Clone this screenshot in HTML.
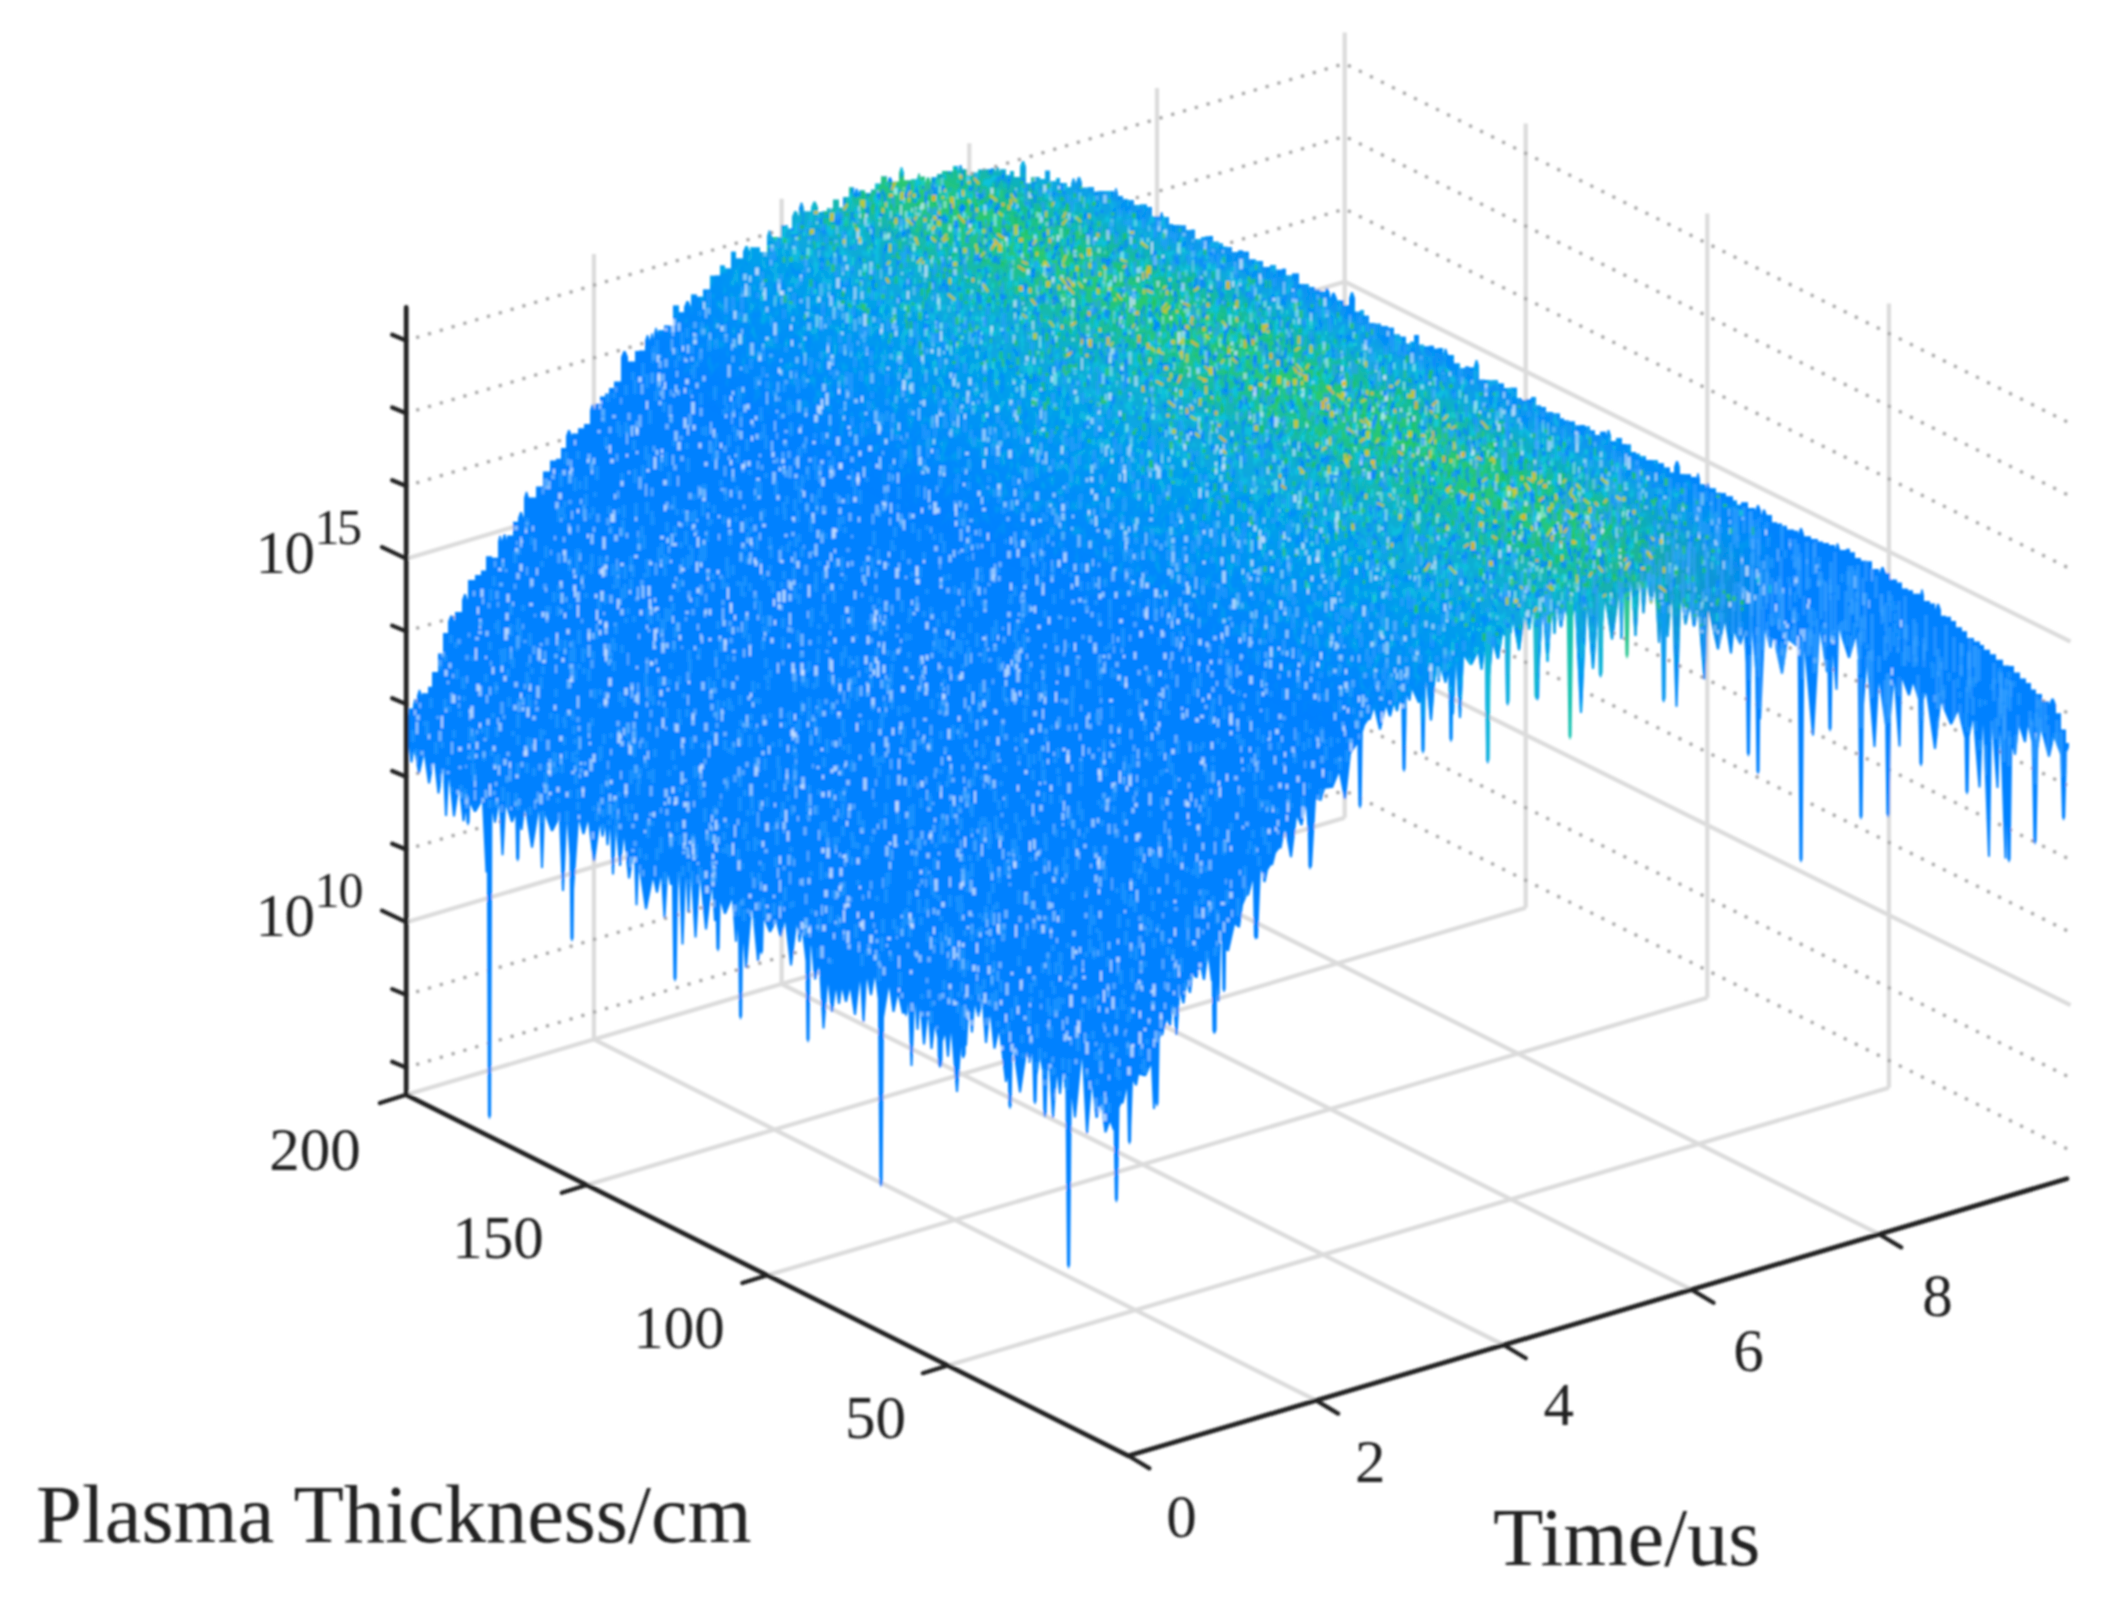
<!DOCTYPE html><html><head><meta charset="utf-8"><title>Plot</title><style>html,body{margin:0;padding:0;background:#fff}svg{display:block}</style></head><body><svg width="2110" height="1598" viewBox="0 0 2110 1598">
<rect width="100%" height="100%" fill="#fff"/>
<filter id="bl" filterUnits="userSpaceOnUse" x="0" y="0" width="2110" height="1598"><feGaussianBlur stdDeviation="1.0"/></filter>
<g filter="url(#bl)">
<path d="M593.9 1039.4L1316.1 1400.4M781.6 984.0L1503.8 1345.0M969.3 928.6L1691.5 1289.6M1157.0 873.2L1879.2 1234.2M406.2 1094.8L1344.7 817.8M586.8 1185.0L1525.7 907.8M767.3 1275.3L1707.3 997.7M947.8 1365.5L1888.9 1087.7M593.9 1039.4L593.9 254.1M781.6 984.0L781.6 198.7M969.3 928.6L969.3 143.3M1157.0 873.2L1157.0 87.9M1344.7 817.8L1344.7 32.5M1525.7 907.8L1525.7 123.5M1707.3 997.7L1707.3 213.4M1888.9 1087.7L1888.9 303.4M406.2 922.2L1344.7 645.2M1344.7 645.2L2070.5 1005.1M406.2 558.7L1344.7 281.7M1344.7 281.7L2070.5 641.6" fill="none" stroke="#dbdbdb" stroke-width="4.2"/>
<path d="M416.2 1064.6L1344.7 790.6L2068.5 1149.5M416.2 991.9L1344.7 717.9L2068.5 1076.8M416.2 846.5L1344.7 572.5L2068.5 931.4M416.2 773.8L1344.7 499.8L2068.5 858.7M416.2 701.1L1344.7 427.1L2068.5 786.0M416.2 628.4L1344.7 354.4L2068.5 713.3M416.2 483.0L1344.7 209.0L2068.5 567.9M416.2 410.3L1344.7 136.3L2068.5 495.2M416.2 337.6L1344.7 63.6L2068.5 422.5" fill="none" stroke="#a4a4a4" stroke-width="3.2" stroke-dasharray="3.2 9.1"/>
<defs>
<linearGradient id="bandg" gradientUnits="userSpaceOnUse" x1="1130.7" y1="167.4" x2="941.6" y2="531.2"><stop offset="0.000" stop-color="#0a86ff" stop-opacity="0"/><stop offset="0.054" stop-color="#0a98f2" stop-opacity="0.55"/><stop offset="0.127" stop-color="#0cb0d8" stop-opacity="0.85"/><stop offset="0.200" stop-color="#18c090" stop-opacity="0.95"/><stop offset="0.280" stop-color="#2ccc68" stop-opacity="0.97"/><stop offset="0.366" stop-color="#1ec48c" stop-opacity="0.93"/><stop offset="0.463" stop-color="#10b6c8" stop-opacity="0.86"/><stop offset="0.573" stop-color="#08aee0" stop-opacity="0.78"/><stop offset="0.707" stop-color="#08a4ec" stop-opacity="0.6"/><stop offset="0.854" stop-color="#0a98f6" stop-opacity="0.32"/><stop offset="1.000" stop-color="#0a86ff" stop-opacity="0"/></linearGradient>
<linearGradient id="alongg" gradientUnits="userSpaceOnUse" x1="698.5" y1="66.6" x2="1763.2" y2="620.2"><stop offset="0" stop-color="#000"/><stop offset="0.117" stop-color="#fff"/><stop offset="0.833" stop-color="#fff"/><stop offset="1" stop-color="#000"/></linearGradient>
<filter id="mot" filterUnits="userSpaceOnUse" x="500" y="100" width="1500" height="900" color-interpolation-filters="sRGB"><feTurbulence type="fractalNoise" baseFrequency="0.17 0.075" numOctaves="2" seed="5" result="n"/><feColorMatrix in="n" type="matrix" values="0 0 0 0 0.02  0 0 0 0 0.53  0 0 0 0 1  5 0 0 0 -2.75" result="b"/><feComposite in="b" in2="SourceGraphic" operator="in" result="bb"/><feTurbulence type="fractalNoise" baseFrequency="0.15 0.08" numOctaves="2" seed="11" result="n2"/><feColorMatrix in="n2" type="matrix" values="0 0 0 0 0.04  0 0 0 0 0.76  0 0 0 0 0.88  5 0 0 0 -2.55" result="c"/><feComposite in="c" in2="SourceGraphic" operator="in" result="cc"/><feMerge><feMergeNode in="SourceGraphic"/><feMergeNode in="cc"/><feMergeNode in="bb"/></feMerge></filter>
<mask id="bm" maskUnits="userSpaceOnUse" x="0" y="0" width="2110" height="1598"><rect width="2110" height="1598" fill="url(#alongg)"/></mask>
<clipPath id="sc"><path d="M404.0 716.3 405.8 710.3 407.2 710.3 409.0 716.3 409.0 708.5 413.0 708.5 413.0 705.1 414.4 699.1 415.6 699.1 417.0 705.1 417.0 695.8 418.8 689.8 420.2 689.8 422.0 695.8 422.0 693.3 428.0 693.3 428.0 686.8 432.0 686.8 432.0 672.1 438.0 672.1 438.0 653.6 443.0 653.6 443.0 633.0 448.0 633.0 448.0 621.5 450.4 615.5 452.6 615.5 455.0 621.5 455.0 612.1 462.0 612.1 462.0 600.0 464.1 594.0 465.9 594.0 468.0 600.0 468.0 579.9 475.0 579.9 475.0 575.1 481.0 575.1 481.0 570.5 486.0 570.5 486.0 556.3 492.0 556.3 492.0 557.8 498.0 557.8 498.0 541.4 499.4 535.4 500.6 535.4 502.0 541.4 502.0 540.0 503.8 534.0 505.2 534.0 507.0 540.0 507.0 535.4 513.0 535.4 513.0 521.7 518.0 521.7 518.0 518.1 520.1 512.1 521.9 512.1 524.0 518.1 524.0 497.8 525.8 491.8 527.2 491.8 529.0 497.8 529.0 497.4 536.0 497.4 536.0 486.6 543.0 486.6 543.0 471.4 550.0 471.4 550.0 460.6 556.0 460.6 556.0 458.7 561.0 458.7 561.0 448.1 566.0 448.1 566.0 436.1 568.1 430.1 569.9 430.1 572.0 436.1 572.0 433.5 578.0 433.5 578.0 428.2 584.0 428.2 584.0 424.0 590.0 424.0 590.0 410.4 591.8 404.4 593.2 404.4 595.0 410.4 595.0 403.7 600.0 403.7 600.0 396.5 605.0 396.5 605.0 393.4 609.0 393.4 609.0 388.0 614.0 388.0 614.0 381.6 621.0 381.6 621.0 356.9 623.5 350.9 625.5 350.9 628.0 356.9 628.0 361.5 635.0 361.5 635.0 351.1 639.0 351.1 639.0 350.4 645.0 350.4 645.0 341.1 646.8 335.1 648.2 335.1 650.0 341.1 650.0 339.2 651.4 333.2 652.6 333.2 654.0 339.2 654.0 333.7 655.4 327.7 656.6 327.7 658.0 333.7 658.0 330.2 664.0 330.2 664.0 325.6 669.0 325.6 669.0 325.8 673.0 325.8 673.0 305.5 679.0 305.5 679.0 312.2 684.0 312.2 684.0 306.9 686.5 300.9 688.5 300.9 691.0 306.9 691.0 294.6 697.0 294.6 697.0 296.7 703.0 296.7 703.0 289.6 710.0 289.6 710.0 275.8 715.0 275.8 715.0 275.6 720.0 275.6 720.0 265.6 725.0 265.6 725.0 268.4 731.0 268.4 731.0 251.7 736.0 251.7 736.0 258.5 743.0 258.5 743.0 252.1 745.5 246.1 747.5 246.1 750.0 252.1 750.0 247.6 755.0 247.6 755.0 247.4 760.0 247.4 760.0 252.1 767.0 252.1 767.0 236.5 768.8 230.5 770.2 230.5 772.0 236.5 772.0 236.9 777.0 236.9 777.0 237.1 781.0 237.1 781.0 225.5 788.0 225.5 788.0 228.8 792.0 228.8 792.0 217.0 794.5 211.0 796.5 211.0 799.0 217.0 799.0 208.7 800.8 202.7 802.2 202.7 804.0 208.7 804.0 211.4 811.0 211.4 811.0 207.7 813.5 201.7 815.5 201.7 818.0 207.7 818.0 212.0 822.0 212.0 822.0 211.4 827.0 211.4 827.0 208.0 833.0 208.0 833.0 199.7 839.0 199.7 839.0 207.8 843.0 207.8 843.0 197.2 849.0 197.2 849.0 187.5 854.0 187.5 854.0 194.8 855.8 188.8 857.2 188.8 859.0 194.8 859.0 190.6 865.0 190.6 865.0 193.2 871.0 193.2 871.0 189.8 875.0 189.8 875.0 183.7 881.0 183.7 881.0 176.6 887.0 176.6 887.0 183.6 889.1 177.6 890.9 177.6 893.0 183.6 893.0 181.7 899.0 181.7 899.0 173.5 900.8 167.5 902.2 167.5 904.0 173.5 904.0 180.4 911.0 180.4 911.0 179.6 917.0 179.6 917.0 179.7 918.4 173.7 919.6 173.7 921.0 179.7 921.0 176.8 925.0 176.8 925.0 183.5 927.1 177.5 928.9 177.5 931.0 183.5 931.0 177.5 937.0 177.5 937.0 174.2 942.0 174.2 942.0 171.1 948.0 171.1 948.0 171.5 953.0 171.5 953.0 165.9 958.0 165.9 958.0 171.3 959.8 165.3 961.2 165.3 963.0 171.3 963.0 169.4 967.0 169.4 967.0 174.9 973.0 174.9 973.0 172.7 978.0 172.7 978.0 169.8 985.0 169.8 985.0 169.6 991.0 169.6 991.0 168.4 995.0 168.4 995.0 172.9 996.8 166.9 998.2 166.9 1000.0 172.9 1000.0 169.4 1006.0 169.4 1006.0 175.0 1010.0 175.0 1010.0 171.1 1014.0 171.1 1014.0 177.0 1020.0 177.0 1020.0 167.1 1022.1 161.1 1023.9 161.1 1026.0 167.1 1026.0 183.4 1031.0 183.4 1031.0 177.5 1035.0 177.5 1035.0 176.9 1040.0 176.9 1040.0 178.9 1045.0 178.9 1045.0 170.8 1050.0 170.8 1050.0 181.3 1056.0 181.3 1056.0 178.0 1060.0 178.0 1060.0 183.1 1067.0 183.1 1067.0 187.1 1071.0 187.1 1071.0 184.4 1072.8 178.4 1074.2 178.4 1076.0 184.4 1076.0 183.1 1078.1 177.1 1079.9 177.1 1082.0 183.1 1082.0 187.8 1088.0 187.8 1088.0 187.2 1094.0 187.2 1094.0 191.7 1098.0 191.7 1098.0 190.9 1103.0 190.9 1103.0 191.3 1109.0 191.3 1109.0 191.0 1114.0 191.0 1114.0 194.3 1115.4 188.3 1116.6 188.3 1118.0 194.3 1118.0 196.1 1123.0 196.1 1123.0 199.3 1128.0 199.3 1128.0 200.3 1134.0 200.3 1134.0 204.9 1140.0 204.9 1140.0 204.5 1147.0 204.5 1147.0 206.9 1152.0 206.9 1152.0 216.4 1159.0 216.4 1159.0 218.3 1160.8 212.3 1162.2 212.3 1164.0 218.3 1164.0 217.0 1169.0 217.0 1169.0 224.0 1173.0 224.0 1173.0 224.9 1180.0 224.9 1180.0 225.6 1186.0 225.6 1186.0 230.3 1191.0 230.3 1191.0 229.8 1195.0 229.8 1195.0 239.2 1201.0 239.2 1201.0 237.2 1205.0 237.2 1205.0 236.5 1209.0 236.5 1209.0 236.0 1213.0 236.0 1213.0 241.8 1219.0 241.8 1219.0 243.6 1223.0 243.6 1223.0 246.7 1227.0 246.7 1227.0 247.2 1232.0 247.2 1232.0 252.1 1238.0 252.1 1238.0 250.5 1243.0 250.5 1243.0 251.8 1249.0 251.8 1249.0 259.5 1256.0 259.5 1256.0 261.0 1263.0 261.0 1263.0 267.0 1270.0 267.0 1270.0 264.9 1276.0 264.9 1276.0 269.8 1282.0 269.8 1282.0 268.7 1286.0 268.7 1286.0 275.4 1292.0 275.4 1292.0 273.6 1299.0 273.6 1299.0 284.0 1303.0 284.0 1303.0 284.2 1309.0 284.2 1309.0 287.1 1315.0 287.1 1315.0 289.8 1320.0 289.8 1320.0 291.3 1324.0 291.3 1324.0 294.1 1326.1 288.1 1327.9 288.1 1330.0 294.1 1330.0 298.8 1332.5 292.8 1334.5 292.8 1337.0 298.8 1337.0 300.6 1344.0 300.6 1344.0 305.3 1349.0 305.3 1349.0 298.2 1351.1 292.2 1352.9 292.2 1355.0 298.2 1355.0 311.7 1360.0 311.7 1360.0 310.1 1364.0 310.1 1364.0 315.8 1369.0 315.8 1369.0 323.0 1375.0 323.0 1375.0 323.7 1381.0 323.7 1381.0 325.9 1388.0 325.9 1388.0 327.7 1394.0 327.7 1394.0 334.5 1400.0 334.5 1400.0 336.7 1406.0 336.7 1406.0 343.7 1410.0 343.7 1410.0 341.8 1414.0 341.8 1414.0 335.1 1419.0 335.1 1419.0 344.7 1424.0 344.7 1424.0 346.6 1429.0 346.6 1429.0 345.8 1434.0 345.8 1434.0 348.7 1438.0 348.7 1438.0 347.9 1443.0 347.9 1443.0 354.7 1444.8 348.7 1446.2 348.7 1448.0 354.7 1448.0 354.9 1454.0 354.9 1454.0 363.6 1460.0 363.6 1460.0 368.3 1465.0 368.3 1465.0 366.4 1469.0 366.4 1469.0 367.6 1474.0 367.6 1474.0 365.9 1475.8 359.9 1477.2 359.9 1479.0 365.9 1479.0 379.8 1485.0 379.8 1485.0 380.1 1489.0 380.1 1489.0 380.6 1493.0 380.6 1493.0 380.3 1498.0 380.3 1498.0 383.4 1504.0 383.4 1504.0 388.3 1510.0 388.3 1510.0 387.8 1517.0 387.8 1517.0 398.3 1522.0 398.3 1522.0 400.1 1526.0 400.1 1526.0 399.2 1531.0 399.2 1531.0 397.1 1536.0 397.1 1536.0 405.5 1541.0 405.5 1541.0 406.9 1546.0 406.9 1546.0 411.9 1553.0 411.9 1553.0 413.4 1560.0 413.4 1560.0 418.6 1564.0 418.6 1564.0 420.4 1569.0 420.4 1569.0 421.5 1575.0 421.5 1575.0 425.5 1580.0 425.5 1580.0 424.9 1585.0 424.9 1585.0 426.6 1590.0 426.6 1590.0 430.4 1595.0 430.4 1595.0 435.0 1600.0 435.0 1600.0 431.7 1606.0 431.7 1606.0 435.9 1607.8 429.9 1609.2 429.9 1611.0 435.9 1611.0 441.3 1616.0 441.3 1616.0 438.0 1622.0 438.0 1622.0 444.1 1626.0 444.1 1626.0 444.4 1631.0 444.4 1631.0 452.1 1636.0 452.1 1636.0 453.7 1640.0 453.7 1640.0 456.3 1646.0 456.3 1646.0 459.9 1652.0 459.9 1652.0 460.3 1658.0 460.3 1658.0 463.3 1664.0 463.3 1664.0 467.5 1670.0 467.5 1670.0 472.5 1674.0 472.5 1674.0 467.0 1676.1 461.0 1677.9 461.0 1680.0 467.0 1680.0 473.9 1684.0 473.9 1684.0 474.3 1691.0 474.3 1691.0 476.9 1696.0 476.9 1696.0 479.2 1697.4 473.2 1698.6 473.2 1700.0 479.2 1700.0 484.2 1706.0 484.2 1706.0 488.9 1707.4 482.9 1708.6 482.9 1710.0 488.9 1710.0 488.2 1716.0 488.2 1716.0 492.7 1721.0 492.7 1721.0 493.1 1726.0 493.1 1726.0 496.3 1733.0 496.3 1733.0 500.5 1737.0 500.5 1737.0 504.7 1741.0 504.7 1741.0 502.2 1748.0 502.2 1748.0 508.1 1755.0 508.1 1755.0 510.9 1757.1 504.9 1758.9 504.9 1761.0 510.9 1761.0 515.6 1763.1 509.6 1764.9 509.6 1767.0 515.6 1767.0 515.1 1772.0 515.1 1772.0 522.2 1777.0 522.2 1777.0 523.6 1782.0 523.6 1782.0 525.7 1787.0 525.7 1787.0 529.5 1794.0 529.5 1794.0 530.8 1798.0 530.8 1798.0 533.9 1800.1 527.9 1801.9 527.9 1804.0 533.9 1804.0 536.2 1811.0 536.2 1811.0 539.1 1818.0 539.1 1818.0 541.4 1823.0 541.4 1823.0 543.0 1829.0 543.0 1829.0 544.9 1835.0 544.9 1835.0 549.3 1836.8 543.3 1838.2 543.3 1840.0 549.3 1840.0 550.0 1846.0 550.0 1846.0 548.8 1850.0 548.8 1850.0 552.3 1855.0 552.3 1855.0 558.1 1861.0 558.1 1861.0 560.7 1867.0 560.7 1867.0 561.2 1872.0 561.2 1872.0 568.9 1879.0 568.9 1879.0 573.1 1881.5 567.1 1883.5 567.1 1886.0 573.1 1886.0 573.2 1890.0 573.2 1890.0 579.6 1897.0 579.6 1897.0 582.5 1902.0 582.5 1902.0 588.5 1908.0 588.5 1908.0 590.2 1913.0 590.2 1913.0 593.8 1920.0 593.8 1920.0 595.2 1921.4 589.2 1922.6 589.2 1924.0 595.2 1924.0 600.9 1930.0 600.9 1930.0 603.6 1935.0 603.6 1935.0 609.7 1937.1 603.7 1938.9 603.7 1941.0 609.7 1941.0 615.8 1946.0 615.8 1946.0 616.7 1951.0 616.7 1951.0 620.9 1956.0 620.9 1956.0 627.3 1962.0 627.3 1962.0 631.3 1967.0 631.3 1967.0 637.9 1974.0 637.9 1974.0 641.4 1980.0 641.4 1980.0 644.9 1984.0 644.9 1984.0 649.8 1990.0 649.8 1990.0 654.3 1996.0 654.3 1996.0 659.8 2003.0 659.8 2003.0 665.6 2009.0 665.6 2009.0 666.0 2014.0 666.0 2014.0 672.4 2020.0 672.4 2020.0 678.6 2026.0 678.6 2026.0 682.9 2031.0 682.9 2031.0 689.6 2036.0 689.6 2036.0 693.9 2042.0 693.9 2042.0 701.5 2049.0 701.5 2049.0 704.6 2051.4 698.6 2053.6 698.6 2056.0 704.6 2056.0 713.2 2061.0 713.2 2061.0 729.4 2066.0 729.4 2066.0 743.1 2069.0 743.1 2069.0 747.3 2064.0 759.3 2062.0 759.3 2054.0 737.9 2050.0 756.7 2048.0 756.7 2041.0 729.8 2037.0 757.2 2035.0 757.2 2028.0 726.3 2026.0 742.2 2024.0 742.2 2019.0 726.3 2016.0 755.0 2014.0 755.0 2008.0 728.8 2006.5 858.4 2004.5 858.4 2000.0 729.3 1998.5 788.0 1996.5 788.0 1992.0 727.1 1990.0 856.7 1988.0 856.7 1983.0 724.4 1980.5 787.6 1978.5 787.6 1973.0 719.6 1968.0 744.4 1966.0 744.4 1958.0 711.5 1952.0 724.6 1950.0 724.6 1941.0 703.1 1936.0 748.9 1934.0 748.9 1926.0 693.1 1922.0 705.2 1920.0 705.2 1913.0 683.4 1910.0 695.5 1908.0 695.5 1902.0 679.2 1900.5 746.5 1898.5 746.5 1894.0 681.7 1889.0 739.3 1887.0 739.3 1879.0 682.7 1875.5 747.1 1873.5 747.1 1867.0 665.5 1864.0 704.3 1862.0 704.3 1856.0 637.1 1850.0 658.0 1848.0 658.0 1839.0 629.5 1837.5 689.7 1835.5 689.7 1831.0 631.4 1828.0 672.2 1826.0 672.2 1820.0 631.5 1814.0 735.6 1812.0 735.6 1803.0 634.5 1798.0 646.3 1796.0 646.3 1788.0 640.0 1783.0 673.7 1781.0 673.7 1773.0 637.4 1771.5 648.1 1769.5 648.1 1765.0 631.2 1761.0 719.3 1759.0 719.3 1752.0 629.9 1750.5 712.4 1748.5 712.4 1744.0 634.0 1741.5 644.4 1739.5 644.4 1734.0 632.4 1732.0 653.6 1730.0 653.6 1725.0 621.9 1719.0 649.6 1717.0 649.6 1708.0 609.3 1705.5 679.5 1703.5 679.5 1698.0 613.7 1695.0 626.6 1693.0 626.6 1690.0 607.3 1686.5 624.6 1684.5 624.6 1681.0 600.1 1677.5 706.7 1675.5 706.7 1672.0 597.4 1668.5 636.7 1666.5 636.7 1663.0 595.1 1660.0 642.7 1658.0 642.7 1655.0 588.6 1652.0 603.5 1650.0 603.5 1647.0 581.6 1644.5 613.3 1642.5 613.3 1640.0 578.2 1636.5 636.0 1634.5 636.0 1631.0 581.1 1628.5 610.9 1626.5 610.9 1624.0 586.4 1622.5 638.9 1620.5 638.9 1619.0 595.5 1613.0 639.6 1611.0 639.6 1605.0 600.5 1603.0 622.7 1601.0 622.7 1599.0 602.9 1594.0 669.1 1592.0 669.1 1587.0 606.4 1582.0 713.0 1580.0 713.0 1575.0 608.6 1571.0 623.7 1569.0 623.7 1565.0 609.0 1562.0 627.2 1560.0 627.2 1557.0 608.9 1555.5 633.7 1553.5 633.7 1552.0 609.0 1548.5 661.8 1546.5 661.8 1543.0 610.5 1539.0 676.0 1537.0 676.0 1533.0 613.0 1530.0 629.8 1528.0 629.8 1525.0 617.6 1520.0 650.3 1518.0 650.3 1513.0 621.5 1511.5 633.3 1509.5 633.3 1508.0 625.7 1506.5 636.0 1504.5 636.0 1503.0 633.7 1499.0 658.9 1497.0 658.9 1493.0 644.5 1490.0 676.9 1488.0 676.9 1485.0 649.9 1482.5 669.5 1480.5 669.5 1478.0 652.8 1472.0 665.0 1470.0 665.0 1464.0 656.3 1461.0 717.9 1459.0 717.9 1456.0 661.6 1454.0 714.3 1452.0 714.3 1450.0 666.3 1446.5 682.8 1444.5 682.8 1441.0 669.3 1439.5 681.7 1437.5 681.7 1436.0 672.7 1432.0 720.6 1430.0 720.6 1426.0 680.9 1420.0 702.9 1418.0 702.9 1412.0 689.6 1410.5 700.4 1408.5 700.4 1407.0 695.2 1404.5 708.6 1402.5 708.6 1400.0 700.7 1398.0 711.3 1396.0 711.3 1394.0 704.6 1391.0 716.5 1389.0 716.5 1386.0 706.6 1381.0 729.7 1379.0 729.7 1374.0 708.4 1370.5 720.1 1368.5 720.1 1365.0 724.9 1359.0 744.7 1357.0 744.7 1351.0 753.4 1346.0 799.0 1344.0 799.0 1339.0 772.9 1333.0 788.0 1331.0 788.0 1325.0 788.7 1321.5 800.8 1319.5 800.8 1316.0 799.3 1312.0 867.0 1310.0 867.0 1306.0 805.9 1302.5 825.6 1300.5 825.6 1297.0 817.1 1292.0 857.2 1290.0 857.2 1285.0 829.4 1281.5 848.5 1279.5 848.5 1276.0 853.0 1273.0 865.3 1271.0 865.3 1268.0 869.9 1265.5 882.3 1263.5 882.3 1261.0 868.8 1258.0 938.6 1256.0 938.6 1253.0 879.8 1249.0 895.4 1247.0 895.4 1243.0 905.2 1240.0 927.6 1238.0 927.6 1235.0 924.5 1229.0 951.2 1227.0 951.2 1221.0 940.9 1219.5 1001.6 1217.5 1001.6 1216.0 949.2 1213.0 981.1 1211.0 981.1 1208.0 957.1 1205.0 980.0 1203.0 980.0 1200.0 966.7 1197.5 977.9 1195.5 977.9 1193.0 975.4 1191.0 993.0 1189.0 993.0 1187.0 984.0 1184.5 1003.4 1182.5 1003.4 1180.0 994.4 1177.5 1035.0 1175.5 1035.0 1173.0 1005.7 1171.0 1026.1 1169.0 1026.1 1167.0 1019.8 1163.0 1035.6 1161.0 1035.6 1157.0 1044.1 1155.0 1109.1 1153.0 1109.1 1151.0 1065.3 1146.0 1076.2 1144.0 1076.2 1139.0 1074.7 1137.0 1085.6 1135.0 1085.6 1133.0 1080.9 1131.0 1136.2 1129.0 1136.2 1127.0 1088.6 1123.5 1103.6 1121.5 1103.6 1118.0 1111.3 1115.0 1130.3 1113.0 1130.3 1110.0 1122.3 1106.5 1132.5 1104.5 1132.5 1101.0 1106.8 1097.5 1118.1 1095.5 1118.1 1092.0 1085.4 1088.0 1133.5 1086.0 1133.5 1082.0 1057.9 1076.0 1117.5 1074.0 1117.5 1068.0 1065.6 1066.5 1087.7 1064.5 1087.7 1063.0 1072.9 1061.0 1094.0 1059.0 1094.0 1057.0 1075.4 1054.0 1118.0 1052.0 1118.0 1049.0 1067.0 1045.5 1078.5 1043.5 1078.5 1040.0 1058.6 1037.0 1077.5 1035.0 1077.5 1032.0 1053.0 1030.5 1063.1 1028.5 1063.1 1027.0 1051.5 1021.0 1092.4 1019.0 1092.4 1013.0 1048.7 1007.0 1082.1 1005.0 1082.1 999.0 1032.1 995.5 1048.8 993.5 1048.8 990.0 1015.2 987.0 1043.1 985.0 1043.1 982.0 1003.6 979.5 1016.7 977.5 1016.7 975.0 1004.9 973.0 1032.4 971.0 1032.4 969.0 1010.1 967.0 1045.8 965.0 1045.8 963.0 1022.1 958.0 1091.9 956.0 1091.9 951.0 1032.4 949.0 1056.7 947.0 1056.7 945.0 1035.1 941.0 1046.9 939.0 1046.9 935.0 1026.7 932.5 1049.1 930.5 1049.1 928.0 1016.4 925.0 1044.4 923.0 1044.4 920.0 1008.6 918.5 1029.7 916.5 1029.7 915.0 1003.3 912.5 1066.0 910.5 1066.0 908.0 999.0 904.0 1013.8 902.0 1013.8 898.0 995.3 894.5 1012.0 892.5 1012.0 889.0 987.3 883.0 1024.0 881.0 1024.0 875.0 977.1 872.0 995.2 870.0 995.2 867.0 978.6 864.5 1022.0 862.5 1022.0 860.0 981.0 856.0 1015.0 854.0 1015.0 850.0 989.0 847.0 1002.1 845.0 1002.1 842.0 989.3 840.0 1004.0 838.0 1004.0 836.0 989.5 833.0 1012.1 831.0 1012.1 828.0 984.0 824.5 1028.4 822.5 1028.4 819.0 966.5 816.0 979.5 814.0 979.5 811.0 945.3 807.5 961.3 805.5 961.3 802.0 931.8 800.5 942.1 798.5 942.1 797.0 924.6 792.0 965.4 790.0 965.4 785.0 921.8 781.5 936.6 779.5 936.6 776.0 922.2 771.0 932.3 769.0 932.3 764.0 919.5 759.0 960.9 757.0 960.9 752.0 909.1 747.0 967.7 745.0 967.7 740.0 902.2 737.0 941.8 735.0 941.8 732.0 899.5 726.0 913.9 724.0 913.9 718.0 893.5 716.0 921.0 714.0 921.0 712.0 887.2 707.0 929.6 705.0 929.6 700.0 878.4 696.5 937.6 694.5 937.6 691.0 877.0 689.5 912.3 687.5 912.3 686.0 876.1 683.5 944.6 681.5 944.6 679.0 875.0 677.5 897.8 675.5 897.8 674.0 873.9 672.0 884.9 670.0 884.9 668.0 874.7 665.5 917.4 663.5 917.4 661.0 877.1 658.0 892.8 656.0 892.8 653.0 878.9 647.0 909.2 645.0 909.2 639.0 868.8 637.5 905.3 635.5 905.3 634.0 854.7 630.0 878.4 628.0 878.4 624.0 838.1 621.0 866.1 619.0 866.1 616.0 830.6 614.0 874.6 612.0 874.6 610.0 827.7 608.5 845.3 606.5 845.3 605.0 826.4 603.5 836.8 601.5 836.8 600.0 825.2 595.0 861.0 593.0 861.0 588.0 821.2 584.5 834.3 582.5 834.3 579.0 820.4 574.0 890.2 572.0 890.2 567.0 821.3 564.0 891.1 562.0 891.1 559.0 819.4 553.0 831.3 551.0 831.3 545.0 815.0 543.0 868.1 541.0 868.1 539.0 811.0 533.0 847.8 531.0 847.8 525.0 808.7 522.5 830.0 520.5 830.0 518.0 807.3 513.0 822.2 511.0 822.2 506.0 805.8 503.5 855.2 501.5 855.2 499.0 804.6 496.0 822.7 494.0 822.7 491.0 802.8 487.5 872.6 485.5 872.6 482.0 801.8 476.0 811.9 474.0 811.9 468.0 799.8 464.5 821.3 462.5 821.3 459.0 789.5 455.0 816.5 453.0 816.5 449.0 778.2 447.0 816.1 445.0 816.1 443.0 768.6 439.5 793.6 437.5 793.6 434.0 761.4 430.0 783.4 428.0 783.4 424.0 755.2 420.0 773.0 418.0 773.0 414.0 750.7 412.5 762.6 410.5 762.6 409.0 747.0 407.5 759.3 405.5 759.3 404.0 758.0ZM486.5 784.0L492.5 784.0L491.1 1115.5L489.5 1119.5L487.9 1115.5ZM569.0 801.3L575.0 801.3L573.6 938.0L572.0 942.0L570.4 938.0ZM671.5 860.1L678.5 860.1L676.6 978.0L675.0 982.0L673.4 978.0ZM737.6 896.8L743.6 896.8L742.2 1016.0L740.6 1020.0L739.0 1016.0ZM805.0 917.1L811.0 917.1L809.6 1039.0L808.0 1043.0L806.4 1039.0ZM877.5 958.2L884.5 958.2L882.6 1183.5L881.0 1187.5L879.4 1183.5ZM937.7 1007.3L943.7 1007.3L942.3 1064.0L940.7 1068.0L939.1 1064.0ZM1007.0 1033.7L1013.0 1033.7L1011.6 1105.5L1010.0 1109.5L1008.4 1105.5ZM1065.1 1055.9L1072.1 1055.9L1070.2 1265.0L1068.6 1269.0L1067.0 1265.0ZM1112.9 1087.3L1119.9 1087.3L1118.0 1199.0L1116.4 1203.0L1114.8 1199.0ZM1126.5 1065.5L1132.5 1065.5L1131.1 1141.0L1129.5 1145.0L1127.9 1141.0ZM1154.0 1020.0L1160.0 1020.0L1158.6 1103.0L1157.0 1107.0L1155.4 1103.0ZM1211.0 932.7L1217.0 932.7L1215.6 1030.6L1214.0 1034.6L1212.4 1030.6ZM1252.5 860.7L1258.5 860.7L1257.1 936.0L1255.5 940.0L1253.9 936.0ZM1307.0 788.9L1313.0 788.9L1311.6 866.0L1310.0 870.0L1308.4 866.0ZM1357.0 718.9L1363.0 718.9L1361.6 805.0L1360.0 809.0L1358.4 805.0ZM1401.0 684.3L1407.0 684.3L1405.6 768.5L1404.0 772.5L1402.4 768.5ZM1420.0 669.3L1426.0 669.3L1424.6 750.0L1423.0 754.0L1421.4 750.0ZM1448.0 645.1L1454.0 645.1L1452.6 738.6L1451.0 742.6L1449.4 738.6ZM1484.7 619.0L1490.7 619.0L1489.3 760.0L1487.7 764.0L1486.1 760.0ZM1504.6 609.1L1510.6 609.1L1509.2 702.0L1507.6 706.0L1506.0 702.0ZM1534.5 599.0L1540.5 599.0L1539.1 697.0L1537.5 701.0L1535.9 697.0ZM1597.5 587.3L1603.5 587.3L1602.1 674.0L1600.5 678.0L1598.9 674.0ZM1660.6 584.4L1666.6 584.4L1665.2 699.0L1663.6 703.0L1662.0 699.0ZM1745.4 642.8L1751.4 642.8L1750.0 753.0L1748.4 757.0L1746.8 753.0ZM1755.0 643.9L1761.0 643.9L1759.6 771.0L1758.0 775.0L1756.4 771.0ZM1797.5 637.3L1804.5 637.3L1802.6 859.0L1801.0 863.0L1799.4 859.0ZM1827.0 641.7L1833.0 641.7L1831.6 728.0L1830.0 732.0L1828.4 728.0ZM1857.5 659.1L1864.5 659.1L1862.6 816.0L1861.0 820.0L1859.4 816.0ZM1884.5 675.3L1891.5 675.3L1889.6 814.0L1888.0 818.0L1886.4 814.0ZM1918.0 691.8L1924.0 691.8L1922.6 763.0L1921.0 767.0L1919.4 763.0ZM1964.0 714.6L1970.0 714.6L1968.6 791.0L1967.0 795.0L1965.4 791.0ZM2005.5 728.4L2012.5 728.4L2010.6 859.0L2009.0 863.0L2007.4 859.0ZM2031.5 733.9L2038.5 733.9L2036.6 841.0L2035.0 845.0L2033.4 841.0ZM2060.1 748.6L2067.1 748.6L2065.2 817.0L2063.6 821.0L2062.0 817.0ZM514.7 788.8L520.7 788.8L519.3 858.0L517.7 862.0L516.1 858.0ZM465.0 777.5L471.0 777.5L469.6 822.0L468.0 826.0L466.4 822.0ZM715.0 886.1L721.0 886.1L719.6 948.0L718.0 952.0L716.4 948.0ZM758.5 899.7L764.5 899.7L763.1 951.0L761.5 955.0L759.9 951.0ZM843.0 960.0L849.0 960.0L847.6 998.0L846.0 1002.0L844.4 998.0ZM903.0 981.0L909.0 981.0L907.6 1013.0L906.0 1017.0L904.4 1013.0ZM961.0 1001.2L967.0 1001.2L965.6 1054.0L964.0 1058.0L962.4 1054.0ZM1042.0 1062.0L1048.0 1062.0L1046.6 1114.0L1045.0 1118.0L1043.4 1114.0ZM1032.0 1052.0L1038.0 1052.0L1036.6 1101.0L1035.0 1105.0L1033.4 1101.0ZM960.5 1001.5L965.5 1001.5L964.6 1055.0L963.0 1059.0L961.4 1055.0ZM936.5 1007.6L942.5 1007.6L941.1 1064.0L939.5 1068.0L937.9 1064.0ZM1221.5 921.1L1226.5 921.1L1225.6 989.0L1224.0 993.0L1222.4 989.0ZM1212.5 931.5L1217.5 931.5L1216.6 1030.0L1215.0 1034.0L1213.4 1030.0ZM1253.5 860.2L1258.5 860.2L1257.6 935.0L1256.0 939.0L1254.4 935.0Z"/></clipPath>
</defs>
<path d="M404.0 716.3 405.8 710.3 407.2 710.3 409.0 716.3 409.0 708.5 413.0 708.5 413.0 705.1 414.4 699.1 415.6 699.1 417.0 705.1 417.0 695.8 418.8 689.8 420.2 689.8 422.0 695.8 422.0 693.3 428.0 693.3 428.0 686.8 432.0 686.8 432.0 672.1 438.0 672.1 438.0 653.6 443.0 653.6 443.0 633.0 448.0 633.0 448.0 621.5 450.4 615.5 452.6 615.5 455.0 621.5 455.0 612.1 462.0 612.1 462.0 600.0 464.1 594.0 465.9 594.0 468.0 600.0 468.0 579.9 475.0 579.9 475.0 575.1 481.0 575.1 481.0 570.5 486.0 570.5 486.0 556.3 492.0 556.3 492.0 557.8 498.0 557.8 498.0 541.4 499.4 535.4 500.6 535.4 502.0 541.4 502.0 540.0 503.8 534.0 505.2 534.0 507.0 540.0 507.0 535.4 513.0 535.4 513.0 521.7 518.0 521.7 518.0 518.1 520.1 512.1 521.9 512.1 524.0 518.1 524.0 497.8 525.8 491.8 527.2 491.8 529.0 497.8 529.0 497.4 536.0 497.4 536.0 486.6 543.0 486.6 543.0 471.4 550.0 471.4 550.0 460.6 556.0 460.6 556.0 458.7 561.0 458.7 561.0 448.1 566.0 448.1 566.0 436.1 568.1 430.1 569.9 430.1 572.0 436.1 572.0 433.5 578.0 433.5 578.0 428.2 584.0 428.2 584.0 424.0 590.0 424.0 590.0 410.4 591.8 404.4 593.2 404.4 595.0 410.4 595.0 403.7 600.0 403.7 600.0 396.5 605.0 396.5 605.0 393.4 609.0 393.4 609.0 388.0 614.0 388.0 614.0 381.6 621.0 381.6 621.0 356.9 623.5 350.9 625.5 350.9 628.0 356.9 628.0 361.5 635.0 361.5 635.0 351.1 639.0 351.1 639.0 350.4 645.0 350.4 645.0 341.1 646.8 335.1 648.2 335.1 650.0 341.1 650.0 339.2 651.4 333.2 652.6 333.2 654.0 339.2 654.0 333.7 655.4 327.7 656.6 327.7 658.0 333.7 658.0 330.2 664.0 330.2 664.0 325.6 669.0 325.6 669.0 325.8 673.0 325.8 673.0 305.5 679.0 305.5 679.0 312.2 684.0 312.2 684.0 306.9 686.5 300.9 688.5 300.9 691.0 306.9 691.0 294.6 697.0 294.6 697.0 296.7 703.0 296.7 703.0 289.6 710.0 289.6 710.0 275.8 715.0 275.8 715.0 275.6 720.0 275.6 720.0 265.6 725.0 265.6 725.0 268.4 731.0 268.4 731.0 251.7 736.0 251.7 736.0 258.5 743.0 258.5 743.0 252.1 745.5 246.1 747.5 246.1 750.0 252.1 750.0 247.6 755.0 247.6 755.0 247.4 760.0 247.4 760.0 252.1 767.0 252.1 767.0 236.5 768.8 230.5 770.2 230.5 772.0 236.5 772.0 236.9 777.0 236.9 777.0 237.1 781.0 237.1 781.0 225.5 788.0 225.5 788.0 228.8 792.0 228.8 792.0 217.0 794.5 211.0 796.5 211.0 799.0 217.0 799.0 208.7 800.8 202.7 802.2 202.7 804.0 208.7 804.0 211.4 811.0 211.4 811.0 207.7 813.5 201.7 815.5 201.7 818.0 207.7 818.0 212.0 822.0 212.0 822.0 211.4 827.0 211.4 827.0 208.0 833.0 208.0 833.0 199.7 839.0 199.7 839.0 207.8 843.0 207.8 843.0 197.2 849.0 197.2 849.0 187.5 854.0 187.5 854.0 194.8 855.8 188.8 857.2 188.8 859.0 194.8 859.0 190.6 865.0 190.6 865.0 193.2 871.0 193.2 871.0 189.8 875.0 189.8 875.0 183.7 881.0 183.7 881.0 176.6 887.0 176.6 887.0 183.6 889.1 177.6 890.9 177.6 893.0 183.6 893.0 181.7 899.0 181.7 899.0 173.5 900.8 167.5 902.2 167.5 904.0 173.5 904.0 180.4 911.0 180.4 911.0 179.6 917.0 179.6 917.0 179.7 918.4 173.7 919.6 173.7 921.0 179.7 921.0 176.8 925.0 176.8 925.0 183.5 927.1 177.5 928.9 177.5 931.0 183.5 931.0 177.5 937.0 177.5 937.0 174.2 942.0 174.2 942.0 171.1 948.0 171.1 948.0 171.5 953.0 171.5 953.0 165.9 958.0 165.9 958.0 171.3 959.8 165.3 961.2 165.3 963.0 171.3 963.0 169.4 967.0 169.4 967.0 174.9 973.0 174.9 973.0 172.7 978.0 172.7 978.0 169.8 985.0 169.8 985.0 169.6 991.0 169.6 991.0 168.4 995.0 168.4 995.0 172.9 996.8 166.9 998.2 166.9 1000.0 172.9 1000.0 169.4 1006.0 169.4 1006.0 175.0 1010.0 175.0 1010.0 171.1 1014.0 171.1 1014.0 177.0 1020.0 177.0 1020.0 167.1 1022.1 161.1 1023.9 161.1 1026.0 167.1 1026.0 183.4 1031.0 183.4 1031.0 177.5 1035.0 177.5 1035.0 176.9 1040.0 176.9 1040.0 178.9 1045.0 178.9 1045.0 170.8 1050.0 170.8 1050.0 181.3 1056.0 181.3 1056.0 178.0 1060.0 178.0 1060.0 183.1 1067.0 183.1 1067.0 187.1 1071.0 187.1 1071.0 184.4 1072.8 178.4 1074.2 178.4 1076.0 184.4 1076.0 183.1 1078.1 177.1 1079.9 177.1 1082.0 183.1 1082.0 187.8 1088.0 187.8 1088.0 187.2 1094.0 187.2 1094.0 191.7 1098.0 191.7 1098.0 190.9 1103.0 190.9 1103.0 191.3 1109.0 191.3 1109.0 191.0 1114.0 191.0 1114.0 194.3 1115.4 188.3 1116.6 188.3 1118.0 194.3 1118.0 196.1 1123.0 196.1 1123.0 199.3 1128.0 199.3 1128.0 200.3 1134.0 200.3 1134.0 204.9 1140.0 204.9 1140.0 204.5 1147.0 204.5 1147.0 206.9 1152.0 206.9 1152.0 216.4 1159.0 216.4 1159.0 218.3 1160.8 212.3 1162.2 212.3 1164.0 218.3 1164.0 217.0 1169.0 217.0 1169.0 224.0 1173.0 224.0 1173.0 224.9 1180.0 224.9 1180.0 225.6 1186.0 225.6 1186.0 230.3 1191.0 230.3 1191.0 229.8 1195.0 229.8 1195.0 239.2 1201.0 239.2 1201.0 237.2 1205.0 237.2 1205.0 236.5 1209.0 236.5 1209.0 236.0 1213.0 236.0 1213.0 241.8 1219.0 241.8 1219.0 243.6 1223.0 243.6 1223.0 246.7 1227.0 246.7 1227.0 247.2 1232.0 247.2 1232.0 252.1 1238.0 252.1 1238.0 250.5 1243.0 250.5 1243.0 251.8 1249.0 251.8 1249.0 259.5 1256.0 259.5 1256.0 261.0 1263.0 261.0 1263.0 267.0 1270.0 267.0 1270.0 264.9 1276.0 264.9 1276.0 269.8 1282.0 269.8 1282.0 268.7 1286.0 268.7 1286.0 275.4 1292.0 275.4 1292.0 273.6 1299.0 273.6 1299.0 284.0 1303.0 284.0 1303.0 284.2 1309.0 284.2 1309.0 287.1 1315.0 287.1 1315.0 289.8 1320.0 289.8 1320.0 291.3 1324.0 291.3 1324.0 294.1 1326.1 288.1 1327.9 288.1 1330.0 294.1 1330.0 298.8 1332.5 292.8 1334.5 292.8 1337.0 298.8 1337.0 300.6 1344.0 300.6 1344.0 305.3 1349.0 305.3 1349.0 298.2 1351.1 292.2 1352.9 292.2 1355.0 298.2 1355.0 311.7 1360.0 311.7 1360.0 310.1 1364.0 310.1 1364.0 315.8 1369.0 315.8 1369.0 323.0 1375.0 323.0 1375.0 323.7 1381.0 323.7 1381.0 325.9 1388.0 325.9 1388.0 327.7 1394.0 327.7 1394.0 334.5 1400.0 334.5 1400.0 336.7 1406.0 336.7 1406.0 343.7 1410.0 343.7 1410.0 341.8 1414.0 341.8 1414.0 335.1 1419.0 335.1 1419.0 344.7 1424.0 344.7 1424.0 346.6 1429.0 346.6 1429.0 345.8 1434.0 345.8 1434.0 348.7 1438.0 348.7 1438.0 347.9 1443.0 347.9 1443.0 354.7 1444.8 348.7 1446.2 348.7 1448.0 354.7 1448.0 354.9 1454.0 354.9 1454.0 363.6 1460.0 363.6 1460.0 368.3 1465.0 368.3 1465.0 366.4 1469.0 366.4 1469.0 367.6 1474.0 367.6 1474.0 365.9 1475.8 359.9 1477.2 359.9 1479.0 365.9 1479.0 379.8 1485.0 379.8 1485.0 380.1 1489.0 380.1 1489.0 380.6 1493.0 380.6 1493.0 380.3 1498.0 380.3 1498.0 383.4 1504.0 383.4 1504.0 388.3 1510.0 388.3 1510.0 387.8 1517.0 387.8 1517.0 398.3 1522.0 398.3 1522.0 400.1 1526.0 400.1 1526.0 399.2 1531.0 399.2 1531.0 397.1 1536.0 397.1 1536.0 405.5 1541.0 405.5 1541.0 406.9 1546.0 406.9 1546.0 411.9 1553.0 411.9 1553.0 413.4 1560.0 413.4 1560.0 418.6 1564.0 418.6 1564.0 420.4 1569.0 420.4 1569.0 421.5 1575.0 421.5 1575.0 425.5 1580.0 425.5 1580.0 424.9 1585.0 424.9 1585.0 426.6 1590.0 426.6 1590.0 430.4 1595.0 430.4 1595.0 435.0 1600.0 435.0 1600.0 431.7 1606.0 431.7 1606.0 435.9 1607.8 429.9 1609.2 429.9 1611.0 435.9 1611.0 441.3 1616.0 441.3 1616.0 438.0 1622.0 438.0 1622.0 444.1 1626.0 444.1 1626.0 444.4 1631.0 444.4 1631.0 452.1 1636.0 452.1 1636.0 453.7 1640.0 453.7 1640.0 456.3 1646.0 456.3 1646.0 459.9 1652.0 459.9 1652.0 460.3 1658.0 460.3 1658.0 463.3 1664.0 463.3 1664.0 467.5 1670.0 467.5 1670.0 472.5 1674.0 472.5 1674.0 467.0 1676.1 461.0 1677.9 461.0 1680.0 467.0 1680.0 473.9 1684.0 473.9 1684.0 474.3 1691.0 474.3 1691.0 476.9 1696.0 476.9 1696.0 479.2 1697.4 473.2 1698.6 473.2 1700.0 479.2 1700.0 484.2 1706.0 484.2 1706.0 488.9 1707.4 482.9 1708.6 482.9 1710.0 488.9 1710.0 488.2 1716.0 488.2 1716.0 492.7 1721.0 492.7 1721.0 493.1 1726.0 493.1 1726.0 496.3 1733.0 496.3 1733.0 500.5 1737.0 500.5 1737.0 504.7 1741.0 504.7 1741.0 502.2 1748.0 502.2 1748.0 508.1 1755.0 508.1 1755.0 510.9 1757.1 504.9 1758.9 504.9 1761.0 510.9 1761.0 515.6 1763.1 509.6 1764.9 509.6 1767.0 515.6 1767.0 515.1 1772.0 515.1 1772.0 522.2 1777.0 522.2 1777.0 523.6 1782.0 523.6 1782.0 525.7 1787.0 525.7 1787.0 529.5 1794.0 529.5 1794.0 530.8 1798.0 530.8 1798.0 533.9 1800.1 527.9 1801.9 527.9 1804.0 533.9 1804.0 536.2 1811.0 536.2 1811.0 539.1 1818.0 539.1 1818.0 541.4 1823.0 541.4 1823.0 543.0 1829.0 543.0 1829.0 544.9 1835.0 544.9 1835.0 549.3 1836.8 543.3 1838.2 543.3 1840.0 549.3 1840.0 550.0 1846.0 550.0 1846.0 548.8 1850.0 548.8 1850.0 552.3 1855.0 552.3 1855.0 558.1 1861.0 558.1 1861.0 560.7 1867.0 560.7 1867.0 561.2 1872.0 561.2 1872.0 568.9 1879.0 568.9 1879.0 573.1 1881.5 567.1 1883.5 567.1 1886.0 573.1 1886.0 573.2 1890.0 573.2 1890.0 579.6 1897.0 579.6 1897.0 582.5 1902.0 582.5 1902.0 588.5 1908.0 588.5 1908.0 590.2 1913.0 590.2 1913.0 593.8 1920.0 593.8 1920.0 595.2 1921.4 589.2 1922.6 589.2 1924.0 595.2 1924.0 600.9 1930.0 600.9 1930.0 603.6 1935.0 603.6 1935.0 609.7 1937.1 603.7 1938.9 603.7 1941.0 609.7 1941.0 615.8 1946.0 615.8 1946.0 616.7 1951.0 616.7 1951.0 620.9 1956.0 620.9 1956.0 627.3 1962.0 627.3 1962.0 631.3 1967.0 631.3 1967.0 637.9 1974.0 637.9 1974.0 641.4 1980.0 641.4 1980.0 644.9 1984.0 644.9 1984.0 649.8 1990.0 649.8 1990.0 654.3 1996.0 654.3 1996.0 659.8 2003.0 659.8 2003.0 665.6 2009.0 665.6 2009.0 666.0 2014.0 666.0 2014.0 672.4 2020.0 672.4 2020.0 678.6 2026.0 678.6 2026.0 682.9 2031.0 682.9 2031.0 689.6 2036.0 689.6 2036.0 693.9 2042.0 693.9 2042.0 701.5 2049.0 701.5 2049.0 704.6 2051.4 698.6 2053.6 698.6 2056.0 704.6 2056.0 713.2 2061.0 713.2 2061.0 729.4 2066.0 729.4 2066.0 743.1 2069.0 743.1 2069.0 747.3 2064.0 759.3 2062.0 759.3 2054.0 737.9 2050.0 756.7 2048.0 756.7 2041.0 729.8 2037.0 757.2 2035.0 757.2 2028.0 726.3 2026.0 742.2 2024.0 742.2 2019.0 726.3 2016.0 755.0 2014.0 755.0 2008.0 728.8 2006.5 858.4 2004.5 858.4 2000.0 729.3 1998.5 788.0 1996.5 788.0 1992.0 727.1 1990.0 856.7 1988.0 856.7 1983.0 724.4 1980.5 787.6 1978.5 787.6 1973.0 719.6 1968.0 744.4 1966.0 744.4 1958.0 711.5 1952.0 724.6 1950.0 724.6 1941.0 703.1 1936.0 748.9 1934.0 748.9 1926.0 693.1 1922.0 705.2 1920.0 705.2 1913.0 683.4 1910.0 695.5 1908.0 695.5 1902.0 679.2 1900.5 746.5 1898.5 746.5 1894.0 681.7 1889.0 739.3 1887.0 739.3 1879.0 682.7 1875.5 747.1 1873.5 747.1 1867.0 665.5 1864.0 704.3 1862.0 704.3 1856.0 637.1 1850.0 658.0 1848.0 658.0 1839.0 629.5 1837.5 689.7 1835.5 689.7 1831.0 631.4 1828.0 672.2 1826.0 672.2 1820.0 631.5 1814.0 735.6 1812.0 735.6 1803.0 634.5 1798.0 646.3 1796.0 646.3 1788.0 640.0 1783.0 673.7 1781.0 673.7 1773.0 637.4 1771.5 648.1 1769.5 648.1 1765.0 631.2 1761.0 719.3 1759.0 719.3 1752.0 629.9 1750.5 712.4 1748.5 712.4 1744.0 634.0 1741.5 644.4 1739.5 644.4 1734.0 632.4 1732.0 653.6 1730.0 653.6 1725.0 621.9 1719.0 649.6 1717.0 649.6 1708.0 609.3 1705.5 679.5 1703.5 679.5 1698.0 613.7 1695.0 626.6 1693.0 626.6 1690.0 607.3 1686.5 624.6 1684.5 624.6 1681.0 600.1 1677.5 706.7 1675.5 706.7 1672.0 597.4 1668.5 636.7 1666.5 636.7 1663.0 595.1 1660.0 642.7 1658.0 642.7 1655.0 588.6 1652.0 603.5 1650.0 603.5 1647.0 581.6 1644.5 613.3 1642.5 613.3 1640.0 578.2 1636.5 636.0 1634.5 636.0 1631.0 581.1 1628.5 610.9 1626.5 610.9 1624.0 586.4 1622.5 638.9 1620.5 638.9 1619.0 595.5 1613.0 639.6 1611.0 639.6 1605.0 600.5 1603.0 622.7 1601.0 622.7 1599.0 602.9 1594.0 669.1 1592.0 669.1 1587.0 606.4 1582.0 713.0 1580.0 713.0 1575.0 608.6 1571.0 623.7 1569.0 623.7 1565.0 609.0 1562.0 627.2 1560.0 627.2 1557.0 608.9 1555.5 633.7 1553.5 633.7 1552.0 609.0 1548.5 661.8 1546.5 661.8 1543.0 610.5 1539.0 676.0 1537.0 676.0 1533.0 613.0 1530.0 629.8 1528.0 629.8 1525.0 617.6 1520.0 650.3 1518.0 650.3 1513.0 621.5 1511.5 633.3 1509.5 633.3 1508.0 625.7 1506.5 636.0 1504.5 636.0 1503.0 633.7 1499.0 658.9 1497.0 658.9 1493.0 644.5 1490.0 676.9 1488.0 676.9 1485.0 649.9 1482.5 669.5 1480.5 669.5 1478.0 652.8 1472.0 665.0 1470.0 665.0 1464.0 656.3 1461.0 717.9 1459.0 717.9 1456.0 661.6 1454.0 714.3 1452.0 714.3 1450.0 666.3 1446.5 682.8 1444.5 682.8 1441.0 669.3 1439.5 681.7 1437.5 681.7 1436.0 672.7 1432.0 720.6 1430.0 720.6 1426.0 680.9 1420.0 702.9 1418.0 702.9 1412.0 689.6 1410.5 700.4 1408.5 700.4 1407.0 695.2 1404.5 708.6 1402.5 708.6 1400.0 700.7 1398.0 711.3 1396.0 711.3 1394.0 704.6 1391.0 716.5 1389.0 716.5 1386.0 706.6 1381.0 729.7 1379.0 729.7 1374.0 708.4 1370.5 720.1 1368.5 720.1 1365.0 724.9 1359.0 744.7 1357.0 744.7 1351.0 753.4 1346.0 799.0 1344.0 799.0 1339.0 772.9 1333.0 788.0 1331.0 788.0 1325.0 788.7 1321.5 800.8 1319.5 800.8 1316.0 799.3 1312.0 867.0 1310.0 867.0 1306.0 805.9 1302.5 825.6 1300.5 825.6 1297.0 817.1 1292.0 857.2 1290.0 857.2 1285.0 829.4 1281.5 848.5 1279.5 848.5 1276.0 853.0 1273.0 865.3 1271.0 865.3 1268.0 869.9 1265.5 882.3 1263.5 882.3 1261.0 868.8 1258.0 938.6 1256.0 938.6 1253.0 879.8 1249.0 895.4 1247.0 895.4 1243.0 905.2 1240.0 927.6 1238.0 927.6 1235.0 924.5 1229.0 951.2 1227.0 951.2 1221.0 940.9 1219.5 1001.6 1217.5 1001.6 1216.0 949.2 1213.0 981.1 1211.0 981.1 1208.0 957.1 1205.0 980.0 1203.0 980.0 1200.0 966.7 1197.5 977.9 1195.5 977.9 1193.0 975.4 1191.0 993.0 1189.0 993.0 1187.0 984.0 1184.5 1003.4 1182.5 1003.4 1180.0 994.4 1177.5 1035.0 1175.5 1035.0 1173.0 1005.7 1171.0 1026.1 1169.0 1026.1 1167.0 1019.8 1163.0 1035.6 1161.0 1035.6 1157.0 1044.1 1155.0 1109.1 1153.0 1109.1 1151.0 1065.3 1146.0 1076.2 1144.0 1076.2 1139.0 1074.7 1137.0 1085.6 1135.0 1085.6 1133.0 1080.9 1131.0 1136.2 1129.0 1136.2 1127.0 1088.6 1123.5 1103.6 1121.5 1103.6 1118.0 1111.3 1115.0 1130.3 1113.0 1130.3 1110.0 1122.3 1106.5 1132.5 1104.5 1132.5 1101.0 1106.8 1097.5 1118.1 1095.5 1118.1 1092.0 1085.4 1088.0 1133.5 1086.0 1133.5 1082.0 1057.9 1076.0 1117.5 1074.0 1117.5 1068.0 1065.6 1066.5 1087.7 1064.5 1087.7 1063.0 1072.9 1061.0 1094.0 1059.0 1094.0 1057.0 1075.4 1054.0 1118.0 1052.0 1118.0 1049.0 1067.0 1045.5 1078.5 1043.5 1078.5 1040.0 1058.6 1037.0 1077.5 1035.0 1077.5 1032.0 1053.0 1030.5 1063.1 1028.5 1063.1 1027.0 1051.5 1021.0 1092.4 1019.0 1092.4 1013.0 1048.7 1007.0 1082.1 1005.0 1082.1 999.0 1032.1 995.5 1048.8 993.5 1048.8 990.0 1015.2 987.0 1043.1 985.0 1043.1 982.0 1003.6 979.5 1016.7 977.5 1016.7 975.0 1004.9 973.0 1032.4 971.0 1032.4 969.0 1010.1 967.0 1045.8 965.0 1045.8 963.0 1022.1 958.0 1091.9 956.0 1091.9 951.0 1032.4 949.0 1056.7 947.0 1056.7 945.0 1035.1 941.0 1046.9 939.0 1046.9 935.0 1026.7 932.5 1049.1 930.5 1049.1 928.0 1016.4 925.0 1044.4 923.0 1044.4 920.0 1008.6 918.5 1029.7 916.5 1029.7 915.0 1003.3 912.5 1066.0 910.5 1066.0 908.0 999.0 904.0 1013.8 902.0 1013.8 898.0 995.3 894.5 1012.0 892.5 1012.0 889.0 987.3 883.0 1024.0 881.0 1024.0 875.0 977.1 872.0 995.2 870.0 995.2 867.0 978.6 864.5 1022.0 862.5 1022.0 860.0 981.0 856.0 1015.0 854.0 1015.0 850.0 989.0 847.0 1002.1 845.0 1002.1 842.0 989.3 840.0 1004.0 838.0 1004.0 836.0 989.5 833.0 1012.1 831.0 1012.1 828.0 984.0 824.5 1028.4 822.5 1028.4 819.0 966.5 816.0 979.5 814.0 979.5 811.0 945.3 807.5 961.3 805.5 961.3 802.0 931.8 800.5 942.1 798.5 942.1 797.0 924.6 792.0 965.4 790.0 965.4 785.0 921.8 781.5 936.6 779.5 936.6 776.0 922.2 771.0 932.3 769.0 932.3 764.0 919.5 759.0 960.9 757.0 960.9 752.0 909.1 747.0 967.7 745.0 967.7 740.0 902.2 737.0 941.8 735.0 941.8 732.0 899.5 726.0 913.9 724.0 913.9 718.0 893.5 716.0 921.0 714.0 921.0 712.0 887.2 707.0 929.6 705.0 929.6 700.0 878.4 696.5 937.6 694.5 937.6 691.0 877.0 689.5 912.3 687.5 912.3 686.0 876.1 683.5 944.6 681.5 944.6 679.0 875.0 677.5 897.8 675.5 897.8 674.0 873.9 672.0 884.9 670.0 884.9 668.0 874.7 665.5 917.4 663.5 917.4 661.0 877.1 658.0 892.8 656.0 892.8 653.0 878.9 647.0 909.2 645.0 909.2 639.0 868.8 637.5 905.3 635.5 905.3 634.0 854.7 630.0 878.4 628.0 878.4 624.0 838.1 621.0 866.1 619.0 866.1 616.0 830.6 614.0 874.6 612.0 874.6 610.0 827.7 608.5 845.3 606.5 845.3 605.0 826.4 603.5 836.8 601.5 836.8 600.0 825.2 595.0 861.0 593.0 861.0 588.0 821.2 584.5 834.3 582.5 834.3 579.0 820.4 574.0 890.2 572.0 890.2 567.0 821.3 564.0 891.1 562.0 891.1 559.0 819.4 553.0 831.3 551.0 831.3 545.0 815.0 543.0 868.1 541.0 868.1 539.0 811.0 533.0 847.8 531.0 847.8 525.0 808.7 522.5 830.0 520.5 830.0 518.0 807.3 513.0 822.2 511.0 822.2 506.0 805.8 503.5 855.2 501.5 855.2 499.0 804.6 496.0 822.7 494.0 822.7 491.0 802.8 487.5 872.6 485.5 872.6 482.0 801.8 476.0 811.9 474.0 811.9 468.0 799.8 464.5 821.3 462.5 821.3 459.0 789.5 455.0 816.5 453.0 816.5 449.0 778.2 447.0 816.1 445.0 816.1 443.0 768.6 439.5 793.6 437.5 793.6 434.0 761.4 430.0 783.4 428.0 783.4 424.0 755.2 420.0 773.0 418.0 773.0 414.0 750.7 412.5 762.6 410.5 762.6 409.0 747.0 407.5 759.3 405.5 759.3 404.0 758.0ZM486.5 784.0L492.5 784.0L491.1 1115.5L489.5 1119.5L487.9 1115.5ZM569.0 801.3L575.0 801.3L573.6 938.0L572.0 942.0L570.4 938.0ZM671.5 860.1L678.5 860.1L676.6 978.0L675.0 982.0L673.4 978.0ZM737.6 896.8L743.6 896.8L742.2 1016.0L740.6 1020.0L739.0 1016.0ZM805.0 917.1L811.0 917.1L809.6 1039.0L808.0 1043.0L806.4 1039.0ZM877.5 958.2L884.5 958.2L882.6 1183.5L881.0 1187.5L879.4 1183.5ZM937.7 1007.3L943.7 1007.3L942.3 1064.0L940.7 1068.0L939.1 1064.0ZM1007.0 1033.7L1013.0 1033.7L1011.6 1105.5L1010.0 1109.5L1008.4 1105.5ZM1065.1 1055.9L1072.1 1055.9L1070.2 1265.0L1068.6 1269.0L1067.0 1265.0ZM1112.9 1087.3L1119.9 1087.3L1118.0 1199.0L1116.4 1203.0L1114.8 1199.0ZM1126.5 1065.5L1132.5 1065.5L1131.1 1141.0L1129.5 1145.0L1127.9 1141.0ZM1154.0 1020.0L1160.0 1020.0L1158.6 1103.0L1157.0 1107.0L1155.4 1103.0ZM1211.0 932.7L1217.0 932.7L1215.6 1030.6L1214.0 1034.6L1212.4 1030.6ZM1252.5 860.7L1258.5 860.7L1257.1 936.0L1255.5 940.0L1253.9 936.0ZM1307.0 788.9L1313.0 788.9L1311.6 866.0L1310.0 870.0L1308.4 866.0ZM1357.0 718.9L1363.0 718.9L1361.6 805.0L1360.0 809.0L1358.4 805.0ZM1401.0 684.3L1407.0 684.3L1405.6 768.5L1404.0 772.5L1402.4 768.5ZM1420.0 669.3L1426.0 669.3L1424.6 750.0L1423.0 754.0L1421.4 750.0ZM1448.0 645.1L1454.0 645.1L1452.6 738.6L1451.0 742.6L1449.4 738.6ZM1484.7 619.0L1490.7 619.0L1489.3 760.0L1487.7 764.0L1486.1 760.0ZM1504.6 609.1L1510.6 609.1L1509.2 702.0L1507.6 706.0L1506.0 702.0ZM1534.5 599.0L1540.5 599.0L1539.1 697.0L1537.5 701.0L1535.9 697.0ZM1597.5 587.3L1603.5 587.3L1602.1 674.0L1600.5 678.0L1598.9 674.0ZM1660.6 584.4L1666.6 584.4L1665.2 699.0L1663.6 703.0L1662.0 699.0ZM1745.4 642.8L1751.4 642.8L1750.0 753.0L1748.4 757.0L1746.8 753.0ZM1755.0 643.9L1761.0 643.9L1759.6 771.0L1758.0 775.0L1756.4 771.0ZM1797.5 637.3L1804.5 637.3L1802.6 859.0L1801.0 863.0L1799.4 859.0ZM1827.0 641.7L1833.0 641.7L1831.6 728.0L1830.0 732.0L1828.4 728.0ZM1857.5 659.1L1864.5 659.1L1862.6 816.0L1861.0 820.0L1859.4 816.0ZM1884.5 675.3L1891.5 675.3L1889.6 814.0L1888.0 818.0L1886.4 814.0ZM1918.0 691.8L1924.0 691.8L1922.6 763.0L1921.0 767.0L1919.4 763.0ZM1964.0 714.6L1970.0 714.6L1968.6 791.0L1967.0 795.0L1965.4 791.0ZM2005.5 728.4L2012.5 728.4L2010.6 859.0L2009.0 863.0L2007.4 859.0ZM2031.5 733.9L2038.5 733.9L2036.6 841.0L2035.0 845.0L2033.4 841.0ZM2060.1 748.6L2067.1 748.6L2065.2 817.0L2063.6 821.0L2062.0 817.0ZM514.7 788.8L520.7 788.8L519.3 858.0L517.7 862.0L516.1 858.0ZM465.0 777.5L471.0 777.5L469.6 822.0L468.0 826.0L466.4 822.0ZM715.0 886.1L721.0 886.1L719.6 948.0L718.0 952.0L716.4 948.0ZM758.5 899.7L764.5 899.7L763.1 951.0L761.5 955.0L759.9 951.0ZM843.0 960.0L849.0 960.0L847.6 998.0L846.0 1002.0L844.4 998.0ZM903.0 981.0L909.0 981.0L907.6 1013.0L906.0 1017.0L904.4 1013.0ZM961.0 1001.2L967.0 1001.2L965.6 1054.0L964.0 1058.0L962.4 1054.0ZM1042.0 1062.0L1048.0 1062.0L1046.6 1114.0L1045.0 1118.0L1043.4 1114.0ZM1032.0 1052.0L1038.0 1052.0L1036.6 1101.0L1035.0 1105.0L1033.4 1101.0ZM960.5 1001.5L965.5 1001.5L964.6 1055.0L963.0 1059.0L961.4 1055.0ZM936.5 1007.6L942.5 1007.6L941.1 1064.0L939.5 1068.0L937.9 1064.0ZM1221.5 921.1L1226.5 921.1L1225.6 989.0L1224.0 993.0L1222.4 989.0ZM1212.5 931.5L1217.5 931.5L1216.6 1030.0L1215.0 1034.0L1213.4 1030.0ZM1253.5 860.2L1258.5 860.2L1257.6 935.0L1256.0 939.0L1254.4 935.0Z" fill="#0381ff"/>
<g clip-path="url(#sc)"><g filter="url(#mot)"><rect x="500" y="100" width="1500" height="900" fill="url(#bandg)" mask="url(#bm)"/></g></g>
<path d="M1566.5 601.4L1573.5 601.4L1571.5 736L1570.0 740L1568.5 736Z" fill="#19c2b0"/>
<path d="M1485.0 626.8006042296072L1491.0 626.8006042296072L1489.5 759L1488.0 763L1486.5 759Z" fill="#10b8d8"/>
<path d="M1624.0 591.6363636363636L1630.0 591.6363636363636L1628.5 655L1627.0 659L1625.5 655Z" fill="#2cc690"/>
<path d="M1598.0 595.2L1604.0 595.2L1602.5 673L1601.0 677L1599.5 673Z" fill="#12b6d6"/>
<path d="M1533.0 607.2142857142857L1539.0 607.2142857142857L1537.5 696L1536.0 700L1534.5 696Z" fill="#14b8d0"/>
<path d="M1505.0 616.9520958083832L1511.0 616.9520958083832L1509.5 701L1508.0 705L1506.5 701Z" fill="#12b4dc"/>
<path d="M1661.0 592.4L1667.0 592.4L1665.5 698L1664.0 702L1662.5 698Z" fill="#0c9cf0"/>
<g clip-path="url(#sc)" fill="none">
<path d="M642 384v10M1106 251v3M842 573v3M1450 602v7M550 759v10M747 762v5M1086 913v5M1146 666v4M1038 450v12M943 993v5M1008 517v4M1076 1059v5M1000 562v5M1368 705v8M1522 555v8M671 596v5M1533 563v4M919 446v10M667 809v6M1628 510v10M1110 752v6M934 908v6M761 804v6M940 204v6M995 709v5M1585 605v4M1087 606v7M633 824v4M1378 681v10M1602 524v8M841 883v5M861 686v10M817 315v12M946 359v5M629 413v7M579 726v5M442 774v7M718 324v4M1282 570v8M744 291v5M903 189v5M933 227v7M795 770v10M810 640v5M780 550v12M1108 984v6M1149 676v7M1583 489v4M1045 866v7M610 427v6M519 799v6M1139 670v5M693 525v5M1175 963v6M640 415v12M755 591v7M1131 943v8M1539 514v7M1179 575v8M808 268v4M1274 455v7M1036 872v3M715 433v5M1047 222v4M750 644v3M688 850v8M1171 527v8M1794 611v12M1213 687v5M1127 572v6M966 504v6M775 920v5M1056 1093v7M725 779v5M1092 612v5M1176 735v8M1026 362v3M777 822v7M1136 524v6M810 552v6M701 408v8M941 666v3M916 207v8M768 571v5M1434 404v8M932 653v5M1240 671v4M452 693v10M880 964v4M1104 282v5M1079 535v12M541 643v3M950 667v7M523 698v7M874 317v5M726 334v8M1207 483v3M722 488v3M715 688v5M589 645v12M651 786v10M837 371v4M1198 297v4M739 767v10M1040 916v4M1347 687v5M522 762v5M1161 1016v12M758 762v10M517 549v5M1020 916v6M1172 652v8M1502 503v7M1286 536v3M801 299v4M1101 1061v12M1257 762v10M960 501v6M1643 489v4M951 429v8M984 680v12M1611 598v6M1361 711v6M807 379v3M797 357v6M783 414v4M810 794v10M1609 472v4M508 752v4M834 307v12M667 502v7M860 714v3M1068 806v12M715 712v5M1825 623v5M1141 961v12M886 752v5M1254 414v10M1366 698v4M961 529v12M448 771v3M735 905v6M1034 976v4M1712 519v6M999 576v5M1864 593v12M1111 725v8M485 738v3M810 798v8M460 766v3M1109 654v5M1341 686v10M1768 637v12M805 827v8M518 636v12M833 529v10M1212 671v6M1584 524v5M1128 1043v5M770 914v5M1254 392v8M1048 953v5M1125 531v10M1206 705v4M618 575v3M976 530v5M849 808v10M1109 824v10M877 939v4M999 867v10M618 721v5M1211 902v7M1222 557v7M1137 983v7M486 790v8M740 491v8M1601 517v7M1818 564v4M717 451v8M852 561v5M1115 782v10M1206 351v12M940 710v4M1149 1049v12M1767 662v3M1312 542v4M1310 395v4M713 861v5M1137 327v4M1189 822v3M922 831v8M729 518v5M1130 308v4M585 509v12M1332 637v7M1075 367v7M804 444v4M1168 983v8M850 513v8M1100 621v5M1371 623v6M831 469v4M1476 457v12M968 794v5M1653 538v3M883 501v3M781 708v10" stroke="#d6e6ff" stroke-width="3" stroke-opacity="0.5"/>
<path d="M751 552v12M758 817v10M1022 385v5M1228 663v12M649 723v8M1145 719v6M1008 432v5M1079 829v7M1048 535v8M1152 628v5M1153 397v7M1217 941v5M1233 532v5M1165 821v12M716 657v10M1269 828v4M1199 618v10M1167 874v10M858 220v3M951 652v5M559 813v8M979 994v7M843 883v4M931 527v6M1098 995v4M1038 821v3M958 830v5M1232 622v5M1761 587v8M1243 788v4M937 1026v3M910 513v6M986 635v12M1138 267v7M1012 500v10M806 256v10M1042 670v3M1080 193v8M1245 539v5M1080 225v10M884 696v5M557 506v4M910 217v5M1166 541v5M893 414v8M706 594v8M660 355v3M477 730v4M937 486v6M1168 614v10M862 567v5M1098 950v6M1069 222v3M1071 1037v8M535 539v12M864 335v7M988 486v3M749 286v10M584 505v12M1323 769v5M1104 1023v5M1122 457v6M748 909v4M843 313v6M1668 540v4M523 624v5M640 741v7M961 407v6M1140 984v5M1365 352v6M1180 598v8M469 633v4M1278 338v12M724 679v8M951 959v8M1101 698v5M1126 546v5M978 544v5M921 676v12M1757 627v8M900 647v5M1105 661v12M794 859v7M1101 669v5M942 942v12M1235 262v12M775 296v10M657 727v10M1003 662v7M1237 412v12M572 471v5M944 836v6M853 661v3M1284 763v3M1157 469v10M1199 914v4M1053 542v4M1434 390v8M685 357v3M1237 285v12M713 583v8M1183 657v6M1676 529v10M1392 394v6M886 502v5M1232 272v7M1543 420v12M1188 928v12M543 488v6M993 679v5M859 671v6M917 574v10M795 552v12M663 638v12M808 851v10M683 745v10M803 878v8M852 535v3M535 614v3M647 661v12M1087 680v8M1258 760v3M1145 926v4M1427 428v5M899 373v7M888 563v3M871 246v3M991 569v12M993 939v5M812 494v8M1292 329v3M1065 1037v3M530 655v8M934 945v8M1122 648v5M582 619v4M1099 748v3M583 584v5M669 546v7M1078 381v4M497 686v4M1134 796v6M1659 524v5M1375 669v10M892 605v10M498 602v5M1040 430v5M897 844v3M985 588v6M1057 723v5M1778 549v12M1001 441v5M1182 331v10M1097 196v4M459 703v5M1100 1049v6M1711 502v3M837 226v8M1378 399v10M1237 601v7M1112 332v4M1193 260v12M925 840v5M805 316v3M1041 1004v5M806 437v7M1169 829v10M807 467v7M1613 465v6M1729 509v7M1242 603v5M790 872v12M686 617v4M879 510v6M752 542v6M907 753v3M851 351v6M766 784v3M734 910v6M778 496v3M925 487v12M813 551v3M1140 869v5M993 969v3M1024 597v5M661 564v3M854 804v5M1223 639v4M796 759v5M1125 1031v5M617 454v7M1717 542v5M1126 569v12M1006 698v4M578 525v7M1014 854v12M1099 563v4M837 700v4M1064 651v5M755 601v8M538 792v10M1062 461v3M965 994v5M1203 930v4M966 654v12M1375 640v6M618 491v7M1098 709v12M1443 369v5M1509 491v6M1230 716v6M1105 514v3M947 192v7M1094 509v6M495 561v6M1151 452v4M481 619v5M839 381v12M935 773v5M1579 491v5" stroke="#d6e6ff" stroke-width="2.6" stroke-opacity="0.35"/>
<path d="M733 843v12M932 449v4M554 469v5M685 388v5M839 389v5M1104 990v12M1356 568v6M934 927v7M781 723v4M828 343v10M998 924v8M549 771v3M1006 1014v8M830 415v10M1109 942v7M1279 647v3M1059 186v3M1382 712v10M872 912v6M801 275v6M1285 766v7M597 610v10M832 660v12M526 527v6M1276 827v4M580 737v12M751 693v4M791 325v5M704 302v7M1359 696v6M1901 620v7M721 443v5M963 915v5M662 455v7M847 821v5M521 693v6M1240 638v5M1317 492v8M1124 655v3M627 454v3M1204 530v4M975 791v12M1052 376v6M442 716v12M1176 436v3M941 786v12M867 347v8M476 648v12M714 429v8M764 292v4M1188 813v6M1000 836v12M578 509v4M765 288v12M713 854v5M1233 281v6M706 532v3M535 739v12M1060 976v5M1101 971v10M761 512v8M771 260v5M1030 841v10M1075 643v8M1798 636v12M1139 980v4M1020 691v5M1017 416v5M1892 668v7M1432 564v5M1125 470v12M1447 610v12M881 329v5M1321 653v6M780 856v8M844 791v4M795 714v6M1166 591v5M1160 671v5M986 448v7M675 802v3M575 766v5M1224 444v8M1232 431v5M1096 516v10M984 460v8M1461 452v6M904 198v5M836 529v3M775 620v5M752 436v5M922 508v5M1217 445v6M1231 846v5M1012 660v6M1786 632v12M1056 692v10M1293 289v3M1189 980v6M1163 255v3M1260 530v10M1284 532v7M1699 532v7M924 560v3M665 505v6M689 681v3M941 331v10M746 284v12M937 415v12M565 613v5M1058 916v6M609 662v3M1344 726v5M1493 456v6M1089 510v4M785 784v6M823 775v4M821 317v12M1776 604v8M1797 577v6M606 649v12M662 449v4M1557 609v8M1220 787v10M1126 677v10M565 649v5M1160 332v3M761 564v10M875 615v10M1201 761v3M1799 649v6M1215 604v4M1323 769v8M916 238v3M957 342v6M774 599v7M899 988v4M750 646v10M1346 669v5M588 534v4M2036 733v6M1742 557v7M1120 771v12M857 723v8M735 615v5M583 789v8M1152 242v12M956 521v5M1308 586v8M1766 529v6M1235 305v6M1480 411v3M1016 925v12M1216 462v12M792 340v6M1011 583v7M1140 1011v7M992 326v7M1611 593v5M601 401v3M987 413v4M647 401v8M779 368v5M1183 637v3M728 587v12M1535 460v5M1342 366v5M561 754v10M1283 543v3M510 762v6M575 585v12M578 605v12M649 819v6M858 912v6M1252 488v5M1303 388v10M665 382v7M1299 663v4M965 837v10M1175 928v8M618 599v10M1003 229v5M1561 543v5M844 910v12M964 483v3M1565 517v4M731 396v5M716 843v8M1056 868v6M1281 664v6M658 668v4M1199 970v8M862 396v6M1318 662v5M1809 599v5M1219 781v5M490 784v12M860 886v3M829 791v6M953 632v7M1191 432v3M965 414v5M1179 965v12M977 943v10M1227 774v7M876 411v6M480 723v5M1348 708v5M1287 815v6M1403 444v7M683 346v5M666 328v3M1035 606v7M1009 866v5M1509 591v6M1147 607v12M446 708v4M925 666v8M610 445v8M1273 806v6M1250 411v10M478 607v7M1018 785v6M1112 459v4M708 575v5M557 633v12M988 533v7M1099 889v5M956 504v12M1185 444v6M789 644v4M940 409v7M1719 518v6M1285 752v5M629 742v4" stroke="#d6e6ff" stroke-width="2.2" stroke-opacity="0.8"/>
<path d="M601 569v5M918 579v5M1023 540v7M884 503v7M903 686v6M640 377v5M1599 549v7M1030 192v6M1509 545v7M1317 558v4M860 240v4M823 792v5M685 802v5M758 478v3M561 736v5M897 568v10M612 459v4M999 924v10M956 1002v3M1028 269v6M1173 749v5M1100 769v12M835 766v5M1075 390v4M1225 484v7M531 603v3M840 771v4M1069 1037v3M1250 577v4M622 563v3M828 848v10M1016 664v5M1716 540v5M968 538v5M1105 1114v7M1121 619v4M1241 259v10M848 903v4M1747 566v10M1006 669v8M1473 450v5M1159 466v12M1295 495v7M1277 729v5M526 746v10M985 720v5M1224 571v12M831 868v10M1563 535v3M999 484v12M1851 658v5M714 866v12M861 922v5M866 214v12M1132 1045v12M894 317v12M1661 593v6M1274 298v3M1122 316v12M820 406v8M602 591v10M1096 494v6M1749 593v10M1033 553v4M855 497v5M1088 339v5M1231 713v12M612 514v8M876 610v5M1119 675v5M1111 699v3M695 334v10M844 855v3M984 637v3M1376 576v4M1554 528v8M938 508v5M832 355v10M767 823v8M626 688v7M865 778v12M730 530v5M963 874v12M1386 411v8M657 607v3M944 694v5M920 457v8M639 544v6M838 278v10M1113 783v5M847 607v6M1276 415v12M517 548v4M1043 925v8M756 764v12M1357 721v7M904 380v10M676 797v7M1739 643v5M974 888v7M862 828v5M1141 924v6M912 924v4M922 781v6M871 935v8M460 747v4M1179 332v12M1071 995v12M764 524v3M925 466v4M560 493v6M544 660v3M970 224v4M1147 583v5M1202 715v3M816 666v10M1320 622v5M824 925v6M707 886v7M838 437v8M1519 535v5M936 879v12M948 630v5M1137 834v7M1346 682v6M1685 608v7M1129 1067v8M977 326v5M1188 802v5M1699 507v5M760 353v8M1787 624v4M1833 636v8M675 543v3M1008 665v10M929 745v4M619 731v12M1207 409v3M870 446v5M858 477v5M665 480v5M687 379v5M1124 465v8M569 680v8M873 698v10M865 314v12M615 796v5M826 890v7M1033 901v8M730 909v3M1417 650v5M501 583v3M704 489v12M757 268v7M683 568v3M997 406v6M765 885v6M569 710v5M1270 660v8M743 464v5M967 452v3M897 801v10M782 291v4M1231 892v6M1236 351v5M679 442v8M677 724v8M834 528v10M683 738v5M610 678v8M823 848v5M1188 586v8M506 628v12M478 684v7M1495 439v7M1118 957v5M864 575v7M635 857v5M1065 552v10M1571 593v3M779 592v10M1010 450v8M806 918v10M740 334v10M1197 718v4M943 902v5M546 785v8M500 568v3M1110 393v7M922 656v8M1130 774v12M784 590v12M1156 589v8M673 324v8M702 764v5M935 502v12M974 965v6M795 732v5M662 536v3M1415 656v5M636 555v3M1063 504v7M1234 599v10M693 402v12M955 248v5M1045 185v8M1251 676v8M816 415v7M1174 1008v8M1369 471v8M889 937v3M984 508v3M586 771v5" stroke="#d6e6ff" stroke-width="3.4" stroke-opacity="0.8"/>
<path d="M1332 634v5M919 208v8M809 323v7M1117 662v5M1382 391v4M1601 460v7M712 704v6M802 651v6M1501 408v10M1401 670v10M1414 625v12M839 712v6M725 732v4M836 891v8M1126 531v4M443 652v5M994 575v7M1156 1031v7M1341 598v4M914 740v12M1040 693v8M1072 310v10M790 288v3M692 357v4M835 816v5M953 778v4M758 758v5M798 929v5M1084 997v6M1188 308v8M1530 562v10M955 221v4M1646 506v3M1056 1010v7M793 532v4M745 314v8M1200 427v7M678 390v5M701 488v7M943 814v5M1266 688v6M537 707v4M633 849v3M789 627v5M765 248v8M1210 860v10M999 759v3M938 910v5M1104 793v5M1090 724v5M803 784v5M1054 911v10M1113 571v10M967 800v7M961 796v6M882 680v8M1675 568v8M1177 563v8M1327 310v7M662 629v8M786 430v3M716 809v5M935 628v5M1170 266v4M1551 461v4M1130 352v12M440 731v10M734 339v8M1004 924v5M852 457v5M789 855v10M1179 513v5M1127 537v7M1138 761v6M1066 699v5M977 763v6M1072 321v4M632 683v7M990 929v7M422 751v4M1247 822v4M797 735v8M675 465v5M663 374v7M620 824v5M1015 861v7M1220 659v5M667 424v5M621 528v8M660 361v7M687 847v3M1311 518v10M1258 577v5M602 798v6M802 634v12M547 612v7M759 380v5M1156 1034v8M877 505v10M516 801v5M847 313v10M789 580v8M527 522v3M1002 328v3M766 849v4M572 664v10M695 736v6M1006 910v8M923 738v5M1395 621v10M1112 1053v5M1000 962v6M1266 624v5M553 475v4M548 740v10M971 880v12M950 224v6M1115 567v3M1540 608v4M781 605v5M1103 861v8M916 951v5M971 519v3M1537 566v5M822 533v10M634 722v8M1519 418v5M932 283v6M1091 477v4M951 795v5M929 957v5M799 400v12M916 851v5M1102 668v5M711 691v8M948 588v5M779 279v10M996 1002v8M1065 286v4M803 670v12M1702 493v12M684 851v3M685 779v3M880 426v5M546 479v10M1193 514v6M1538 516v5M1093 754v5M651 813v3M825 324v4M1144 350v3M1023 592v5M955 814v4M682 456v5M606 702v5M1621 564v4M611 595v8M1341 658v3M1100 877v10M1218 269v12M1170 939v4M885 486v7M718 837v7M898 588v12M681 523v4M810 458v4M1184 233v3M605 564v12M640 477v12M929 743v8M1088 325v12M593 633v6M988 437v5M755 525v6M1073 600v4M1016 1050v5M1109 530v8M1057 646v6M1023 385v12M872 373v10M856 435v10M913 411v4M1364 344v6M922 1012v4M801 879v6M995 239v7M907 374v5M794 669v12M1670 605v8M1145 609v8M666 359v8M1252 612v6M628 723v10M589 454v8M681 565v8M690 493v6" stroke="#d6e6ff" stroke-width="3.4" stroke-opacity="0.5"/>
<path d="M1233 690v3M1023 613v4M572 468v3M1293 298v4M1064 1074v5M1331 641v6M1098 818v5M1142 986v5M992 872v8M588 459v4M910 913v7M1759 573v12M1006 680v6M608 693v5M1536 517v12M651 661v5M1224 922v10M1757 569v10M637 666v3M716 459v10M570 527v7M749 559v5M1108 445v3M774 895v3M665 802v3M1533 549v7M645 830v3M790 613v12M922 354v7M1278 820v6M835 795v5M581 762v3M1190 657v5M1090 1081v8M1509 486v8M1601 452v5M879 642v5M1150 472v5M912 1003v8M1074 277v8M600 405v4M1010 1032v10M1338 644v4M736 454v3M1376 669v3M982 497v7M1106 446v10M1019 650v12M726 414v4M637 451v3M845 256v5M668 688v3M1275 756v8M859 517v5M1764 587v8M931 937v12M1220 931v12M1107 1008v5M831 553v8M1137 890v12M1209 901v5M592 462v12M1561 614v6M951 764v10M769 746v8M826 906v7M1098 529v3M672 534v12M731 490v7M873 743v12M1262 680v7M1080 947v6M1218 719v8M1073 820v8M1540 598v12M781 370v5M1042 693v5M1783 588v6M1255 288v8M1504 392v6M1210 328v6M753 702v5M722 709v12M719 515v3M1712 603v3M864 467v10M1249 523v3M636 517v4M637 429v3M1172 616v12M1407 435v5M1697 611v12M1015 489v7M1199 417v12M1426 621v6M497 798v6M578 696v12M1073 947v12M818 405v8M794 517v5M1388 331v5M707 830v10M1098 860v5M1621 528v4M985 205v10M1207 490v7M1037 575v10M1298 670v12M1388 537v12M676 385v7M632 426v10M1044 264v12M992 976v8M880 457v12M1801 629v6M1054 367v7M1228 830v12M688 345v8M582 576v8M1339 592v3M1268 467v7M830 658v12M855 591v8M1617 528v10M919 686v5M1211 281v8M499 765v10M594 458v6M470 709v4M747 715v12M1131 236v8M1143 573v5M1506 498v12M636 712v6M972 545v5M1192 614v5M1033 321v10M1194 594v3M684 843v6M1267 807v5M798 456v12M902 915v3M1033 398v8M954 550v7M1224 902v3M1755 595v5M1536 527v4M958 383v5M1181 641v7M1203 698v4M417 722v12M871 663v8M817 506v4M765 632v4M1089 713v6M564 550v5M743 387v5M1092 465v8M897 801v12M846 761v5M429 734v5M1205 764v7M1225 840v12M866 412v3M1688 567v6M638 692v12M1092 477v5M1683 504v7M891 503v10M469 744v5M1497 421v4M1306 550v5M889 552v5M1087 478v4M1251 721v10M1159 888v5M949 938v7M733 469v12M943 413v3M890 862v7M1031 1035v7M1240 279v7M1130 445v12M1151 626v3M904 520v10M1203 843v7M939 298v12M1335 713v7M808 722v5M793 728v12M972 1020v5M1072 584v5M1019 479v5M1173 955v5M1269 311v5M655 608v4M1034 839v10M1045 916v4M733 391v4M833 675v10M695 646v4M1373 407v5M884 642v12M1134 554v5M1126 820v5M1450 372v4M924 735v4M767 307v5M654 641v8M750 276v6M1730 528v6M590 742v3M1399 656v8M928 468v5M973 692v12M756 903v7M579 815v4M630 590v4M1237 813v6M827 433v5M1435 561v8M1014 335v8M1408 413v12" stroke="#d6e6ff" stroke-width="2.6" stroke-opacity="0.65"/>
<path d="M1183 713v6M1356 424v12M1386 591v4M1009 551v7M1063 513v7M1075 215v4M1158 281v6M961 854v7M549 763v10M807 504v7M765 720v5M685 833v4M849 476v3M907 812v6M784 822v7M923 203v6M480 631v3M724 620v6M1108 230v10M970 911v5M1173 552v10M994 780v8M1093 819v8M1151 518v3M745 274v6M925 718v3M832 471v5M733 682v7M843 499v4M1078 656v3M1085 600v3M616 535v6M742 522v10M803 777v12M477 637v3M849 618v5M751 784v12M899 775v10M1077 1026v12M664 677v8M860 206v12M1337 511v12M1092 418v6M932 614v5M796 474v4M822 946v12M1139 833v5M634 731v12M1104 655v3M693 840v4M1213 772v10M1815 658v5M508 628v6M1280 714v5M958 849v8M1215 636v4M772 245v6M1227 626v10M850 679v5M1484 588v5M516 526v4M663 643v10M712 689v4M708 569v5M1318 550v12M1662 602v3M906 667v5M1035 711v5M886 601v10M1264 537v5M891 690v12M572 675v7M541 794v10M869 949v5M797 236v4M1432 478v3M856 399v4M1184 331v8M1427 456v8M846 854v8M791 582v8M1069 783v10M1100 426v5M1293 747v5M768 914v7M1112 348v6M1626 482v8M1160 693v3M822 460v4M1651 597v3M1160 847v10M516 682v5M539 648v12M480 686v10M850 804v6M1150 848v8M743 543v5M418 715v5M1587 512v8M879 560v4M1105 195v8M1341 655v3M1504 410v4M1080 598v4M752 343v12M1650 552v4M807 312v5M1336 409v5M985 838v4M515 705v5M912 383v10M1335 669v4M676 431v10M871 262v12M1157 727v3M1381 631v6M1113 744v3M1201 276v3M1297 549v6M894 308v7M886 737v10M534 716v4M1245 373v6M1036 399v6M1122 523v6M1032 448v5M887 846v10M1203 757v8M901 722v7M1142 578v10M936 546v5M1136 376v10M1075 984v5M1186 536v6M774 472v12M1001 836v5M1422 462v4M840 463v6M831 296v10M1313 761v7M1165 230v8M1107 799v12M984 429v12M564 470v5M1236 776v4M523 707v4M1096 853v5M831 466v12M636 695v7M1577 432v12M666 789v8M1021 648v5M1198 368v6M484 752v5M824 506v8M917 603v8M868 556v5M833 703v6M1190 404v3M1009 612v5M790 594v7M1403 684v7M923 471v3M622 609v6M538 686v12M614 415v3M557 502v6M1186 800v6M686 359v3M1271 551v4M518 573v6M824 384v7M622 741v5M1183 283v8M1018 672v10M500 723v8M928 853v5M703 682v8M929 807v4M578 592v10M963 869v5M1038 851v5M998 446v10M703 329v5M1740 628v7M1067 666v10M1549 439v12M986 775v7M573 771v3M591 759v12M1041 805v6M687 611v3M985 256v3M525 751v5M667 643v5M848 780v5M1015 410v7M824 711v5M545 783v4M1422 385v4M1412 353v10M1239 540v8M1269 307v5M1075 250v7M1050 1064v4M1062 275v5M1407 667v12M734 650v3M651 607v8M505 759v6M783 459v4M1381 697v3M706 723v8M1026 892v12M899 352v12M1323 574v4M1321 528v5M955 269v6M1250 637v10M781 291v4M610 659v3M1102 1105v12M1095 643v10M1201 861v5M1037 492v8M1173 538v5" stroke="#d6e6ff" stroke-width="3.4" stroke-opacity="0.65"/>
<path d="M1004 797v3M848 562v5M1015 313v7M938 861v8M1176 388v10M1129 527v5M480 619v10M787 769v10M1087 1069v5M1304 783v12M624 728v7M1187 709v8M966 469v5M1011 537v7M844 416v4M521 537v10M1747 591v12M695 533v3M1045 697v7M734 410v7M1243 569v5M1231 337v8M816 727v8M1626 454v12M716 861v3M1087 716v12M899 759v10M679 522v4M939 663v7M1718 630v4M1263 385v5M1359 359v4M775 803v4M1293 648v10M1943 704v10M898 513v8M1224 534v12M1041 407v12M828 561v7M779 284v8M657 628v5M673 616v7M604 837v12M1402 479v5M1395 668v5M1287 651v5M1576 431v3M921 401v3M671 560v3M929 490v12M1395 434v8M1083 745v10M1192 974v8M951 674v6M1099 1006v6M575 440v5M1405 674v4M1379 371v10M1157 928v4M1111 960v12M1415 576v5M1344 417v5M1015 1048v4M688 425v10M1152 733v7M894 459v5M1328 398v12M1250 747v5M1086 891v6M1431 671v10M935 818v4M901 205v10M1118 939v5M1040 782v3M899 423v7M879 708v4M1153 850v4M503 559v8M1043 671v8M780 880v12M574 569v5M1106 529v5M1073 515v3M868 566v10M1043 709v10M810 927v6M1120 474v7M1218 914v8M1299 442v10M1105 1092v12M1067 1031v7M822 263v3M694 333v4M691 598v4M693 842v12M1188 412v5M1143 551v8M899 956v12M1232 515v10M1154 1039v8M946 936v4M701 634v6M1243 826v3M788 745v7M1355 412v10M589 633v8M1325 508v7M934 439v5M1034 357v7M1182 707v3M795 749v3M682 743v5M1263 873v5M1242 758v5M805 337v3M898 473v10M1239 786v8M1233 555v7M835 549v4M917 567v8M513 602v4M1318 738v10M1257 848v4M655 598v4M1094 238v8M865 580v5M844 288v5M486 656v3M1007 238v8M1390 701v3M1337 524v10M533 526v5M1009 623v12M1030 1003v4M647 625v4M1143 943v12M950 877v10M1144 854v8M957 953v4M1033 804v12M621 734v5M1057 681v3M1074 618v3M978 966v6M1521 524v5M845 402v8M2042 749v6M645 756v7M648 751v8M415 710v5M1825 635v7M735 825v12M2045 755v10M1083 751v5M1283 478v7M889 233v6M778 663v10M780 906v12M537 568v7M693 715v5M882 324v8M982 844v12M1217 428v5M834 933v6M912 600v5M1508 400v5M1397 673v6M1165 753v7M1160 701v7M1169 613v5M1174 991v4M792 557v5M1197 854v8M998 635v5M1203 796v5M755 489v6M1126 542v10M1125 910v3M910 385v5M1017 198v10M1311 313v12M615 494v5M593 832v7M1345 730v6M1342 351v8M1048 759v5M1717 525v8M1063 878v5M712 815v7M1046 452v12M1042 215v7M958 415v12M1260 274v5M1656 473v8M1082 358v12M1191 793v8M1142 1044v5M907 841v3M1064 801v10M1376 365v7M475 775v12M1048 742v10M1321 652v3M1782 649v6M702 636v7M1045 781v3M923 670v7M605 836v8M1083 968v4" stroke="#d6e6ff" stroke-width="2.2" stroke-opacity="0.65"/>
<path d="M1210 907v5M891 211v7M1164 632v5M1137 775v7M910 753v10M971 653v10M936 325v6M483 598v6M784 907v4M1479 552v7M646 484v12M738 430v6M810 925v12M930 505v4M1250 359v6M1211 789v5M744 505v4M1057 938v5M818 407v3M747 538v5M802 489v3M1273 482v3M1231 880v8M420 703v5M742 329v5M878 190v3M639 634v5M709 308v6M888 684v10M1483 522v10M776 393v8M945 747v7M615 623v3M694 801v6M1196 799v8M1146 612v7M1023 302v3M977 974v7M1384 644v8M880 615v7M819 830v10M1185 844v7M901 639v4M775 421v10M1109 1075v5M948 952v6M1031 662v5M1281 320v7M862 334v4M697 519v3M876 573v5M475 790v10M1230 358v8M472 729v7M880 216v10M1150 309v4M1816 565v8M901 352v12M1319 694v7M1764 584v4M1387 391v10M1371 570v12M798 816v5M761 882v8M688 695v10M1237 665v12M1016 693v8M459 696v4M830 631v4M958 730v4M1223 250v3M1594 559v10M964 777v6M959 589v6M611 749v6M972 834v3M1453 651v4M901 748v6M947 815v10M555 536v4M706 308v10M610 528v5M924 677v3M1120 317v10M1278 830v4M1359 655v7M1072 765v6M1078 1020v12M1602 515v4M940 470v6M1027 629v3M709 745v12M944 687v4M1869 600v8M1093 559v7M908 279v5M1091 864v4M982 544v4M678 476v10M796 373v5M822 905v10M1382 634v5M1160 595v3M869 891v7M845 764v4M1419 481v8M976 740v7M1322 568v8M1053 331v4M627 432v12M1100 655v8M719 534v6M1083 960v7M1208 923v6M1217 681v5M936 368v7M1289 437v8M1139 494v6M1218 511v5M806 413v4M607 446v3M928 909v8M1051 928v10M1167 492v8M763 344v6M1215 842v12M1264 518v5M1146 753v3M1324 535v3M666 727v3M808 611v7M965 787v12M1522 531v12M618 809v10M1417 513v12M890 518v7M836 845v8M1099 577v12M712 826v5M1054 752v4M1112 449v5M881 630v4M556 665v8M726 640v5M943 693v12M1105 1027v5M1036 853v7M950 758v3M1240 870v5M1504 423v5M1222 558v8M1019 613v3M767 392v12M1511 434v5M711 422v12M793 317v4M568 459v6M655 866v10M1327 689v12M839 301v8M1085 1033v10M1065 640v12M1270 731v8M416 756v8M1241 746v6M760 533v7M1426 403v12M1346 390v6M1252 641v3M673 332v4M742 622v10M1027 654v5M1049 861v10M982 394v3M604 612v3M886 675v5M1262 802v5M1217 416v7M607 696v7M683 581v5M1685 606v5M561 518v4M670 832v10M888 485v7M656 659v5M1705 617v8M1027 924v6M1779 619v10M1146 533v12M470 713v7M1566 510v7M1255 754v12M453 674v4M1031 210v4M1080 734v6M610 804v10M995 428v5M935 185v5M692 395v3M1190 742v10M1435 556v8M1032 264v3M942 683v3M1199 662v4M580 774v4M977 192v6M1043 460v4M1081 343v4M1730 520v4M1314 626v7M1079 852v7M838 892v5M1063 1020v10M1124 762v8M778 868v10M687 792v5M621 771v8M1266 616v12M522 540v3M732 344v6M1152 505v8M484 751v7M876 930v3M1198 689v8M731 603v6M1063 823v3M913 761v3M498 718v6M927 790v10M898 298v5M1208 665v7M1172 570v8M917 597v6M1476 401v8M859 942v5M781 290v5M1352 656v5M571 460v12M1104 752v12M936 321v3M1184 440v8M1232 910v7M572 511v8M840 853v4M757 724v4M805 353v12" stroke="#d6e6ff" stroke-width="2.2" stroke-opacity="0.5"/>
<path d="M968 1012v7M792 730v6M1214 717v6M1034 178v3M1365 424v4M739 860v10M1344 378v10M1418 447v8M802 663v12M687 511v10M1050 504v3M1560 474v10M1170 791v3M841 463v6M1230 686v4M989 966v8M826 566v12M775 323v12M1819 581v5M767 905v3M698 588v5M528 707v10M962 672v7M507 613v7M1173 348v4M1153 1002v8M655 457v12M641 610v5M735 311v8M671 834v12M684 820v8M863 920v10M1255 525v6M853 637v5M1641 470v5M1032 729v5M842 332v3M1129 378v5M661 690v6M950 984v5M739 738v8M508 594v8M558 787v5M454 695v8M912 676v3M949 756v4M725 639v12M1076 950v4M1280 783v5M1015 300v7M917 566v10M1155 255v10M1372 642v5M954 374v12M1028 437v6M927 655v5M1514 405v10M840 886v5M748 404v5M694 425v5M1620 562v3M1099 857v12M1209 292v5M1054 877v5M1403 704v4M985 766v3M1513 409v7M630 746v8M901 519v5M1203 908v10M607 781v5M1100 594v5M1122 363v8M1043 428v3M1068 755v8M1298 776v6M494 746v5M876 657v6M858 229v10M813 513v10M930 834v5M1043 746v5M839 712v3M600 620v4M1113 997v12M659 373v12M984 700v7M433 764v7M1386 395v6M1026 770v4M716 733v12M1511 577v7M648 469v3M961 883v6M841 868v8M749 461v5M802 922v7M849 426v3M543 612v5M1431 664v7M954 947v12M637 427v8M838 559v7M652 662v3M694 848v12M979 491v5M926 683v12M798 561v7M603 417v4M876 411v12M1140 1032v12M611 780v4M890 842v3M561 581v7M1033 519v6M879 422v12M829 361v8M1364 606v10M1267 430v12M773 452v5M1136 803v4M1303 806v12M793 663v10M1077 576v10M668 538v5M814 441v3M756 561v5M1084 976v3M1221 449v5M884 621v4M1087 564v8M1344 706v3M963 943v4M1730 602v5M827 393v12M963 959v10M563 658v4M927 622v7M505 676v5M782 560v3M970 378v7M985 993v10M673 787v6M1461 579v6M604 537v12M878 667v10M521 564v7M968 391v12M1405 636v5M800 428v5M1029 967v6M858 858v6M678 623v8M884 665v8M1260 537v12M1224 457v12M685 418v10M1039 625v4M482 589v8M706 871v7M1200 639v6M626 784v10M767 337v3M1499 424v7M1019 669v3M594 754v8M446 670v6M913 514v4M949 729v10M960 675v5M1030 248v3M1002 1046v4M819 297v5M992 188v6M1414 522v5M832 584v6M1087 1042v12M1251 592v4M1526 501v5M1027 356v5M823 478v8M622 481v5M1248 573v5M700 766v7M1294 580v12M1110 353v10M1629 457v12M1271 647v10M1303 543v6M674 319v6M1104 760v4M1064 748v3M803 704v7M1370 348v5M1011 400v5M556 654v4M722 326v5M1351 739v12M875 618v12M1154 984v12M750 894v4M885 562v7M714 835v8M808 928v5M926 265v12M772 638v5M1198 825v5M1194 941v4M752 420v4M1138 277v5M550 792v3M874 669v6M848 931v12M517 774v4M671 415v7M895 835v12M1484 403v4M495 764v5M1099 410v4M472 706v12M575 575v3M706 462v4M713 874v12M1165 653v6M1053 277v7M866 656v8M1059 560v7M832 769v4M1528 610v7M1012 1044v7M1141 631v6M1269 829v5M1315 694v5M1386 713v7M568 629v5M700 443v5M1152 990v3M1178 619v5M932 349v4M649 586v10M1073 299v8M1200 963v4" stroke="#d6e6ff" stroke-width="3" stroke-opacity="0.8"/>
<path d="M973 402v3M995 644v7M1198 928v10M884 967v8M997 380v5M476 754v4M660 401v4M836 741v6M1255 570v3M818 530v8M657 450v5M814 718v3M1060 616v3M836 921v3M1384 376v3M993 568v12M744 723v4M562 593v10M1009 873v5M1186 604v7M450 663v5M949 998v6M1187 612v5M1364 469v7M763 751v4M1382 527v3M571 678v4M1738 646v4M1022 252v7M1026 739v4M939 348v8M1296 299v12M1543 597v5M898 649v5M1040 724v8M1049 902v7M1665 496v3M1152 386v5M697 383v5M1045 963v5M875 955v5M1052 575v7M1069 213v7M741 431v8M1432 537v6M1163 688v10M614 510v12M1387 642v12M603 409v7M780 468v3M1289 538v3M928 1012v4M980 703v8M910 913v12M757 434v5M1250 508v5M1137 518v6M1207 642v5M968 526v6M1013 689v12M1017 500v5M880 729v6M1324 342v12M794 580v5M871 675v3M855 287v12M1115 270v12M1383 636v3M1294 449v7M1189 367v10M1041 388v3M1327 439v7M1129 591v5M950 555v7M610 794v7M1340 686v3M979 587v8M487 631v5M985 600v12M1401 408v4M1228 918v4M1188 434v7M801 785v3M458 790v4M912 919v10M729 365v12M1051 930v3M1774 651v7M840 508v6M1103 592v5M1430 382v3M1016 654v6M1306 682v7M1289 563v8M1211 529v8M1025 1016v4M636 814v6M679 323v8M1182 300v3M1159 221v10M1100 911v7M794 246v8M1065 1034v7M1363 695v12M706 609v5M1592 540v6M688 802v10M1287 630v8M793 517v3M651 562v3M962 549v3M682 772v12M809 878v6M1425 440v6M849 944v5M749 696v4M1288 356v6M1134 289v4M1035 235v10M931 831v5M990 274v3M1133 1008v5M816 544v12M636 765v8M1244 633v8M725 818v4M1702 625v8M786 534v3M1167 798v7M483 798v4M565 550v12M605 644v12M599 430v3M1395 464v8M1526 585v8M1005 502v5M1038 791v5M914 612v3M1479 598v3M685 837v8M1063 813v7M592 534v10M1088 235v10M1023 513v8M589 629v10M704 376v5M759 495v4M1325 580v3M1433 624v5M1262 412v5M1075 564v7M1269 738v3M1133 808v5M1054 493v4M693 837v10M917 890v6M745 405v7M1446 533v4M1407 700v7M1336 642v8M920 955v7M1232 341v10M1224 619v4M1804 629v12M1025 585v4M1052 903v5M693 713v12M1126 683v5M704 782v5M550 770v6M1185 991v3M888 367v3M669 797v7M1438 535v5M862 291v8M1549 481v3M1028 1058v12M1032 607v4M704 540v5M818 925v4M694 524v4M1085 844v4M1585 459v8M1150 793v12M1383 592v6M733 627v7M905 778v7M1099 769v6M905 307v3M1156 340v3M1223 465v6M962 405v3M643 586v12M1074 931v5M1390 422v6M1135 220v6M926 326v10M1299 318v6M1743 517v3M1796 579v4M1096 875v7M606 624v10M549 481v8M488 719v6M1007 983v12M818 766v3M785 440v5M1169 569v6M532 579v7M659 375v12M583 787v5M968 926v3M969 706v5M1090 541v7M848 896v5M954 1000v5M778 495v5M1697 514v7" stroke="#d6e6ff" stroke-width="3" stroke-opacity="0.65"/>
<path d="M1340 408v6M1053 236v5M1665 514v5M1354 332v6M1545 512v5M1489 413v5M1419 511v12M835 253v12M1503 458v12M1265 299v8M1338 512v8M1127 424v8M1437 516v7M1307 420v7M1623 512v5M1541 468v12M906 211v6M981 332v12M1149 362v3M920 262v10M1285 443v7M1363 389v5M1169 457v5M1501 591v8M1515 591v12M1341 374v5M1046 272v6M1292 410v3M1106 394v8M1216 348v7M1121 272v10M1695 587v5M808 248v10M962 336v3M1148 238v4M1466 395v8M1204 443v3M860 270v6M1595 544v5M1024 380v4M1332 489v7M1414 364v7M1241 456v12M1261 404v12M1425 435v4M966 273v5M1230 336v5M1256 346v5M1172 444v10M1335 472v10M1146 398v4M1496 453v5M1306 537v5" stroke="#b8f4ee" stroke-width="2.6" stroke-opacity="0.6"/>
<path d="M438 716v3M1105 846v8M922 879v5M637 597v4M1322 756v7M1053 508v7M688 672v10M770 546v3M1378 563v8M467 655v5M1555 568v5M525 640v3M901 219v12M735 775v7M847 446v6M1554 427v5M635 425v3M842 303v3M909 559v5M927 349v4M940 557v7M592 660v8M1577 587v5M1388 582v5M1055 403v5M1031 1037v7M443 769v5M1017 660v12M1213 249v5M1177 637v10M540 764v6M885 232v5M770 616v10M969 780v8M827 650v3M820 465v10M790 466v12M502 702v12M786 380v4M1140 936v12M690 414v12M1307 516v5M936 768v5M571 642v5M872 614v10M1529 579v12M1001 664v7M1173 562v4M806 565v10M1594 479v10M870 547v3M570 500v4M786 470v7M581 768v5M855 319v12M989 1000v5M1003 934v7M1322 730v12M1421 356v4M459 639v5M1068 981v4M599 809v5M1753 539v10M975 841v10M1249 441v3M976 584v5M1320 585v5M829 451v5M1114 983v6M1021 374v3M1045 411v12M1776 582v12M771 354v3M1284 716v4M681 436v4M830 873v4M1795 576v10M608 518v7M1266 652v6M440 660v6M670 405v12M721 575v4M1283 650v5M1483 500v7M998 833v5M871 638v5M1297 607v10M1109 797v5M933 416v12M1063 532v8M1271 786v5M1030 605v7M839 496v7M1009 852v4M1401 507v10M787 774v10M1935 695v7M540 650v12M789 451v7M642 738v5M1176 907v4M693 609v6M1270 743v7M534 646v8M519 702v10M837 765v5M606 692v12M1244 876v12M1353 680v7M1071 976v3M1180 1005v4M494 791v4M1470 436v5M1140 916v5M1048 1024v3M598 514v8M874 829v5M854 763v8M1152 468v3M1150 344v3M1445 428v4M1537 441v8M1108 1033v4M1260 567v8M1167 769v3M850 897v5M1117 829v8M654 353v7M1135 622v5M701 585v10M929 990v8M606 621v6M742 294v3M1251 310v12M1199 535v10M725 446v6M1172 465v5M990 658v4M1092 519v5M1161 544v6M1156 540v6M796 458v7M1133 995v5M874 605v5M940 994v6M1034 919v10M945 712v4M795 674v7M867 846v8M980 653v3M1170 812v7M1580 490v12M695 322v6M1099 721v4M950 432v3M826 699v5M1483 548v3M1043 551v5M1445 648v10M960 808v5M1051 198v3M1167 685v4M1068 425v3M1006 734v6M1230 666v12M869 944v6M1794 617v5M1721 635v12M1065 431v4M1700 617v8M561 609v5M1230 617v3M1173 545v7M1028 637v5M533 744v6M631 745v10M545 584v5M889 678v4M1042 655v4M1276 610v12M1261 277v6M1335 575v6M1218 521v7M696 530v5M762 283v7M821 284v12M848 548v4M497 591v8M731 638v5M547 638v7M642 580v7M1231 605v4M1238 593v12M1069 725v6M1227 679v8M986 391v12M1462 377v7M764 715v10M725 488v6M895 221v7M954 421v5M1149 466v6M1072 327v3M1050 466v6M999 441v7M1365 673v5M1319 743v3M860 317v7M559 553v10M1142 712v5M743 770v5M1156 609v12M919 838v12M578 717v5M891 354v5M631 565v6M754 878v10M689 591v7M635 841v5M1003 720v5M1209 644v8M730 621v5M1054 217v7M911 830v10M944 399v5M1455 444v5M987 1018v7" stroke="#d6e6ff" stroke-width="3.4" stroke-opacity="0.35"/>
<path d="M1091 252v10M1303 635v8M865 331v5M607 556v5M944 351v3M994 913v12M569 524v8M631 857v10M626 791v6M1344 546v4M1170 836v12M1064 486v3M859 946v6M677 371v6M919 408v12M1289 671v6M1076 724v6M1452 490v7M1038 915v5M1198 662v10M629 471v3M1704 544v6M772 441v10M745 461v6M893 475v5M677 682v8M885 615v5M734 742v5M777 410v3M829 292v5M908 943v5M574 585v6M1715 625v7M942 757v8M1249 293v4M1348 426v6M581 499v5M1339 626v7M988 648v3M1539 531v6M1003 849v10M1056 1089v8M655 646v3M1153 407v4M1340 758v3M978 829v4M1176 960v7M1364 358v7M710 333v7M647 702v5M1311 677v5M1105 268v12M1118 637v5M1245 694v3M1131 879v5M705 611v6M1416 567v5M676 577v4M1041 549v7M890 951v5M1303 656v8M876 572v4M843 267v8M708 513v6M816 911v5M1293 358v5M474 591v5M1553 536v5M1165 1003v6M1258 569v6M511 807v3M995 564v12M999 917v6M1008 860v3M878 824v5M1089 748v6M1201 867v6M1196 577v12M673 455v10M902 993v5M791 371v7M917 953v5M638 587v12M487 695v8M663 387v12M546 588v4M959 948v12M1377 682v6M1203 759v4M1027 695v4M804 923v12M564 537v5M1124 287v10M1016 747v4M1095 463v6M1124 777v7M698 624v6M1108 497v12M710 823v7M1119 1059v7M1306 622v5M448 681v3M751 911v5M1313 381v3M727 781v7M1215 446v8M1261 709v3M910 368v10M547 612v10M845 235v12M963 599v7M785 441v3M1256 610v8M744 649v8M1089 511v5M701 767v12M1252 540v12M650 560v5M741 367v3M1471 459v6M888 743v10M781 359v3M1256 337v5M867 682v3M1015 692v12M1400 686v3M580 553v8M661 391v5M939 852v3M977 720v10M698 862v3M1149 1019v5M1241 654v6M589 733v5M1179 778v3M1162 931v10M912 850v5M1243 768v3M1336 517v12M902 272v3M985 361v12M808 297v12M620 599v6M764 637v4M1384 477v5M714 900v7M723 608v12M490 687v8M1060 523v5M1095 647v3M1404 501v4M876 950v10M1456 566v8M965 1005v12M1126 836v6M774 460v3M1282 736v6M1089 375v5M738 819v6M1422 439v8M923 354v10M737 676v4M496 782v4M831 206v4M796 786v12M967 1009v6M989 776v8M585 762v3M898 625v4M1392 674v3M885 819v10M900 727v7M1072 527v3M1238 719v12M848 392v5M1279 418v5M1250 521v5M1284 282v12M1185 547v3M632 686v12M996 710v4M1049 1020v10M466 794v10M947 703v12M594 527v5M840 918v5M999 913v10M1451 489v7M977 568v12M1551 599v12M987 931v3M1444 624v7M1057 721v8M760 454v3M1288 556v12M844 930v4M965 698v10M887 944v3M899 563v8M1294 751v6M817 706v3M729 456v4M1128 447v8M627 533v5M850 431v5M1189 783v5M1067 1017v7M1243 704v6M976 388v3M886 707v5M511 647v12M1472 380v4M1096 583v4M1332 582v8M1438 667v12M1326 602v10M860 755v5M1045 644v4M674 393v4M452 742v12M717 848v4M845 345v10M906 576v3M1260 274v10M1116 1025v10M1387 618v12M729 914v5M649 629v3M1081 758v3M1200 805v7M1138 749v10M661 559v8M758 615v5M987 919v8M467 798v6M1392 635v5" stroke="#d6e6ff" stroke-width="2.6" stroke-opacity="0.5"/>
<path d="M606 622v6M493 667v7M1049 617v7M674 348v6M1142 713v7M1287 784v5M716 820v10M1825 660v8M1145 1028v3M1332 598v12M1131 882v8M1288 800v12M600 630v5M886 439v5M810 808v7M1113 488v4M1222 902v3M1175 900v3M1015 862v6M1099 1107v7M860 451v5M1522 451v4M1366 340v10M835 638v5M1127 786v5M902 929v7M1500 550v8M1263 536v7M1648 476v4M980 932v5M755 558v5M911 970v4M896 326v10M1558 522v7M1287 689v10M944 466v10M951 373v5M596 594v4M654 812v5M1018 549v8M1146 700v5M1547 616v7M1744 589v4M1029 1027v7M803 670v5M893 728v7M1116 592v6M663 718v10M822 748v3M1012 972v3M1085 279v4M1181 516v7M502 666v6M697 562v10M1603 528v4M849 683v8M605 699v6M1058 235v6M606 565v4M1133 581v3M998 737v8M1891 680v5M1209 694v5M804 491v6M658 355v7M1092 489v5M747 612v8M932 256v10M1361 458v7M950 257v3M690 841v3M822 399v10M756 416v4M1120 411v5M779 604v5M701 562v5M1784 633v5M1077 849v7M710 638v3M1043 583v12M655 629v12M786 810v12M1079 1021v12M1040 519v3M680 635v5M1285 607v8M1062 446v8M868 636v8M729 520v7M1309 556v8M763 841v6M840 684v7M784 466v8M1252 560v6M720 636v5M924 400v6M1266 683v3M1156 463v7M1414 416v5M1620 549v10M1255 387v12M967 985v12M1222 633v6M1430 667v4M477 742v7M877 464v4M570 471v12M1602 522v12M1200 488v10M1334 552v4M1445 604v7M1006 237v4M878 661v6M1068 750v12M959 941v6M1335 598v6M868 684v12M762 801v5M908 291v8M1486 384v12M879 961v4M1265 383v6M1114 568v3M1724 561v8M1051 785v6M1662 534v10M1135 652v7M1014 379v5M1281 601v8M1096 237v4M603 567v10M1018 620v3M1212 742v7M1130 393v4M941 466v3M650 599v10M1119 727v6M731 603v10M1090 636v6M1382 472v5M1161 1013v6M1159 722v5M858 473v12M1385 375v5M1162 630v7M1785 621v3M1182 863v6M1263 692v4M1187 582v4M1204 561v3M1312 576v5M1131 296v12M674 584v4M555 705v5M1186 555v7M567 792v5M1775 640v10M847 265v5M718 570v4M530 684v7M1577 444v8M569 560v4M1808 604v5M710 609v6M741 553v8M809 585v12M731 460v5M921 870v4M1231 731v4M751 538v7M845 904v5M1743 587v12M1134 293v12M748 538v5M1018 1006v8M1001 1000v5M1266 662v5M941 578v10M1171 316v4M1021 980v10M626 852v5M1318 663v3M954 796v10M698 537v10M1325 298v8M959 716v5M1205 241v10M1272 567v5M788 831v10M1855 576v12M1211 660v4M1133 1044v3" stroke="#d6e6ff" stroke-width="2.6" stroke-opacity="0.8"/>
<path d="M1045 691v12M566 597v5M609 644v12M461 792v6M983 317v3M504 715v4M801 425v3M1218 584v5M1227 650v5M698 875v8M742 900v5M972 914v3M643 870v6M942 178v7M1158 729v5M1046 729v5M927 683v8M959 551v3M637 421v5M1002 813v4M1387 585v12M813 715v6M1154 987v5M1056 867v8M623 854v8M1252 758v5M1003 719v4M929 871v3M1028 503v8M1132 457v5M710 441v12M664 702v5M705 759v5M1057 336v3M1369 723v5M758 461v8M963 765v6M968 176v7M733 356v6M1098 402v5M1108 987v10M695 709v6M726 297v8M757 267v7M1134 745v6M847 389v10M554 762v5M699 486v12M599 803v7M1106 1097v6M652 488v8M1019 761v4M1109 336v10M783 452v12M1066 873v5M1251 624v10M1023 600v12M847 900v7M591 690v7M1037 285v8M833 741v5M941 469v5M989 583v3M963 519v7M873 514v10M725 466v10M794 806v6M1397 470v10M1012 268v12M1075 966v10M675 723v8M842 304v7M723 711v3M1524 595v6M811 735v10M743 465v7M760 861v4M1177 675v12M914 287v8M489 603v5M1141 981v7M933 802v3M589 723v8M1230 706v5M570 664v5M902 517v10M979 1013v10M1318 795v5M1237 719v7M984 365v8M1160 1032v4M836 240v4M545 651v10M1242 655v3M916 579v3M1344 645v3M1254 511v10M689 855v3M656 563v12M1312 661v12M709 741v8M985 827v12M972 924v10M1199 824v12M1325 359v5M1497 616v4M885 501v6M828 838v10M876 585v7M1198 309v10M1112 219v7M1166 229v5M1103 307v4M1387 658v10M1115 824v10M759 902v8M654 446v5M978 400v4M1016 541v7M1317 556v4M467 796v12M982 999v7M525 684v5M651 710v7M1174 607v10M762 465v5M1114 348v12M778 382v10M1269 600v4M1045 1080v5M966 733v4M738 627v5M1102 443v10M701 349v10M1135 524v8M871 881v8M1096 1042v4M1015 532v12M1235 537v5M750 553v7M927 978v5M990 427v8M1034 919v4M1317 736v5M1013 849v7M718 824v5M717 723v5M958 606v5M959 614v3M1059 516v10M1196 906v12M647 658v5M1337 559v8M806 894v10M536 799v4M1131 729v10M1193 239v3M1790 539v7M955 501v10M896 396v7M469 756v3M1186 360v12M986 913v7M1203 586v8M1235 315v5M840 689v5M510 769v12M1054 824v10M815 806v8M672 505v4M1260 639v5M777 458v5M806 408v8M783 660v5M1116 1027v6M753 424v3M1767 630v8M1013 260v10M1701 603v7M1614 485v3M1083 635v4M1138 480v10M1092 304v8M726 305v7M1088 367v3M507 776v6M1026 468v12M809 815v6M1062 699v3M506 569v3M1096 1098v10M1004 637v6M846 377v7M1208 314v12M548 795v5M891 759v10M933 296v4M901 514v8M723 600v5M1149 1018v4M1010 883v3M1016 650v3M515 584v5M1136 791v5M903 385v12M1279 674v5M973 408v6M1447 589v10M934 825v7M933 335v12M741 417v10M1042 353v10M1163 959v10M998 753v5M1040 849v5M668 822v6M674 641v8M1454 459v8M897 634v3M779 397v4M734 656v5M531 578v10M1746 631v5M1343 722v8M652 373v10M1352 606v6M1059 717v10M784 866v4M1339 655v5M1141 847v8M931 725v10" stroke="#d6e6ff" stroke-width="3" stroke-opacity="0.35"/>
<path d="M1247 352v5M809 239v5M949 306v6M910 234v10M1571 592v12M1477 584v6M1243 396v6M925 274v8M1605 545v10M1315 508v5M1662 541v12M959 314v8M1336 514v5M952 300v4M1419 398v4M1617 467v5M1264 353v10M921 207v6M1373 415v4M1680 514v4M1421 490v7M1293 523v4M1259 295v10M1351 505v7M1412 545v7M1267 320v8M1182 439v6M1223 301v3M1212 366v10M1399 433v8M1708 552v6M1180 304v5M1490 613v7M976 173v5M1322 441v12M1537 618v7" stroke="#b8f4ee" stroke-width="2.6" stroke-opacity="0.35"/>
<path d="M1571 513v7M1463 494v8M904 238v3M1298 524v10M1111 366v10M1435 377v8M1533 614v8M1181 352v5M1381 492v10M911 329v8M1549 565v5M1067 250v5M1508 487v10M1525 569v4M1205 271v5M1379 401v5M1308 452v6M1280 306v3M1559 601v5M1193 251v6M1159 333v12M957 193v6" stroke="#b8f4ee" stroke-width="3.4" stroke-opacity="0.5"/>
<path d="M1398 495v12M819 250v7M1328 534v7M922 273v3M786 239v10M1641 601v4M1377 360v8M1372 508v4M1161 290v5M1256 333v5M1282 307v6M1606 567v5M1058 322v5M1084 197v10M938 200v5M862 281v4M954 242v8M1257 486v4M1304 488v7M1562 592v10M1130 396v5M1278 349v5M1393 438v8" stroke="#b8f4ee" stroke-width="2.2" stroke-opacity="0.35"/>
<path d="M1355 447v5M995 214v12M1300 491v12M1137 268v4M1067 348v4M890 267v8M907 217v12M1670 563v10M1542 506v12M1394 488v12M1187 291v12M950 227v5M960 174v4M1176 395v6M1410 407v8M1467 532v6M1554 584v4M942 257v5M1150 317v6M1513 536v8M1345 503v10M888 234v5M959 228v12M1602 521v5M1241 339v8M1220 335v12M1378 492v3M1552 436v12M1706 596v5M1532 434v3M1337 467v8M896 188v7M1280 466v7M1289 332v5M1386 509v12M1278 297v12M1088 416v12M1073 338v3M1221 475v7M1343 372v12M1382 414v7M1517 548v6M1077 396v7M1475 401v12M1025 307v4M940 243v6M1037 212v5M885 235v5M1225 324v6M1271 389v3M1223 260v5M1061 228v10M1185 459v8M945 201v7M1216 363v8M1100 342v6M1516 559v10M1069 378v5" stroke="#b8f4ee" stroke-width="3" stroke-opacity="0.6"/>
<path d="M972 290v3M1185 461v5M1002 241v6M1493 463v8M1278 390v5M1170 426v8M964 212v8M1688 531v7M985 238v6M1125 303v5M1639 483v5M1038 351v3M1367 561v8M1195 399v4M1377 568v3M913 255v6M1326 471v6M1017 387v5M1491 445v7M1131 436v10M1410 452v6M1601 515v3M1483 484v7M1185 308v5M1462 613v7M1422 420v5M1142 238v6M1134 307v8M1300 371v7M1254 476v10M1577 484v3M1419 575v12M1348 404v3" stroke="#b8f4ee" stroke-width="3" stroke-opacity="0.5"/>
<path d="M873 789v10M1105 547v10M1267 659v3M1077 660v5M1136 341v7M628 653v12M1359 734v5M1294 390v4M1059 668v6M467 676v7M1407 510v5M968 216v8M897 936v3M760 735v8M1772 652v12M974 229v5M926 777v7M517 541v4M1210 366v8M845 861v5M973 338v8M1104 663v10M1179 985v12M883 645v8M854 298v7M1165 982v7M659 701v4M601 835v8M1790 543v6M946 700v12M1703 592v12M932 835v8M940 557v12M926 370v12M1807 559v5M829 958v5M820 471v12M1350 315v12M607 651v12M655 630v10M763 280v5M1026 531v4M1220 695v10M1175 851v6M1178 247v5M1170 659v10M638 531v6M527 569v4M725 325v7M967 253v7M689 595v6M721 794v5M1330 496v7M1081 705v6M914 718v10M1184 591v3M863 895v5M1104 280v6M889 473v8M1421 555v10M696 855v3M617 559v12M1035 840v10M704 790v7M959 327v5M682 646v3M597 624v7M1159 842v12M905 450v8M969 199v7M675 533v3M1764 561v8M661 808v5M918 731v5M1114 646v7M1114 311v12M998 971v10M491 661v5M892 428v12M1117 381v6M1126 1029v3M1052 560v12M792 628v5M782 297v7M883 878v10M1226 879v5M1131 943v5M1318 295v5M1169 485v12M1689 580v10M1618 497v6M1101 708v12M1317 534v10M1021 595v8M874 923v5M838 809v8M1295 728v12M858 341v4M1038 292v5M640 865v5M1094 951v5M1101 475v8M535 801v8M717 712v8M961 840v12M466 765v3M1064 298v12M767 374v3M1435 568v7M639 774v4M1034 557v7M957 814v10M906 399v3M901 436v4M883 451v4M1050 194v5M1056 514v10M840 738v8M1872 569v12M934 1001v4M934 641v5M813 764v4M804 545v4M1163 805v5M1431 427v5M647 687v10M1283 585v7M980 529v7M1200 890v5M1195 303v4M732 412v12M1432 581v10M892 850v10M868 685v7M1790 588v7M1797 640v4M1162 607v10M1282 351v4M698 655v4M824 594v7M1031 450v6M1140 704v12M844 932v8M1111 740v5M1548 423v12M672 339v12M1149 226v5M926 879v8M1311 480v12M536 700v5M1346 401v5M973 553v7M616 387v5M1708 628v6M1152 389v8M551 550v5M1113 634v10M1611 564v4M876 779v7M1180 647v4M834 469v7M1112 878v12M1041 443v12M1305 761v7M844 691v12M777 433v6M993 363v6M1003 627v3M881 269v10M783 291v5M621 398v6M907 433v5M780 466v5M527 567v8M984 316v10M919 884v3M671 390v6M608 761v8M1210 432v12M1053 1057v5M984 783v5M918 783v6M502 805v7M1595 442v4M948 685v10M922 343v8M1022 979v8M1359 624v5M1163 913v5M997 444v5M1118 961v12M1331 494v3M758 812v5M1271 409v5M1346 554v10M638 683v8M800 344v4M861 280v10M784 828v5M862 593v4M1130 635v6" stroke="#d6e6ff" stroke-width="2.2" stroke-opacity="0.35"/>
<path d="M1438 401v12M1509 501v8M1151 379v12M1521 423v6M1512 479v4M928 201v10M1484 574v6M940 186v7M912 208v4M1401 515v3M817 221v3M1488 450v8M947 345v5M1579 467v6M1174 363v7M1410 575v4M1526 612v5M1181 406v6M1628 510v4M1627 513v3M1344 393v3M1149 450v7M1111 280v6M1646 492v6M1497 411v10M1505 440v7M1379 525v7M1542 567v6M938 294v10M1362 455v6M905 305v5M1472 444v12M1283 420v5M1183 340v12M1383 413v12M1510 491v5M1491 575v12M991 326v10M1162 453v10M1586 529v3M1100 403v5M1056 336v7M1040 336v12M1602 474v5M1175 400v7M1279 509v3M1404 382v8M1123 375v6M1129 226v7M1617 527v10M1016 188v5M869 222v8M1516 500v5M871 228v6" stroke="#b8f4ee" stroke-width="2.2" stroke-opacity="0.6"/>
<path d="M1105 306v6M1437 399v3M1062 295v7M1066 285v3M1021 316v4M979 276v8M1294 319v5M964 192v4M932 219v7M1402 460v12M977 351v7M1405 360v10M1261 417v8M1578 579v12M1497 414v8M1493 595v4M1383 406v12M1569 582v5M1416 535v8M1565 574v8M1574 462v12M1676 515v7M1179 272v7M1340 547v5M1589 511v12M1505 500v7M1172 290v5M1361 503v12" stroke="#b8f4ee" stroke-width="2.6" stroke-opacity="0.5"/>
<path d="M1066 248v3M972 306v5M1307 420v8M1394 363v6M1204 299v4M1504 491v12M1381 577v3M1652 602v10M1350 362v7M1384 571v5M1673 514v6M1163 316v8M1308 503v4M1029 334v5M1287 328v6M1460 390v8M1587 539v6M951 345v10M904 187v3M1646 549v8M1580 560v7M1328 471v12M1578 558v5M914 248v4M1283 461v8M972 298v5M983 282v10M1624 507v7M1103 399v5M1436 380v6M1677 544v5M927 315v3M1595 523v6M1166 430v7M1702 602v6M1636 531v12M1255 487v6" stroke="#b8f4ee" stroke-width="2.2" stroke-opacity="0.5"/>
<path d="M1260 294v5M1384 400v6M1555 571v3M909 312v5M965 259v5M1254 283v6M912 235v5M1353 472v6M1521 439v12M1524 590v8M1432 447v8M1335 421v5M1638 582v8M919 304v5M1580 474v5M1050 182v12M1257 451v4M1484 447v3M1542 465v6M1167 391v3" stroke="#b8f4ee" stroke-width="3.4" stroke-opacity="0.35"/>
<path d="M1561 544v5M829 284v6M1464 527v5M1587 474v6M1373 566v5M1205 333v10M965 317v8M1622 497v5M1069 295v12M971 293v5M1712 562v7M1540 569v12M1047 296v8M1017 324v8M1077 272v4M1575 582v6M1155 351v3M1186 270v6M920 306v10M1286 427v7M1228 350v5M1336 472v7M970 331v12M1243 322v12M1416 468v5M1255 451v3M1279 330v5" stroke="#b8f4ee" stroke-width="3" stroke-opacity="0.35"/>
<path d="M1112 433v3M1448 526v5M1539 512v7M1640 492v8M865 264v8M1103 374v10M1230 315v10M1391 557v8M929 224v7M1370 421v8M1109 283v10M1302 389v8M1299 501v8M1029 312v5M1676 565v5M1285 378v10M1525 618v5M1153 413v6M1212 421v12M1179 242v12M1496 481v10M955 216v5M1512 504v5M1045 262v5M1122 252v8M1331 472v8M1607 479v12M1140 267v6M1276 480v12M1064 294v6M1181 406v8M1638 520v4M914 243v7M941 323v6M1369 550v4M1040 213v10M1236 444v7M1099 248v5M1627 560v7M1055 373v12M1297 310v7M1704 560v5M921 203v7M895 188v6M1327 358v10M1393 558v10M1468 586v7M1130 329v5" stroke="#b8f4ee" stroke-width="3.4" stroke-opacity="0.6"/>
<path d="M1128 550v6M1029 1010v14M729 748v5M750 583v8M579 630v14M1311 331v8M1205 304v12M946 422v6M1232 492v6M1036 561v6M951 990v10M1653 544v14M1157 410v10M1198 866v12M473 749v12M1080 495v14M594 806v5M739 398v10M791 902v6M964 511v14M857 687v14M990 834v10M1277 808v6M1145 961v6M1276 585v8M790 541v5M1231 389v14M1638 469v10M603 824v6M836 560v8M1445 655v12M1459 447v12M1717 584v12M692 512v10M720 801v6M565 720v8M908 185v5M1372 603v8M869 326v8M1266 532v6M877 896v5M1726 560v10M856 634v5M962 1012v14M1933 664v14M979 232v10M626 385v10M1124 779v6M1351 683v14M740 775v12M1203 239v8M963 633v5M771 254v12M910 927v10M501 582v5M800 277v8M1819 579v8M1284 688v12M688 555v14M1322 727v10M635 765v14M509 697v10M1027 694v12M1072 463v6M1225 588v10M1895 623v10M1096 426v10M1458 608v10M724 664v6M1193 869v6M1311 729v5M1253 830v8M1004 925v14M1018 621v8M1174 261v8M1860 647v12M747 439v12M982 834v8M947 781v6M1188 626v10M1304 745v6M2045 747v5M794 293v12M1291 803v5M845 403v6M1538 537v14M1357 630v8M1348 738v5M1287 335v5M989 892v12M725 395v10M861 371v10M1891 595v6M908 918v6M1073 457v14M822 822v14M1110 599v14M993 543v14M1187 980v12M1376 446v5M842 652v12M1842 646v6M646 854v6M845 575v6M878 758v5M939 895v6M982 574v8M867 950v6M1097 404v8M593 507v8M844 745v5M1999 671v12M1134 291v8M1224 841v14M1221 348v5M1008 1022v10M1205 801v5M961 640v14M1092 230v14M584 668v6M568 681v8M1578 565v12M766 435v14M1815 611v8M1704 522v12M630 739v6M838 837v6M1203 302v14M497 727v10M784 309v10M1375 416v8M1264 800v5M1210 424v5M995 790v12M936 635v14M1160 751v5M609 807v8M646 741v8M1058 662v8M1693 581v10M852 832v8M887 873v14M1207 890v5M1058 748v10M1944 685v14M898 814v10M1777 645v6M1291 648v8M1274 363v6M1091 308v8M609 506v8M713 731v5M1029 754v14M1149 274v6M851 373v14M527 763v10M1163 769v5M1788 638v10M1294 597v8M1103 1096v14M1916 636v10M1153 551v10M819 636v8M1363 441v5M1290 558v8M1130 709v6M922 994v5M1100 666v14M1512 476v14M658 381v14M656 391v10M952 933v14M871 596v6M996 273v6M1157 857v12M1123 883v8M543 811v12M919 344v14M1848 571v14M1450 429v10M1342 607v8M882 715v14M1110 604v14M1138 689v12M740 797v14M1128 919v8M1277 507v14M1013 403v10M1006 861v14M841 212v6M1696 612v12M673 750v10M1096 262v14M530 633v8M943 235v8M1067 864v10M503 787v14M784 571v8M1603 567v6M935 267v8M937 449v10M493 713v5M976 209v8M932 1001v6M809 697v12M1126 278v14M969 482v8M1052 528v8M799 223v8M1409 595v14M612 805v14M857 656v12M1088 582v8M745 630v5M765 758v12M961 904v10M1330 576v14M603 809v8M781 901v6M1432 633v14M977 983v12M1187 867v5M885 702v6M674 642v10M1245 454v8M995 431v10M1017 623v8M967 484v5M711 519v5M893 655v6M1096 1052v8M639 537v14M1043 513v8M908 707v5M1593 521v5M1383 686v10M1932 662v6M1687 547v5M752 795v14M1395 692v10M709 521v5M643 363v14M531 738v6M762 509v14M839 519v10M958 728v6M620 425v12M1105 801v5M1082 563v10M652 511v14M929 793v6M1119 1091v5M1163 931v14M1063 998v6M745 790v6M803 676v10M795 499v12M976 543v5M1317 302v10M1594 533v14M894 651v10M1035 816v8M1412 524v10M1380 370v12M745 546v5M1151 386v12M1840 630v10M1171 435v6M1205 262v5M1029 532v10M712 877v5M1360 411v10M1330 671v5M1856 579v10M985 648v12M802 475v12M721 638v14M981 683v14M1321 789v12M886 685v5M970 396v12M744 909v12M1259 303v14M852 469v12M1131 894v12M1253 286v12M835 837v12M624 505v12M1821 638v6M1027 674v10M1682 489v8M774 826v5M991 864v10M927 525v5M1450 651v10M1299 368v8M1532 551v5M1151 369v12M940 639v14M776 335v8M876 568v8M1028 469v14M599 600v10M770 580v6M980 821v14M416 749v10M1356 362v12M666 452v14M671 663v6M1112 706v12M1966 713v14M1267 428v14M730 701v6M930 796v14M606 557v8M1049 243v14M964 963v14M1126 931v14M1051 1026v12M1216 536v6M634 743v14M651 686v8M1497 411v10M1393 385v12M994 905v5M1055 758v5M825 533v6M890 218v6M721 480v6M1577 516v6M700 867v8M746 518v8M1363 418v8M1380 645v8M1319 357v5M1162 443v12M1444 429v12M941 824v14M564 717v6M1412 453v6M1067 483v10M730 531v5M1043 202v10M1823 625v8M1562 610v12M1531 599v6M1116 1047v5M815 433v6M841 220v5M785 508v12M1154 859v8M527 518v12M884 680v8M841 791v10M1949 673v8M1830 585v8M1985 700v5M1295 753v10M1006 794v14M646 760v8M817 805v10M939 782v10M1185 888v6M963 871v10M1175 416v6M926 184v12M1798 557v6M978 929v8M425 721v5M739 729v10M1258 728v12M935 261v8M1426 375v6M1362 456v5M1115 438v14M974 580v8M1108 291v6M755 698v5M708 834v12M748 532v10M584 505v12M1424 538v14M851 385v14M1324 693v8M965 263v12M1819 557v12M1106 768v8M1331 422v8M1510 400v5M1320 469v6M1049 337v10M616 825v14M1426 586v6M1543 412v5M946 923v14M1219 424v8M1353 708v6M1388 379v14M1057 865v6M1223 420v6M796 241v6M1305 350v6M1271 691v6M964 791v8M718 621v8M758 293v5M770 565v5M1036 261v6M1238 902v14M734 477v5M1113 429v5M569 474v10M941 769v5M622 645v8M1397 635v5M836 369v5M703 743v5M1455 519v10M730 845v12M809 710v12M1754 572v6M1248 849v5M958 898v14M1207 545v6M1119 914v14M1175 233v10M668 556v8M683 558v8M792 805v10M1439 625v10M1178 880v14M1138 603v14M1039 400v8M1173 954v5M1407 676v8M1396 429v8M1121 462v10M875 753v14M1899 629v10M1346 608v10M925 347v8M1388 574v6M811 358v12M1304 742v8M1604 566v8M1056 829v8M624 506v12M809 785v8M1315 400v14M1332 582v12M1072 241v6M889 872v12M557 714v14M1652 603v10M1852 599v14M1047 268v8M1175 775v14M515 551v12M1158 924v8M695 766v12M1141 1048v8M1037 908v5M1066 451v6M574 648v14M1082 265v6M1289 586v14M835 257v10M1048 952v8M1344 520v8M1503 588v12M1053 222v6M1231 823v8M861 327v12M642 526v12M820 488v10M600 703v5M845 527v6M870 720v12M1389 675v14M916 854v12M1463 436v5M955 317v10M1065 431v14M1240 703v8M1325 739v5M784 384v8M1256 514v12M817 466v14M763 574v6M1238 453v6M547 765v5M773 742v5M992 972v14M1299 358v14M1258 691v14M1414 649v12M1164 489v10M1133 330v8M1255 773v8M732 705v6M1087 1070v8M690 545v5M1184 438v6M690 659v14M1195 678v14M1548 541v6M729 912v5M1432 603v5M1264 325v5M1313 657v10M1251 359v5M1221 645v12M793 901v6M1260 342v12M1309 783v6M494 576v10M932 699v10M1253 595v5M1147 928v8M1358 718v12M765 906v12M1671 524v8M755 837v14M796 370v14M674 836v5M910 831v12M708 572v6M1702 612v5M979 700v12M871 748v5M1794 626v12M677 822v10M1303 797v10M1115 517v5M786 442v6M513 658v10M1132 585v10M1416 446v6M638 783v12M692 369v6M1812 608v6M1435 526v8M553 760v12M806 918v8M969 706v8M1097 459v10M532 668v6M1216 947v5M1992 684v6M1196 861v14M566 751v8M911 338v5M1535 463v12M877 648v8M692 346v8M1078 1037v14M940 478v10M952 804v14M1162 797v12M484 751v10M1166 287v14M1083 393v10M1086 596v14M1100 371v14M1027 579v6M508 792v14M448 757v8M1005 766v6M950 769v12M1135 861v12M1121 970v14M1123 516v10M845 646v12M1212 251v12M1255 361v8M1375 373v12M1264 671v14M1461 568v14M972 828v6M729 627v5M727 844v10M758 485v8M1243 633v10M970 855v6M1166 236v14M924 552v8M565 501v6M1050 435v8M1031 997v5M1001 923v10M1028 895v8M989 762v8M756 489v12M1050 225v8M1406 469v14M680 787v5M1433 388v14M1161 260v8M1154 938v10M1309 738v10M829 641v6M580 481v8M631 556v12M1200 673v14M946 274v5M1108 957v10M1351 738v5M1050 183v10M811 518v14M906 633v8M1035 978v8M750 470v5M518 618v14M1784 624v6M1120 723v6M1570 499v10M751 527v6M886 491v10M804 376v12M1120 359v5M1041 579v8M676 348v6M701 543v14M767 797v10M697 597v10M800 493v10M682 332v14M635 728v10M931 607v8M1115 248v14M1302 336v10M830 415v10M1263 827v10M674 496v14M970 534v14M931 738v14M944 679v5M982 775v5M1284 639v12M951 949v8M586 494v12M1129 460v12M785 887v14M1142 454v14M943 465v8M1678 557v10M738 451v12M1137 553v8M1113 1047v8M1134 484v8M773 581v12M1783 642v14M1143 544v14M1032 901v8M1396 579v8M968 790v14M1025 257v8M823 318v8M910 634v6M1265 639v5M1059 997v14M1090 925v10M1239 690v6M1489 631v10M815 718v10M1130 578v6M963 856v6M819 561v5M1204 798v10M998 828v12M872 392v6M1714 598v10M1110 619v10M960 960v12M1768 537v10M872 290v10M951 927v8M851 684v14M1738 535v6M1923 710v8M1383 621v6M928 438v14M1218 590v10M414 752v5M1421 359v12M705 484v8M1002 283v10M902 600v12M1217 789v12M938 455v5M912 740v10M661 837v12M771 544v14M1004 686v14M1994 679v5M1140 587v5M976 580v6M1255 845v10M919 899v14M700 789v6M1045 1052v6M1817 657v14M1012 1008v12M1003 1029v5M1016 1001v6M1241 789v8M963 951v10M675 627v10M1155 852v14M842 561v5M1369 656v12M1156 776v8M1010 858v6M1014 476v10M1310 517v8M879 598v6M1208 820v5M1372 493v5M645 573v5M879 765v12M1200 334v6M1208 245v14M1218 322v14M1151 405v10M1214 582v5M559 508v14M1123 628v12M573 714v6M559 585v6M1368 455v8M875 802v5M1029 433v5M1288 524v14M798 510v12M1015 195v12M1421 358v10M624 697v10M1269 416v10M1163 740v14M768 628v5M776 481v14M1343 587v14M1032 347v12M1193 400v14M1139 869v10M1073 230v5M1655 520v6M823 432v12M1197 451v5M1456 534v6M1086 952v5M988 688v14M673 603v8M956 412v6M1016 813v10M830 460v10M1175 968v10M855 357v10M852 857v8M1330 771v12M905 705v8M1061 953v8M1044 562v8M821 862v6M783 802v12M611 733v5M1116 833v5M829 336v10M751 714v6M1855 570v12M917 287v5M1024 700v5M490 800v8M904 726v12M1350 608v12M1132 968v14M1138 611v5M1111 1043v8M760 559v5M1130 210v5M576 774v10M724 832v8M1395 621v14M1098 1051v8M782 546v5M1128 1041v14M496 801v6M885 712v5M1506 619v6M1393 338v14M887 679v8M1195 684v5M1044 769v14M2019 693v12M1032 342v12M1671 583v10M966 543v10M1172 613v8M1304 320v5M1188 647v10M1009 862v14M982 817v8M1377 498v14M1202 522v5M780 414v5M1072 382v12M763 863v8M616 622v12M1227 658v12M724 516v8M1314 593v8M1125 549v12M1199 283v5M918 335v14M556 689v8M683 866v10M1155 613v6M941 916v5M1242 795v12M1215 533v14M1370 374v5M693 834v10M1087 887v8M903 345v5M763 616v8M1169 972v6M1019 755v5M937 329v14M1052 239v5M1067 617v12M1310 478v12M852 615v12M851 343v10M833 358v6M1847 634v12M1152 255v5M819 789v6M665 568v8M985 249v10M796 480v10M1037 296v14M1015 428v10M1129 431v8M1281 531v12M1229 677v14M805 379v8M1898 648v5M1198 536v12M1470 439v14M703 502v14M757 536v14M841 345v8M1159 835v10M900 215v12M932 183v12M1505 423v6M941 731v8M968 960v10M1291 520v12M1130 285v12M742 296v14M1258 412v14M1179 559v10M1245 866v10M1289 328v8M940 357v12M595 689v10M706 426v10M1344 348v8M633 859v5M881 368v5M1056 888v6M517 637v14M676 360v8M571 650v12M1069 223v5M997 972v8M684 509v5M1536 442v6M815 456v14M1180 399v5M892 699v10M900 972v14M1192 468v5M1093 329v10M944 541v12M567 811v5M2003 690v12M1448 610v10M940 400v12M556 753v8M784 502v12M1061 497v5M926 867v10M760 601v14M1772 638v14M1228 458v10M1253 481v8M1079 668v12M613 564v12M1823 660v8M2055 744v8M1488 570v12M1476 418v14M1026 285v10M1191 664v8M1486 474v14M753 681v12M762 272v8M798 379v14M816 582v10M586 476v14M892 664v8M893 196v12M1289 380v14M1248 329v10M1027 1060v12M634 440v10M778 818v6M1263 444v14M1173 1005v12M1288 461v12M985 317v10M1092 353v6M800 447v10M909 891v14M716 650v8M1040 929v5M1081 774v12M873 656v14M710 581v8M1049 1081v10M1483 402v10M1029 662v10M1171 341v8M1338 671v5M853 836v12M983 600v5M562 763v10M883 919v14M883 505v8M1053 945v6M1130 219v10M1113 751v12M1529 464v6M1408 590v10M609 820v5M748 810v6M523 605v6M1168 531v14M454 730v8M546 772v14M984 653v10M842 813v6M694 365v14M575 739v5M1326 397v8M1097 713v10M1367 610v12M1863 615v12M1111 1044v6M1046 837v14M1371 658v5M1169 853v10M919 529v12M1211 715v10M1043 373v10M1822 579v6M1006 333v10M649 454v14M788 795v6M1782 647v8M657 340v14M1177 853v12M1718 529v14M671 837v12M1125 890v14M879 969v12M1124 499v12M727 583v5M675 633v5M1002 725v12M717 452v6M1635 513v14M1024 937v12M1090 939v14M1199 270v14M900 260v10M799 534v8M1142 847v12M1293 619v10M639 772v12M1106 646v5M1276 433v8M1026 191v6M1242 701v8M964 467v5M1356 621v14M872 836v6M597 466v14M1356 506v10M818 649v14M1371 347v10M760 482v14M1337 613v8M760 800v8M1165 372v10M1004 508v5M1156 711v12M972 927v14M566 452v12M989 822v12M1052 1058v5M836 270v6M997 902v5M983 716v12M1037 1062v8M850 656v12M726 337v5M1070 813v12M1758 519v8M942 685v5M1087 1034v5M1460 510v14M1050 1006v10M461 785v5M1176 882v5M964 865v12M1646 596v10M1961 665v12M853 475v12M897 435v5M1980 740v10M1347 750v12M816 572v14M891 341v5M1699 602v6M997 903v6M1547 501v14M451 787v5M1569 527v12M1206 486v5M938 693v5M1133 471v8M1109 1103v10M1176 326v5M1142 701v6M1212 557v6M1289 559v14M1258 440v14M952 407v14M1515 548v14M1653 558v8M1383 604v12M1188 915v14M1485 437v8M992 979v8M947 937v10M1501 448v10M1040 280v12M1215 948v8M1391 675v14M1685 489v6M631 770v14M690 389v6M943 258v14M1251 504v12M862 423v14M679 872v14M1765 525v5M859 811v14M887 262v8M1905 624v14M1306 720v12M1941 657v12M941 668v5M820 466v5M1111 502v8M1459 492v10M831 906v14M894 545v6M1772 618v8M1265 831v14M1539 481v14M891 237v5M464 696v5M1163 238v8M1148 670v6M670 609v12M1353 519v5M1068 643v5M1777 616v8M1097 928v5M762 737v10M897 926v8M946 323v5M963 1006v14M1067 438v8M1106 334v12M1736 651v14M636 503v14M1189 741v5M597 813v8M1158 218v8M1558 503v5M925 215v14M1344 345v5M511 652v12M1968 680v12M619 728v5M1178 740v14M759 698v6M1294 702v14M746 524v5M1144 347v10M1187 918v12M614 584v5M764 424v14M1025 742v12M1226 440v10M1779 576v6M968 248v8M969 459v12M985 817v8M960 734v5M1042 746v5M1154 255v10M463 677v12M1064 1082v10M1259 856v10M1025 610v6M1025 602v8M1193 541v12M1507 592v5M687 443v6M700 555v8M1360 317v6M660 677v10M949 775v8M635 380v14M1269 395v12M1108 899v6M1034 754v10M690 879v5M790 711v14M967 640v5M1174 852v6M442 742v6M759 351v5M692 548v14M557 767v5M712 833v8M1001 980v12M782 812v6M606 437v10M1153 851v12M572 710v8M576 765v5M1173 632v14M1109 409v10M1009 501v10M733 401v12M1045 884v12M952 730v10M944 575v6M937 229v6M855 244v6M974 436v10M1213 765v12M1102 757v14M623 524v12M1375 508v12M803 258v5M738 312v6M688 458v14M1088 219v6M1147 1039v5M993 940v12M744 630v8M1238 898v10M1125 373v12M1223 497v12M1249 716v6M1373 559v8M789 401v10M976 187v6M1680 584v6M1274 278v8M871 351v14M615 643v8M1100 1056v12M1460 570v10M1799 560v10M951 258v12M1896 605v5M653 349v14M851 677v14M1970 677v6M976 173v14M999 871v12M648 824v14M1371 539v14M2053 737v6M586 649v5M1858 614v5M1194 250v10M844 732v5M1017 846v10M749 634v8M718 669v10M1064 436v8M1209 274v8M1001 781v5M1289 793v10M1306 618v6M1111 222v10M1644 548v10M967 887v5M670 535v8M1672 594v6M549 606v8M853 308v8M1320 354v14M1770 614v10M1091 905v12M1263 735v8M936 632v6M906 245v14M1564 452v12M583 574v5M828 586v8M1188 404v12M520 628v14M1391 336v10M1214 698v6M1124 1004v6M1124 605v5M1036 540v14M1059 776v10M1081 758v14M592 718v8M1828 660v12M554 592v10M1143 914v10M491 589v12M785 722v6M1180 271v8M1866 593v8M869 620v5M1313 410v6M876 622v8M1102 804v5M614 393v5M1343 416v5M1207 951v12M759 873v12M1029 328v14M1125 756v12M1512 598v12M1146 570v5M1172 671v8M1116 234v10M1198 323v10M932 190v5M664 402v10M702 322v14M1518 497v14M1280 541v8M748 538v5M1185 349v5M898 504v6M629 813v8M866 346v8M879 511v6M899 706v10M1459 605v5M1239 501v10M905 748v8M1283 468v5M647 502v12M1015 839v14M1131 549v14M591 460v10M723 577v12M1042 538v10M794 745v10M999 489v14M738 446v10M1089 998v12M643 465v14M1315 344v5M1287 444v5M1200 391v10M794 567v12M840 333v10M1407 696v6M1104 739v14M1446 533v6M1048 893v8M1203 578v12M867 667v6M1094 294v5M959 992v5M1089 635v6M577 750v5M1159 741v8M653 372v10M795 764v10M925 907v6M1112 668v10M1406 657v5M1136 538v6M1523 456v5M564 737v8M824 571v12M631 560v12M878 549v12M909 756v8M1688 572v12M993 443v12M604 734v10M1052 725v5M1599 528v10M1753 552v12M633 372v8M1133 754v14M1132 452v5M573 640v10M1340 700v12M738 398v6M821 868v12M724 409v6M1720 527v6M1387 680v8M1362 325v6M1082 809v12M1213 896v14M1169 485v5M728 566v12M1429 560v5M664 554v14M935 938v5M726 491v10M915 322v14M945 650v8M1887 651v5M657 848v12M733 743v12M1258 747v10M1315 506v5M933 885v10M1429 406v6M1785 550v8M987 938v8M1869 651v8M1102 503v14M1474 494v14M1227 890v14M679 709v10M1215 328v8M578 789v10M1735 656v14M501 649v6M1336 758v6M871 368v6M822 530v5M1123 382v10M1208 261v5M1644 584v8M1050 434v6M983 744v14M1181 958v14M559 593v6M1188 290v12M1206 475v6M804 270v6M777 507v8M1145 872v12M544 730v5M844 881v14M546 546v12M1767 522v6M609 653v12M1385 464v14M1709 588v14M1221 584v12M528 737v12M1135 244v8M1400 445v10M826 872v6M1262 467v10M1461 512v6M1608 578v5M1165 605v5M837 210v10M945 611v12M1278 559v8M1064 361v14M1105 866v14M617 814v10M741 733v12M892 415v12M436 742v12M474 769v12M1739 582v5M1621 526v14M818 217v5M915 217v6M786 783v6M1059 463v5M1065 370v14M1271 637v5M592 554v6M1281 723v5M1057 359v12M1158 697v10M987 221v14M972 803v14M635 469v14M1917 641v5M812 909v5M1314 661v5M911 252v6M847 344v6M1605 501v8M1484 585v14M1024 571v12M977 634v10M442 780v12M1106 340v12M958 474v10M1397 475v8M869 401v10M913 917v6M516 793v10M1529 565v12M681 542v6M947 820v5M1011 594v10M1710 533v5M1210 602v14M487 727v12M864 566v6M1655 565v8M511 624v12M647 374v14M1086 261v8M1102 417v10M958 1003v10M1776 611v14M1406 698v10M998 1021v6M1045 610v8M1273 625v14M644 535v14M1419 404v8M1809 578v10M1202 338v10M1124 767v8M648 567v10M1022 430v14M961 818v12M1842 574v8M913 804v14M518 735v10M1304 490v8M1352 360v14M808 814v5M714 505v8M770 670v8M1118 971v5M714 809v6M1046 515v6M565 640v14M887 399v6M678 580v12M1444 547v5M1811 630v8M989 859v8M763 347v14M1363 471v8M687 709v8M1229 276v8M865 343v6M848 699v10M1027 557v14M1150 681v5M1289 570v6M1422 535v14M1218 280v8M1958 678v10M1020 409v5M1418 646v6M662 619v14M992 910v14M1658 536v8M1451 545v10M1669 509v6M1361 633v14M991 782v8M732 887v8M1560 451v5M819 948v10M985 381v12M589 669v12M844 788v14M788 713v5M891 953v8M1028 800v6M808 466v14M1054 986v8M427 721v14M1489 630v14M1962 644v12M865 327v14M1077 657v6M1037 1024v14M1390 592v8M956 396v8M671 416v8M895 527v10M1081 581v10M1114 789v12M1488 632v10M756 377v12M1597 566v14M988 301v14M1145 779v8M1298 732v14M1471 589v8M1077 858v12M518 763v12M1100 686v10M1238 445v10M559 639v12M811 730v10M528 677v10M1333 434v12M1224 707v12M791 405v8M1048 501v12M1423 432v14M1552 540v5M865 851v5M1326 306v8M1251 411v5M798 630v12M1036 304v5M819 918v14M743 898v8M843 615v14M1030 505v6M1299 676v12M1867 644v5M1026 198v8M1280 461v5M1044 792v10M969 684v8M631 579v10M713 574v5M1716 546v10M965 517v12M1218 298v8M796 771v5M831 959v5M541 677v12M634 747v5M1080 428v14M957 608v8M1795 561v8M508 669v8M1012 226v10M1250 841v8M870 202v5M1446 471v6M1491 546v12M1043 680v14M744 827v12M776 857v10M843 826v10M1219 362v8M935 892v6M746 365v8M1690 593v5M508 792v12M1182 856v6M1004 313v10M1097 367v5M940 834v10M842 768v8M622 588v12M761 432v8M1104 793v8M788 544v8M838 915v12M1089 397v5M1513 482v6M1241 545v8M895 244v14M675 526v10M881 624v12M959 512v14M518 800v10M935 292v10M1273 391v12M910 339v6M1131 427v10M1045 858v8M1402 598v8M845 787v6M1117 888v5M649 693v8M1207 525v10M600 689v6M1006 824v6M619 508v6M1019 822v12M927 254v10M1025 708v14M1662 516v10M705 808v14M944 612v5M714 681v12M808 802v10M655 749v8M1024 634v14M891 464v6M1704 589v10M1142 964v6M842 557v14M711 443v10M928 444v14M1153 436v14M950 895v12M1051 794v10M1084 348v6M1067 501v8M1087 827v6M797 283v5M809 661v10M1129 568v5M1338 738v5M451 635v8M679 356v5M831 370v5M733 742v6M1814 620v6M519 698v5M848 850v8M753 918v6M1074 444v6M1100 223v8M1437 656v6M1120 444v10M1320 309v8M966 877v8M1052 981v6M1417 579v10M1452 426v12M724 701v6M1584 504v5M879 194v6M849 744v10M936 194v5M715 806v12M832 624v5M843 262v10M563 507v8M661 843v10M578 451v8M795 587v12M852 417v10M1980 699v8M1176 521v6M905 910v5M968 651v14M608 801v14M932 209v6M962 982v10M901 460v8M1262 770v10M806 927v10M554 769v5M970 623v10M691 557v8M820 703v14M677 509v6M1552 454v8M1028 200v8M843 516v8M1095 846v8M1370 357v14M728 655v6M1094 947v12M1048 338v14M1052 429v8M1184 576v10M579 664v5M1306 469v12M1054 1068v6M791 847v5M1093 271v6M1023 509v10M1262 317v6M736 429v12M1240 445v10M1202 899v5M846 279v6M701 785v14M1105 579v8M761 407v14M867 477v5M665 872v12M832 794v14M1291 493v14M1229 475v10M886 889v14M1257 752v6M1549 542v6M2008 679v6M737 486v8M570 563v5M957 223v12M1126 262v12M617 569v6M1208 906v10M1448 445v10M909 671v8M882 712v6M1375 360v10M759 840v5M931 875v10M1334 494v14M738 581v5M944 980v10M1152 529v14M1325 590v6M826 237v6M999 800v10M958 807v5M1864 617v12M1224 257v10M1418 403v10M1131 569v6M905 261v6M1022 733v14M981 986v10M1206 383v5M628 608v6M971 995v5M834 683v5M1185 983v6M1575 482v8M977 751v5M1405 346v10M753 810v5M1099 656v10M1120 209v8M1166 901v6M1330 449v6M716 339v10M1119 737v8M910 806v12M1267 712v10M1310 635v12M718 700v14M1016 737v5M1386 663v10M1082 290v5M470 752v6M1040 751v10M1188 937v10M824 282v6M633 565v12M967 237v6M1072 437v14M1123 639v8M570 604v5M629 426v6M1284 602v10M571 668v5M745 576v10M1386 346v12M957 675v6M826 614v8M760 376v6M1258 651v14M1565 502v14M909 816v12M988 736v6M954 402v12M1495 584v5M1563 429v10M937 183v12M1261 435v14M1137 848v8M862 720v5M1389 365v10M1299 694v6M1294 291v8M1476 526v12M1182 425v12M1326 746v14M928 430v10M980 913v5M1159 637v8M620 692v10M1418 555v10M1025 181v10M1633 504v14M810 233v8M1168 710v5M823 219v12M1308 458v14M1053 566v12M987 953v10M1686 609v10M570 557v14M1275 357v10M1916 657v5M919 739v6M1262 591v10M882 937v14M1678 521v14M925 744v5M1144 1059v14M1150 811v6M1269 309v10M1063 1058v12M1191 976v5M843 231v8M986 906v14M1169 754v14M813 281v14M899 487v12M658 613v8M1038 415v12M625 565v14M1018 641v10M886 803v12M910 871v8M913 812v14M978 330v14M1842 642v10M1129 710v6M1389 494v8M920 660v8M1094 450v10M1217 910v14M1639 492v8M833 456v10M626 804v12M1166 596v12M822 611v5M534 768v8M800 583v6M868 422v6M1341 635v10M802 701v14M744 592v5M1266 553v8M1223 481v14M931 332v10M994 750v14M902 264v5M829 317v8M964 1020v10M819 727v8M1002 831v10M729 435v12M971 295v6M1227 670v5M1027 689v12M700 311v5M1031 983v10M921 740v5M783 618v10M1713 542v10M806 260v12M981 567v6M995 489v8M1768 573v12M787 496v8M1679 507v12M1309 409v12M1243 624v12M1318 681v10M1591 455v12M954 284v6M1027 313v12M963 949v14M1093 1031v8M742 582v14M1122 676v10M1268 654v14M1400 457v8M1201 746v5M1374 646v12M1385 442v10M1097 1079v6M1025 530v6M1148 917v8M1089 681v8M1583 595v14M653 769v14M1040 1048v12M595 492v5M1499 511v8M1053 393v10M1555 507v14M779 766v14M1171 232v6M1072 201v12M976 175v10M547 480v6M795 678v14M616 577v6M496 623v6M669 472v14M1170 841v12M654 346v14M888 319v12M892 540v10M1351 379v12M1065 878v6M805 441v12M963 664v5M836 493v6M1648 569v14M904 439v5M1098 256v6M1104 853v8M1014 655v14M2036 713v14M590 513v6M1058 768v6M1339 377v8M505 648v14M1089 309v10M998 568v5M1128 1014v8M910 893v6M1050 267v12M457 669v10M835 371v8M726 680v8M847 372v14M1002 421v6M1376 631v12M935 423v14M1411 647v6M1193 382v8M1114 806v8M1369 537v10M1168 947v8M971 807v6M687 328v10M1071 277v12M1023 794v5M890 683v8M971 430v8M1158 332v8M592 555v12M1193 563v14M1696 509v8M1288 383v12M648 820v5M1054 263v10M677 621v14M1033 542v14M1376 678v8M1321 624v10M1370 505v6M1331 737v10M1568 439v5M1454 620v6M1465 558v6M1015 586v10M1373 424v5M1129 764v12M694 494v6M490 642v8M739 387v12M1372 561v10M1708 524v14M1024 640v10M1647 579v8M1236 360v12M1206 789v12M1161 354v8M445 655v6M1007 698v8M927 899v12M666 608v14M824 757v10M1249 764v8M1005 431v8M640 768v8M1384 668v12M1054 282v14M1065 247v14M742 863v6M1299 649v10M715 386v14M1293 614v5M1521 425v5M1414 386v12M746 616v14M764 626v6M1076 190v12M1166 541v6M1055 633v10M1175 400v10M888 775v14M1416 619v14M914 775v12M810 220v5M1354 520v10M1127 253v6M1033 874v14M941 581v5M1426 416v10M1298 737v5M931 1011v12M958 299v12M1082 1008v14M680 835v10M976 251v8M689 650v12M883 281v14M600 747v14M841 891v5M664 622v8M653 695v10M961 895v14M763 367v10M1381 562v6M1198 293v6M863 820v12M498 620v14M1760 517v5M674 440v6M1203 812v5M748 841v10M1490 499v8M1241 534v12M940 200v8M924 459v12M1161 770v6M1102 820v6M901 517v10M626 618v5M1022 611v12M774 248v12M949 960v10M992 993v14M1095 246v10M943 814v14M1797 613v8M679 676v8M1270 630v10M530 700v8M812 608v14M1355 498v6M601 746v12M741 551v12M827 832v10M856 842v6M1273 518v5M697 362v5M653 517v8M1302 654v12M734 426v6M1115 785v12M929 207v6M1133 232v5M921 917v8M1099 613v10M608 394v8M1193 305v14M1022 491v5M470 727v14M669 770v6M866 847v12M640 848v10M1968 727v5M701 393v12M709 292v14M1280 345v6M1179 508v10M993 883v10M789 403v12M1550 540v12M473 763v12M1616 511v5M858 843v6M1188 694v10M543 666v8M1155 227v10M1330 318v14M727 823v5M1566 530v12M757 480v12M1590 433v12M747 556v8M832 789v5M1292 583v14M1975 721v10M772 318v8M1974 677v10M1218 738v6M1025 533v5M852 760v12M1155 453v12M775 390v6M965 424v8M1094 915v10M1338 570v5M795 748v6M1464 552v10M791 422v14M1044 664v14M1231 659v8M1180 426v14M1348 422v10M1267 708v5M1072 705v12M736 508v5M902 449v12M1895 687v5M740 695v10M1382 479v10M1064 548v5M810 369v5M449 706v6M1137 787v5M647 559v10M727 557v14M1631 587v14M1399 414v8M471 735v6M1117 345v14M911 237v6M1368 334v12M1196 945v6M1099 666v10M959 447v12M1072 691v14M561 473v14M974 1012v8M1213 698v14M1134 881v5M945 414v14M570 790v8M1143 218v10M733 297v14M1464 641v10M1601 521v6M523 697v6M966 744v8M666 708v10M699 648v12M1047 916v14M1510 499v8M953 334v8M941 533v10M904 912v14M2010 737v8M1184 548v12M834 591v12M1444 414v8M1133 611v5M1196 744v8M1477 514v14M823 302v14M917 690v10M707 530v12M942 821v6M880 607v8M953 647v12M1130 1007v12M1130 689v6M972 321v14M909 785v12M2038 700v8M913 523v10M1021 483v6M649 771v8M1194 682v14M944 340v8M786 347v5M811 615v12M1060 952v14M1196 901v6M1168 550v10M1066 981v6M839 517v14M1353 401v5M1335 603v6M1142 1064v5M1059 718v8M519 547v8M1190 602v5M1173 261v12M1094 301v14M1075 839v10M751 359v10M1444 494v6M486 674v8M1246 886v12M766 658v10M955 586v8M984 749v6M1201 530v8M1336 348v12M1340 406v12M1661 510v12M573 752v10M1592 547v14M891 673v12M1064 569v5M1053 1067v8M1440 457v6M1316 636v14M1487 388v5M1147 1068v6M1663 601v12M1174 605v14M2000 737v8M1627 554v8M819 733v10M1960 692v6M871 622v10M1374 325v14M1903 652v14M814 683v6M2000 668v5M1787 628v14M1110 643v6M1244 523v14M1382 616v8M611 652v6M610 657v6M440 665v5M878 954v12M1105 848v6M855 486v10M602 839v8M879 300v6M1019 298v12M715 874v8M662 543v12M1087 267v10M1213 770v14M1318 692v5M579 736v14M907 908v5M1181 631v12M1340 353v5M1004 219v10M1062 589v10M882 413v12M1691 534v14M1061 965v10M1148 599v8M714 447v14M622 473v8M996 646v5M700 781v5M1343 619v10M1151 887v8M1148 403v14M784 468v6M1194 309v8M984 189v8M1466 406v12M1036 682v8M696 844v14M858 880v5M741 720v6M618 421v12M974 578v14M1142 698v10M884 355v6M481 621v5M1145 721v10M1368 324v8M1284 416v12M1155 598v14M945 639v8M1102 1043v8M830 915v8M872 557v12M1006 799v8M1478 466v14M1197 536v5M817 231v10M1117 1007v12M1844 620v10M855 676v8M1269 842v12M969 647v8M952 838v5M558 606v10M923 669v6M597 631v8M774 903v12M989 476v6M1105 512v6M1045 833v12M1778 589v12M1260 799v12M965 930v6M1614 450v12M608 775v14M1585 599v12M1793 608v12M936 843v5M1425 420v8M1124 990v5M767 381v8M1055 999v14M1352 569v5M692 737v12M801 653v5M593 651v8M900 359v5M842 652v14M727 404v8M627 724v14M1226 528v10M1081 494v6M1159 259v5M1122 462v8M591 562v12M1647 600v10M577 561v14M816 495v10M1187 568v5M700 352v10M1096 600v5M1394 409v5M1342 500v6M445 699v12M971 711v12M953 620v6M1862 631v10M676 629v8M1385 478v12M1013 839v14M993 751v12M849 334v14M1165 701v14M614 661v10M1540 461v14M1720 610v12M1243 739v8M1031 857v5M888 650v6M873 705v6M680 719v6M781 274v6M1352 417v10M1108 347v10M1069 401v5M1111 555v8M604 409v14M625 584v14M817 502v12M750 735v12M1097 414v12M971 778v5M413 730v12M1116 672v6M970 537v10M1938 671v5M695 335v5M1189 255v10M938 244v8M1340 664v8M1049 1032v5M1857 612v8M1112 523v8M1241 481v10M464 684v5M703 551v8M1022 466v6M975 767v10M944 648v5M623 520v12M1277 581v8M1019 400v10M1041 990v8M1350 366v10M994 961v10M1205 767v8M968 871v14M709 677v12M920 838v12M1322 565v10M733 565v10M1288 402v6M1003 316v12M1056 962v12M1244 395v8M736 516v6M703 427v8M1067 1076v14M564 514v6M903 922v14M1138 250v10M1209 807v14M1109 942v8M946 747v5M857 211v12M498 754v12M1339 475v14M1018 863v5M886 619v12M1238 555v10M648 608v12M1099 300v10M1924 703v5M1005 324v8M934 534v6M1177 253v12M1244 621v6M1172 512v12M513 731v5M1542 465v10M1236 264v14M611 526v8M799 449v5M841 584v6M1043 760v8M1161 463v6M1493 636v14M1444 376v6M1125 497v14M1208 771v12M1080 332v8M698 771v5M725 740v10M817 679v6M1215 521v12M1854 623v14M852 607v8M1074 820v10M1305 319v5M845 447v12M2029 735v8M796 753v5M796 724v6M460 711v6M996 990v12M651 616v8M961 915v6M821 352v6M1019 956v10M795 674v14M1455 392v5M1213 756v6M778 238v10M613 638v12M882 756v6M579 549v5M1073 971v8M819 699v14M924 425v14M723 848v5M799 594v10M1153 901v10M1251 279v12M1264 342v14M822 319v12M874 531v14M963 582v14M916 598v10M646 673v14M518 714v14M1793 555v5M1064 831v8M877 408v14M924 611v6M937 387v12M1010 599v5M829 352v10M1071 572v5M984 916v6M841 409v5M984 979v10M935 333v10M1529 411v6M1124 812v8M599 595v6M766 473v5M973 778v8M1690 594v14M1443 614v14M1474 460v8M970 590v14M763 640v10M1370 399v8M825 821v12M920 567v10M670 328v5M1032 467v14M1607 540v12M686 531v14M1157 700v6M1378 384v6M943 700v12M1834 630v10M1135 900v12M1359 622v5M1220 408v6M792 856v5M575 477v14M1218 496v6M1856 602v12M741 412v6M1212 706v14M1173 949v10M1045 684v12M1240 376v6M1524 582v8M1414 599v10M1687 575v14M884 283v12M935 207v6M818 362v6M910 409v6M1254 435v14M1882 610v6M895 323v8M1239 734v10M456 642v6M1340 756v14M993 429v6M1674 536v10M1279 742v8M860 490v14M1126 220v5M1054 594v10M1006 539v5M2007 694v14M756 727v5M1289 607v10M1131 952v6M1151 920v12M1418 538v10M1231 461v14M1016 996v5M972 755v5M1249 580v12M1203 889v12M714 868v5M909 652v6M768 685v5M903 550v10M675 765v5M807 502v12M1117 1067v10M2007 690v8M1373 352v10M824 604v12M978 855v6M511 603v12M739 902v14M1789 577v6M758 683v6M1053 459v10M528 662v5M1043 963v10M1191 633v12M1857 592v6M1280 347v10M1067 847v12M1533 533v10M1094 577v12M1019 890v14M1206 503v10M1064 185v5M726 308v6M692 871v14M1144 419v6M1181 420v8M799 719v12M1893 601v10M1895 613v8M892 473v10M2055 733v14M1269 359v5M547 784v10M1428 460v14M1185 838v6M910 608v12M650 410v14M904 219v6M619 792v5M705 544v14M1445 658v14M1772 558v10M865 574v8M770 537v8M1200 474v8M616 799v12M787 294v5M1136 946v14M586 565v5M909 618v5M605 594v10M764 509v8M1062 909v14M881 413v8M894 919v10M1394 682v10M921 798v10M1757 656v14M1095 996v12M715 712v5M1100 931v10M928 932v10M1339 364v6M1257 297v14M916 839v6M1277 579v5M517 625v5M993 627v14M1091 917v8M1068 195v10M1095 240v10M1023 1053v5M867 692v5M1594 508v6M819 490v6M1353 391v8M745 722v10M551 713v6M1079 801v14M1220 281v5M496 756v10M507 778v5M1563 615v14M1678 483v8M530 640v6M956 479v14M708 502v6M1070 231v6M817 675v12M957 896v6M589 727v6M1169 689v12M618 574v14M1410 534v14M1248 573v14M806 228v6M1597 478v10M1402 637v8M1123 886v14M1265 683v6M1046 736v6M1203 794v5M766 675v5M1191 245v5M985 370v5M1706 491v10M927 589v5M1073 892v8M742 311v5M474 732v12M547 606v5M1505 452v14M903 738v6M1079 455v10M1143 321v6M1386 532v6M803 477v6M1450 572v10M843 719v14M902 252v8M1019 855v6M830 674v8M634 616v6M974 383v8M979 852v5M567 712v5M906 364v5M1325 520v5M1206 866v6M1367 649v12M811 871v5M1454 472v14M1201 968v10M1079 443v6M1615 457v14M465 789v10M682 579v8M1033 770v10M1147 476v14M1325 393v8M957 639v12M945 706v5M962 724v10M1186 352v5M556 654v5M874 267v8M751 517v5M1256 785v10M1317 418v6M825 506v5M778 756v12M1420 655v8M559 507v6M816 750v6M482 727v6M1280 454v12M976 611v6M1098 381v14M1003 508v6M599 801v5M1172 763v12M985 696v5M1027 931v5M951 628v10M530 807v8M1460 369v12M1672 570v10M935 858v12M1151 382v8M871 676v12M2009 672v6M1101 671v6M1199 316v5M1022 1035v8M1438 592v10M1150 753v8M969 647v6M977 633v14M1150 439v8M1043 569v8M879 318v6M727 777v14M1111 264v10M852 266v5M619 566v8M1123 339v14M1122 998v12M577 549v12M1134 992v5M971 601v6M1011 263v6M752 872v6M819 624v5M924 687v5M661 457v14M1203 742v6M1099 800v5M962 903v8M1015 630v12M1135 261v14M934 641v10M1497 412v5M1216 378v12M709 339v12M1263 389v12M1021 496v5M1605 511v8M1069 1059v14M1152 675v12M716 433v14M1613 598v8M807 678v10M1879 692v5M632 804v6M815 584v5M1040 317v10M968 556v5M729 698v12M503 562v8M1404 412v6M1755 531v12M2047 715v5M1216 827v10M1452 420v5M473 656v5M941 701v12M1193 774v6M2032 746v12M839 678v6M780 739v8M985 603v6M848 494v10M1399 384v8M969 750v6M1217 829v5M1099 404v5M851 764v6M529 694v14M881 418v6M887 373v12M688 785v6M1068 943v5M1676 551v10M1273 352v12M1048 958v6M1223 743v6M1159 495v10M938 619v8M1321 672v6M2001 688v8M1334 364v12M1019 250v6M586 593v5M1741 622v6M827 739v14M1124 812v12M1112 532v5M661 677v5M602 784v10M1268 800v12M1048 998v14M1568 528v6M1488 608v5M1234 540v5M1181 514v6M1057 317v5M1633 469v10M1045 728v6M949 574v6M1231 672v12M1566 559v5M965 363v10M1040 189v10M1304 627v14M1153 1000v5M981 927v6M541 729v12M1020 832v8M667 522v10M1343 372v8M1254 619v8M1041 555v6M1534 429v8M910 190v8M1105 343v6M542 561v6M1855 624v6M904 454v10M532 537v8M1407 459v14M2014 681v6M996 816v14M881 819v5M1272 804v5M941 932v12M1284 590v6M1073 686v12M965 324v5M1126 263v12M1715 551v8M783 637v12M918 485v12M756 757v10M2031 719v6M1147 747v12M1111 546v6M865 561v5M1049 963v12M1298 380v10M1130 899v8M856 924v14M1102 942v14M1329 393v10M1241 412v5M1071 468v14M1056 868v12M957 355v14M999 657v14M756 595v8M659 547v14M492 750v6M989 841v8M770 713v5M972 863v14M1016 318v5M1735 583v10M577 757v10M883 757v6M996 620v14M834 890v8M1378 613v5M1024 820v6M575 670v10M1064 857v14M1330 408v10M1744 587v6M1043 1069v6M768 615v12M431 698v10M837 311v6M890 848v12M998 415v8M1191 450v12M1141 863v10M887 411v10M1637 461v14M1147 735v6M997 458v6M746 822v12M502 652v14M942 940v14M703 484v14M684 693v5M1023 557v10M881 719v8M1224 423v12M600 556v10M1070 309v5M561 758v6M704 551v10M1059 614v5M730 537v8M1284 499v8M1119 1070v10M817 708v5M953 725v8M558 798v5M583 648v14M888 605v5M695 510v12M1218 254v14M1568 587v12M990 839v5M1005 425v12M952 248v5M843 803v12M626 422v12M782 582v6M652 821v5M1399 341v14M1306 528v12M1894 632v14M763 898v8M743 287v8M1443 565v14M1084 833v6M794 777v10M1795 592v10M703 871v10M832 702v12M796 537v10M750 723v6M1375 455v12M669 679v6M975 838v12M1237 734v5M995 796v5M1492 427v6M496 682v12M1742 554v5M689 862v10M777 831v14M554 752v10M1451 590v6M738 849v12M646 446v14M807 668v5M959 804v5M912 572v5M965 420v6M774 780v12M1351 390v5M1094 263v10M1165 673v6M802 547v10M1387 583v14M768 679v5M1906 646v14M1384 545v8M1043 769v10M1256 793v5M567 816v6M687 512v14M578 802v8M947 831v12M574 726v8M527 672v10M578 552v5M1713 631v10M1061 795v8M800 486v12M862 954v12M1224 742v5M1420 554v10" stroke="#2c9cff" stroke-width="4" stroke-opacity="0.55"/>
<path d="M1969 651v18M2040 718v33M1707 547v47M1885 680v46M1825 581v30M1941 662v34M1905 596v43M2005 689v49M1620 457v33M1660 559v39M1650 534v46M1954 729v20M1996 718v21M1810 632v22M1537 418v44M1994 663v38M1881 594v18M1685 483v19M1722 613v26M1999 697v29M2006 678v17M1814 634v39M1621 593v40M1872 650v47M1817 619v42M1767 622v14M1885 680v18M1513 547v22M1629 556v31M1597 587v45M1546 584v46M1954 637v35M2057 720v46M1924 638v22M1610 480v46M1871 675v23M1831 595v49M1939 717v33M1824 644v31M1800 553v45M1886 603v28M1869 651v25M1591 602v14M1690 609v48M1819 571v15M1742 561v44M1918 675v50M1846 591v41M2030 711v47M1887 628v15M1750 512v21M1744 643v48M1722 570v40M1744 507v26M1477 431v25M1716 512v27M1584 578v23M2041 728v48M1974 646v21M1979 649v32M1759 627v50M1546 534v18M1694 547v48M1621 491v17M1851 636v30M1765 631v30M1876 576v22M2001 674v44M1889 673v45M2055 748v29M1992 721v21M2010 680v31M1754 655v21M1558 605v49M2009 731v35M1592 530v24M1758 595v30M1838 585v15M1739 627v30M1619 580v19M1541 618v26M1522 565v44M2037 696v49M1767 637v45M1614 480v26M1798 544v50M1594 576v17M1693 594v25M2016 735v38M1884 606v16M1689 542v47M1550 579v21M1618 499v44M1861 678v50" stroke="#3ea4ff" stroke-width="3" stroke-opacity="0.55"/>
<path d="M1457 412v34M1568 514v37M1899 601v24M1924 644v23M1758 539v28M1784 649v42M1960 704v19M1533 489v46M1574 476v19M1517 487v22M1690 535v33M1962 734v21M1639 467v46M1655 531v18M1619 469v34M1835 594v39M1935 627v29M2059 749v41M2018 715v45M1937 677v32M1719 498v47M2011 682v15M1670 478v31M1752 569v47M1779 653v30M1852 655v41M1529 491v23M1506 449v23M1971 681v17M1712 495v20M1705 620v39M1503 448v21M1859 633v41M1570 496v48M2022 745v36M1914 640v15M1772 578v48M1943 690v35M1815 541v16M1606 467v22M1803 637v42M1522 489v17M1795 607v45M1790 583v27M1890 627v25M1867 656v37M1760 641v23M1653 574v25M2045 703v30M2048 725v50M1826 583v24M1736 634v48M1587 467v25M1865 593v50M1712 493v28M1739 584v48M1733 607v27M1750 655v25M1502 533v44M1899 677v19M1757 635v22M1778 651v46M1763 607v43M1783 592v44M1782 642v34M2032 722v47M1898 637v14M1905 629v37M1804 596v19M1826 607v39M1970 639v50M1954 680v44M1801 640v17M1830 579v21M1581 497v42M1766 571v38M1724 584v21M1506 510v25M1909 646v16M1890 604v18M1536 413v32M1781 557v40M1718 542v33M1591 512v46M1882 594v30M1907 625v16M1760 665v44M1938 721v16M1576 613v38M1835 552v41M1587 522v50M1849 606v26M1792 630v18M2004 705v35M1866 561v20M1767 645v21M1689 543v34M1863 578v27" stroke="#3ea4ff" stroke-width="2.5" stroke-opacity="0.55"/>
<path d="M1780 606v25M1753 520v47M1761 561v48M1914 619v48M1780 579v49M1824 659v45M2004 716v46M1852 566v49M1952 728v49M1646 549v17M1546 585v20M2061 732v45M1695 484v29M1688 551v16M1759 594v47M1767 558v45M2041 699v34M1782 526v24M1939 693v16M1642 567v33M1667 552v32M1807 542v48M1752 659v33M1594 503v48M1814 544v30M1679 544v15M1809 608v15M1751 511v36M1841 622v50M1967 687v26M1839 625v30M1759 528v27M1671 565v25M1885 636v24M1924 693v28M1766 638v28M1758 643v16M1548 599v44M1969 653v33M1848 672v32M1786 647v50M1566 484v37M1752 554v50M1795 539v28M1821 572v47M1690 618v22M1754 664v36M1916 623v43M1938 649v28M1507 415v33M1879 656v16M1889 591v14M1488 547v39M1683 573v40M1849 566v36M2036 736v48M1654 574v29M1649 559v41M1563 496v48M1782 596v27M1961 643v32M1705 538v28M1858 565v48M1751 603v42M1734 592v19M1737 509v39M1808 628v28M1478 428v36M1946 625v45M1668 524v21M1564 600v24M1683 548v22M1767 555v34M1976 646v37M1622 569v38M1700 492v43M1831 562v31M1811 613v33M1660 488v21M1734 507v37M1985 745v30M1506 583v19M1738 641v21M1872 614v47M1889 679v44M1926 615v36M2067 751v25M1673 546v32M1855 640v39M1731 543v32M2001 672v42M1857 593v34M1861 618v28M1887 674v30M1973 697v18M1597 520v24M1637 460v21M1667 561v16" stroke="#3ea4ff" stroke-width="3.5" stroke-opacity="0.55"/>
<path d="M1016 216v8M1573 529v8M1161 283v4M1105 400v4M1414 442v6M1091 355v5M1308 462v5M1209 292v3M1139 354v8M1254 279v3M1011 365v3M1311 386v3M997 380v5M897 252v6M1589 527v4M1340 403v6M1569 519v5M1309 451v5M863 212v6M1145 270v3M1516 453v4M1393 585v3M1228 464v5M871 276v4M1481 392v4M1528 545v5M1246 303v5M949 238v6M1369 489v4M1068 229v6M1204 449v4M1212 356v6M955 252v3M1032 255v4M1081 347v8M1492 515v4M1101 384v3M1158 255v4M1419 404v6M1380 444v3M977 205v6M944 273v6M1192 462v8M1520 555v6M1352 423v6M1350 444v3M843 291v6M1542 474v8M1381 487v3M1606 468v6M1185 362v5M1095 251v5M1248 284v5M1097 326v5M1426 508v5M1180 437v6M1004 225v4M1525 555v3M1377 559v5M1359 471v3M1269 354v3M1587 545v8M1300 328v5M1717 600v6M1390 547v3M1447 562v5M1011 199v3M1240 397v4M1685 521v5M1621 537v3M1016 340v6M1440 455v3M1056 220v4M1189 277v6M1022 180v4M1649 565v5M1296 554v3M1318 370v6M1048 185v4M994 358v4M1047 432v6M1409 429v4M1040 208v4M1410 378v5M1178 289v5M1257 295v6M1213 424v8M1656 497v5M1226 370v4M1075 193v5M1534 433v5M1069 364v5M1089 439v4M1313 464v4M1676 522v3M1340 384v5M1209 408v5M1227 495v8M984 254v8M981 200v5M928 232v4M1059 332v5M1205 249v6M988 300v4M1550 549v5M930 281v8M1595 569v4M1696 600v3M920 341v8M1407 355v8M1409 415v4M1561 582v6M1028 254v5M1724 590v4M1062 197v4M1546 591v3M1497 632v4M1176 392v6M1002 262v4M1102 396v8M1525 479v4M1227 348v6M1413 423v8M1620 551v4M1270 445v3M1154 300v5M1652 499v4M1330 358v3M1345 448v6M1027 229v6M878 264v5M1350 500v4M1354 510v5M1344 501v6M1151 381v6M1545 479v3M1557 555v8M1490 454v3" stroke="#22c45a" stroke-width="3" stroke-opacity="0.75"/>
<path d="M1558 512v3M1563 474v8M896 276v8M1060 190v3M1049 183v4M1482 453v4M1682 488v6M1357 511v3M1064 347v4M1285 364v4M1310 428v4M1144 423v8M1356 497v5M1661 516v6M1440 583v4M893 222v6M1294 481v5M862 303v6M977 325v5M1508 474v6M1535 482v8M1473 552v5M1375 550v3M977 181v5M1309 511v4M1489 476v4M1035 336v5M1096 245v3M939 260v5M1409 570v5M1120 390v5M1053 287v8M1043 225v6M1588 581v6M1145 402v3M1300 451v6M1211 291v6M1124 413v8M1140 416v4M1575 515v6M1418 541v6M1040 197v3M901 263v6M1496 440v3M1081 311v6M1489 468v5M1426 504v6M1502 421v3M1215 483v8M1430 570v3M1365 415v3M1272 368v8M1386 355v3M961 293v8M1660 516v3M1628 576v6M1032 315v3M1074 232v3M1074 276v4M1687 604v4M1378 459v3M1606 502v5M1168 496v4M825 218v6M1375 537v6M1037 219v3M1397 388v8M1620 484v8M1409 398v5M1213 271v8M913 302v4M1042 351v8M1370 468v4M1305 418v4M1359 352v5M1001 351v8M1043 382v5M834 209v4M1539 507v5M1582 466v4M1478 490v3M1559 446v5M1390 557v3M1237 359v6M1040 367v8M1164 338v6M862 205v8M1417 405v8M1548 559v5M1499 483v6M1600 541v8M811 279v8M1135 342v6M925 297v3M1500 502v8M1081 213v6M1209 395v8M1057 342v6M922 288v8M1637 514v4M1319 380v3M1615 478v4M973 299v6M1351 498v8M807 255v4M921 350v6M1075 318v5M1556 526v3M1443 593v6M897 206v3M1637 500v3M1704 568v5M1550 436v5M1525 578v8M1114 324v8M1424 568v5M1250 359v8M990 296v8M1166 337v6M1591 559v4M951 215v3M1015 211v4M938 273v4" stroke="#18c080" stroke-width="4" stroke-opacity="0.75"/>
<path d="M1261 305v6M1134 213v5M1603 503v3M802 225v4M837 243v3M1262 425v8M1268 388v8M1643 539v4M999 230v3M1492 456v8M1125 233v8M1222 407v6M1217 395v5M1069 370v3M1538 541v6M1182 368v5M1592 498v3M918 209v4M1634 473v6M1485 452v3M1169 408v3M1382 451v4M1453 520v6M1228 302v5M1401 477v6M1585 583v4M1079 245v6M891 204v5M1277 397v5M1492 442v8M1484 633v8M1725 504v3M919 202v3M1299 302v4M1588 512v3M1451 492v4M846 220v6M1033 400v5M1610 524v6M930 255v4M1067 203v8M968 289v5M1492 409v3M1187 337v5M1573 495v8M1151 460v8M1431 370v4M1316 526v3M1080 268v4M1510 540v5M1522 541v6M1564 442v6M1655 599v6M1624 547v6M1326 412v4M1702 624v3M1503 472v8M966 301v3M891 182v3M1047 373v3M1223 348v3M1416 492v5M1548 542v8M1094 202v4M1474 554v4M989 195v3M1407 439v5M1306 496v8M1360 414v3M1599 485v3M1185 319v4M1500 502v8M1084 234v4M1742 600v5M1402 430v3M1202 398v3M1676 570v5M1173 391v4M1509 530v8M1073 285v3M1277 336v3M1305 515v8M1187 369v4M1357 360v4M1537 539v6M1614 574v5M785 238v5M1271 465v5M937 220v5M1439 441v3M1342 491v5M1668 532v4M1526 458v5M954 361v3M1286 458v6M1252 522v3M950 269v4M1449 470v8M967 200v6M1438 486v3M1430 374v5M1632 553v3M1416 605v8M1549 615v8M1261 325v6M1146 373v3M1032 188v6M1622 578v4M1379 465v4M1173 416v3M1303 376v4M982 362v3M1363 414v3M1143 368v3M1697 538v3M1473 614v8M1499 499v6M979 289v6M1134 431v4M977 203v3M1713 549v4M1481 568v8M1047 333v8M1270 410v8M1444 529v4M1414 488v8M1469 504v3M1314 462v3M1564 537v3M843 300v4M1451 384v4M873 204v6" stroke="#22c45a" stroke-width="4" stroke-opacity="0.75"/>
<path d="M931 243v8M1607 529v5M1625 589v5M1485 489v8M1009 217v5M1222 316v4M1251 497v4M1362 417v4M1339 559v8M983 293v3M1346 404v4M1423 505v5M892 296v3M1245 485v8M1180 228v4M962 319v4M932 263v6M1679 504v8M1572 520v8M1520 625v5M1677 529v4M951 340v6M1136 249v6M1595 448v8M1406 622v5M1568 461v6M1309 515v8M876 283v5M1731 528v6M1174 382v4M1401 472v4M1325 429v4M1055 431v3M1357 484v8M1321 431v4M1753 527v8M1263 384v6M1397 555v5M1537 500v4M1624 498v3M1156 270v3M960 259v3M1644 496v6M1306 523v6M981 230v4M1048 399v4M979 272v8M1545 607v5M930 271v8M959 268v4M976 345v4M946 247v4M1604 552v3M1697 500v5M1296 432v3M1499 421v3M955 192v5M1642 470v6M949 278v6M1587 537v4M1513 602v6M1560 522v6M956 200v8M1502 488v4M1203 274v3M1064 336v5M1098 403v4M1029 332v3M1680 604v5M1478 453v4M1095 356v6M1009 353v6M1653 510v5M1236 342v4M1470 491v8M1116 271v4M1433 381v5M1122 319v6M1500 522v4M918 262v3M1143 466v6M1129 338v6M1186 368v6M1514 441v4M1612 460v6M868 318v6M1216 340v5M1375 498v3M1193 290v8M1448 512v6M889 339v5M993 309v3M1227 342v3M989 220v6M1572 540v4M1162 331v4M766 246v4M1294 381v3M1424 469v3M1244 503v8M930 229v5M1378 407v4M1434 510v5M1155 394v5M1204 382v4M1319 335v3M1090 217v3M965 218v3M1496 593v5M1486 576v8M1088 330v4M1292 491v4M1339 573v4M868 246v5M1631 591v4M1433 494v8M1127 343v8M1686 574v6M1164 326v8M1270 280v8M1319 492v6M1070 297v6M1256 405v5M1427 606v6M1702 556v8M1275 368v6M1412 475v6M1036 350v8M1111 235v4M1201 384v4M1118 257v5M1179 292v6M1065 253v8M1432 537v6M1174 354v4M920 280v3M1107 251v8M1522 566v5M1321 473v5M805 314v6M1463 392v4M1031 374v5" stroke="#18c080" stroke-width="2.5" stroke-opacity="0.75"/>
<path d="M1030 350v6M1085 282v8M1547 564v3M1005 299v8M1421 487v4M1190 290v8M1071 238v6M1317 441v5M1041 305v4M1338 312v6M1072 254v8M981 249v5M1447 550v6M1035 212v4M1521 471v6M1189 338v6M929 287v6M1364 580v4M1118 265v6M1336 532v8M1134 239v5M1044 387v4M1598 560v6M1033 177v4M847 213v3M1217 413v8M1742 607v4M1377 474v5M864 272v4M1106 344v4M1271 362v6M1324 350v4M1478 432v8M1170 293v3M1333 404v4M1297 388v4M1277 432v3M1052 357v5M1546 429v4M1384 447v5M1113 431v5M1196 354v4M1188 342v4M1076 363v5M1327 347v4M1533 449v5M1165 374v3M1190 291v6M849 303v4M1590 437v8M1311 348v5M1469 464v3M1212 314v8M1150 394v3M855 214v4M927 289v8M1308 419v5M765 279v3M1160 427v5M1121 291v4M1438 413v5M831 237v8M1555 534v3M1006 217v4M1212 498v4M1446 554v5M1057 426v4M1579 560v5M1085 382v5M890 220v4M960 279v6M968 278v5M918 208v3M1664 505v6M839 234v3M935 198v8M1324 534v3M1541 543v6M1387 414v5M1215 369v3M1222 403v6M1364 522v5M1379 397v8M1500 533v6M1354 381v8M1035 430v5M826 207v8M879 219v3M911 321v8M1074 309v3M1346 533v5M1250 377v3M1281 454v5M1141 436v4M1250 279v5M1503 426v8M1223 495v3M1278 360v5M1586 564v5M1643 563v4M1220 505v4M918 203v4M1647 553v4M1232 449v4M1005 206v3M1231 393v3M1563 506v6M1071 328v6M1318 353v3M1347 478v4M1169 304v4M1426 542v8M1103 339v4M1519 405v3M1306 472v8M908 229v6M825 206v3M1400 387v8M1350 421v6M1183 312v5M1441 472v6M1062 242v6M882 206v4M1352 521v8M1180 370v3M1648 599v6M766 279v3M1542 489v8M893 255v3M1268 338v3M1030 319v3M829 218v8M1479 413v4M1233 317v5M1494 595v3M907 321v8M1191 390v6M1454 503v6M1236 527v3M1323 409v4M1051 344v3M1249 400v3M1383 366v8M1564 473v3M1312 304v4M1290 340v6M1320 344v6M1370 443v8M1328 488v3" stroke="#22c45a" stroke-width="2.5" stroke-opacity="0.75"/>
<path d="M1320 298v8M1224 257v6M1087 203v6M1044 289v3M1288 317v3M1676 520v3M1169 246v4M970 323v8M1481 505v4M1335 339v5M1396 416v6M1266 280v8M1228 500v3M1585 607v3M1633 472v3M1146 337v8M1273 386v8M1228 472v8M848 201v8M1252 408v6M1648 529v5M1073 286v5M1030 384v6M1291 323v6M1538 613v4M1666 593v6M1487 524v3M1729 594v8M1641 503v5M1619 529v5M815 244v5M1524 438v3M1356 334v5M1648 567v6M1602 545v5M1666 511v3M1417 504v4M1603 581v5M1352 471v5M1532 573v3M1173 348v6M1070 316v5M1575 505v4M960 335v3M1064 221v4M1179 239v4M927 247v4M1471 591v6M994 283v5M1253 279v6M958 345v3M1467 417v4M1239 449v3M1201 421v8M1231 478v4M1571 588v4M1245 442v5M1027 207v6M944 192v8M1010 225v8M1126 276v3M1517 534v6M1470 592v4M1409 463v5M934 385v8M1219 500v4M911 238v3M1234 357v5M1570 510v6M1367 332v6M1196 475v8M991 273v4M869 287v6M1258 536v4M1247 443v4M1666 594v8M1646 484v3M1390 446v5M1194 273v3M1589 569v6M1207 312v3M1123 281v6M1251 419v6M1604 526v3M1316 512v5M1105 238v3M1134 341v3M1078 334v6M1573 588v4M1608 500v4M872 243v5M1491 580v4M1286 429v5M985 377v5M1391 553v3M1686 505v4M1537 614v5M1445 369v3M1339 568v5M1327 489v6M1204 514v6M1220 411v5M1013 265v3M1355 433v3M1330 378v3M1016 235v4M1353 449v4M1022 320v4M1048 397v8M1035 228v5M1433 518v8M1163 360v3M1564 499v8M1117 420v4M1217 344v8M1345 339v3M1008 327v4M920 245v8M1071 255v4M1144 267v3M1283 400v6M1107 250v6M1036 401v6M863 193v5M1373 446v6M901 304v4M1419 528v6M953 252v8M1181 409v4" stroke="#18c080" stroke-width="3" stroke-opacity="0.75"/>
<path d="M1047 292v8M1054 250v3M1432 436v6M1366 489v3M1604 542v5M1498 412v5M1217 381v5M1719 583v6M991 267v3M1011 290v6M1324 442v4M1156 397v8M1280 453v5M1304 396v6M970 183v8M1600 593v5M1477 490v3M861 286v6M1426 400v4M1718 561v4M1435 473v6M1252 376v6M1623 576v6M1301 300v6M1032 329v5M1293 303v5M957 347v5M903 199v6M1183 353v5M1442 546v4M1385 491v6M907 190v5M1255 396v4M1334 353v8M1462 473v6M1315 369v5M964 397v4M1022 243v6M1390 496v4M1159 251v4M1527 453v5M1152 230v8M1569 582v3M1134 219v8M861 211v3M1090 323v4M1125 273v4M1222 340v4M934 325v8M1000 247v8M1477 527v4M990 201v4M857 213v8M1441 439v3M1050 187v3M998 344v4M1563 445v8M1534 598v4M1135 285v4M1046 191v8M1332 419v8M1636 561v8M1152 283v3M1296 406v4M1390 420v5M1600 567v8M955 200v6M1211 338v3M1498 622v3M1645 564v3M1588 569v8M1077 353v4M1029 222v4M1268 512v6M793 249v8M978 273v4M1187 346v3M1009 237v8M1564 506v4M1312 442v6M1145 375v8M1202 444v4M978 252v4M910 274v4M1125 319v5M1220 385v6M1463 547v4M892 305v8M1609 606v4M1512 502v6M1331 336v4M864 224v5M1033 304v4M1607 520v8M985 182v3M1088 371v3M1331 403v4M1202 369v5M1667 501v6M1614 446v3M1419 383v8M1215 465v4M1067 217v8M1102 344v3M956 286v4M1386 446v6M1586 449v5M937 194v8M1163 333v6M1400 338v6M1320 499v4M1373 509v8M966 189v8M965 246v8M1207 255v4M1418 471v4M1008 281v8M1627 482v6M1285 435v5M1439 477v6M1087 365v6M1592 511v5M1138 349v6M1585 577v3M1048 229v5M876 294v6M869 282v3M1426 461v5" stroke="#10c4d8" stroke-width="3" stroke-opacity="0.7"/>
<path d="M1476 536v8M1604 541v6M1424 475v5M1339 444v4M923 186v3M1154 251v5M1284 446v8M1101 342v6M1439 497v8M987 267v3M982 245v3M1647 535v6M1049 277v3M1257 431v5M1043 328v8M1186 430v4M1456 403v6M1361 405v5M1135 320v8M897 362v8M1570 551v5M1625 588v6M770 247v4M1440 555v5M1123 289v5M1285 354v5M1187 345v3M1156 339v8M1513 614v6M1194 433v6M1386 412v3M1379 499v4M1410 469v4M1168 323v8M1506 497v4M1115 354v5M1569 547v6M898 261v4M1121 324v4M953 374v4M951 211v3M1360 559v5M1083 224v4M1595 527v6M1305 442v4M1380 363v4M1704 615v4M1065 306v5M1674 579v8M1324 399v6M1036 307v3M804 273v6M1300 532v8M1609 456v4M1008 304v8M1707 541v4M1160 311v6M1665 514v6M831 238v3M1637 516v8M1591 452v8M1048 266v5M1565 491v4M1319 488v3M1353 576v3M1507 469v4M1119 259v3M1494 508v8M1282 468v6M1092 221v4M1237 454v6M1309 373v8M1108 261v4M1477 623v3M1591 524v8M1578 551v4M1342 375v5M1179 359v3M822 262v8M1371 507v8M1629 497v8M1145 450v5M1489 617v5M1371 551v8M1073 379v6M1626 548v3M967 273v3M915 200v3M1637 465v4M1292 400v3M1263 307v3M1531 558v4M1071 245v6M1261 341v5M1668 515v3M1280 319v8M1363 565v8M1222 489v3M1059 257v8M1203 431v8M1170 287v4M970 311v6M1108 315v4M885 196v6M1516 440v5M1326 484v3M1394 536v5M1338 366v4M1637 504v4M1516 582v8M1270 434v8M1178 238v4M926 222v3M1141 315v8M1423 475v8M1260 304v4M1463 516v8M1357 396v8M1661 520v3M976 398v6M1261 340v5M1473 549v8M1032 256v4M870 310v3M868 226v6M1590 548v4M1534 499v4M1032 192v4M1430 478v8M1113 251v4M1389 515v5M1406 436v5M1040 406v4M1572 506v4M982 335v5M1331 389v5M1116 356v4M1586 569v8M1064 202v4M1415 394v3M1466 551v8M932 308v4M1051 352v8M1376 414v6M1019 208v5M957 311v3M1335 408v4M1632 604v6M1379 466v3M1434 358v8M1211 390v5M1246 397v8M1277 342v5M910 279v8M821 218v6M1626 558v4M1512 423v4M1146 387v3M1146 418v5M1651 537v8M1489 546v6M1415 471v5M937 186v8M1471 589v5M998 275v6M1426 427v3M1287 339v6M942 343v6M1059 251v5M871 224v5M1136 291v3M1581 514v4M1362 492v4M1201 259v8M1282 529v6M1032 280v3M1196 256v8M971 187v4M1520 457v4M1040 295v3M1127 343v3M1036 243v3M1449 441v4M900 190v4M947 266v8M1529 530v4M1290 511v4M1091 303v3M1349 472v3M1459 536v3M1257 378v5M979 254v8M1039 241v4M1298 411v3M1188 458v6M1308 459v4M1061 263v4M1584 463v4M1327 445v5" stroke="#0a86ff" stroke-width="2.5" stroke-opacity="0.75"/>
<path d="M1312 543v3M1342 401v4M1623 598v5M1163 347v8M1508 523v3M1359 512v3M1380 355v6M1281 367v3M934 259v4M1186 415v5M1089 246v3M993 361v8M1283 504v4M1598 542v6M1183 247v5M1016 281v5M1069 246v4M1479 528v3M1540 490v6M1741 510v6M1688 594v8M927 321v3M1302 362v5M1017 327v3M1713 556v5M1031 365v8M1012 256v3M1103 283v8M1209 263v6M1633 603v4M1501 564v4M1389 475v5M1032 208v6M1559 582v8M1167 300v3M769 245v3M1021 211v5M977 316v5M1457 423v4M899 351v5M1374 595v8M1458 507v4M1085 225v8M1515 540v3M926 260v4M1354 423v8M1528 496v6M1479 628v3M1186 335v5M955 257v8M1556 547v6M815 289v5M1136 406v3M1521 498v4M1265 405v4M1140 334v4M1048 253v6M1022 197v3M1099 270v3M1076 215v5M1463 412v8M1022 229v3M1600 573v3M1445 414v8M1419 492v3M1210 279v6M1524 527v3M1632 554v4M1311 321v8M981 229v5M1178 451v6M1152 291v3M983 295v4M1459 555v3M1248 286v5M1535 516v6M1043 286v6M1492 545v8M1253 442v3M1456 563v8M1617 463v4M1019 253v4M1609 549v4M1317 366v5M1267 311v5M977 261v3M1355 343v3M1301 390v4M1437 419v8M866 269v3M984 414v8M923 180v6M1453 412v6M1557 542v6M998 297v3M1489 626v5M1405 509v5M940 227v6M1103 293v5M857 279v4M1372 489v8M1541 527v5M1040 431v5M1029 313v6M1267 330v4M1288 434v6M1324 373v6M1312 406v6M1118 306v5M1511 448v5M1160 386v8M1552 458v8M1215 417v5M1018 244v5M959 232v6M1209 321v4M1239 322v4M1348 499v8M1614 510v6M1445 545v8M1504 548v5M1029 367v5M1182 392v5" stroke="#18d0d0" stroke-width="4" stroke-opacity="0.7"/>
<path d="M977 232v5M1285 373v3M1167 299v6M1187 288v3M1353 442v5M1038 239v6M1259 351v3M1221 501v4M1199 326v8M1316 410v3M802 255v5M1415 521v8M1443 546v3M980 305v5M1171 421v6M1019 406v8M1684 546v8M1328 344v5M915 193v4M1003 359v8M1051 224v6M1122 363v3M1327 538v6M1147 284v4M937 329v4M1249 276v6M1585 572v4M1271 370v4M903 302v6M1284 548v8M1639 540v6M856 214v4M1420 453v8M1411 470v6M1643 583v5M1667 513v6M1269 489v6M1190 326v5M1398 403v5M1136 428v3M1000 280v6M1051 221v3M1390 416v5M895 314v6M1353 525v8M834 246v5M1193 277v5M1222 489v4M1018 357v8M1207 455v4M1251 516v8M1072 364v3M1113 212v4M1236 442v5M1024 185v3M1316 427v5M1323 467v4M1347 452v8M1418 525v5M1424 597v4M963 236v8M1654 555v3M1350 494v8M799 234v6M1065 316v8M1401 396v6M1201 298v8M1074 365v3M1222 420v5M1376 436v4M1600 527v3M917 228v4M1194 369v6M1305 355v4M1134 371v4M1516 581v3M1395 510v5M1457 422v8M979 190v3M1139 315v8M1018 369v6M1601 480v3M1718 598v4M1695 614v3M1563 484v8M1429 464v4M1533 585v8M1187 441v4M1287 509v3M1533 533v8M1348 466v3M1017 286v8M1490 425v4M1240 312v5M1377 480v3M1551 586v5M1485 406v4M1580 489v3M1413 487v5M1344 497v5M1530 553v4M1049 348v6M1234 320v8M891 333v5M1573 529v6M784 257v6M1187 505v5M1006 259v3M1142 244v3M858 197v3M828 260v6M785 295v8M1172 310v5M1394 452v4M1640 553v5M1371 463v5M1527 523v5M823 243v4M1189 453v6M906 314v3M1489 457v5M1213 399v6M1038 278v8M1447 579v8M1482 597v4M1081 186v3M1530 505v8M1474 480v8M1613 557v3M1344 432v6" stroke="#30c86e" stroke-width="3" stroke-opacity="0.75"/>
<path d="M958 210v5M814 241v3M1582 533v6M1001 259v3M1385 387v6M1032 258v5M1091 400v3M988 221v6M1641 581v3M873 206v8M991 338v5M1306 580v8M925 230v6M1119 373v4M860 282v4M1186 353v4M1431 469v6M1130 377v6M1273 403v6M1387 543v3M1349 401v3M965 330v3M1134 371v4M1560 445v4M1210 359v4M1683 502v5M1164 233v6M888 277v6M1518 452v8M1068 286v6M1451 601v4M987 359v4M864 304v8M1068 208v3M1442 441v5M1456 617v6M1484 557v8M1222 335v3M1041 314v8M1693 576v6M858 305v3M1489 443v4M1372 329v6M1095 201v4M1525 572v6M1627 573v3M1484 550v5M1213 468v4M1545 557v3M957 393v5M1171 469v8M1063 254v8M1425 391v6M903 189v8M1601 507v6M1483 431v6M1298 397v4M851 305v3M1534 575v5M1463 522v8M1546 479v3M1522 491v8M908 254v8M1490 524v5M949 284v3M1191 361v5M1577 543v3M1443 386v4M1659 603v6M1147 296v4M1684 598v6M1540 587v6M864 259v3M900 241v8M1042 290v4M1263 374v5M1167 320v4M926 183v8M1405 370v8M906 318v4M1285 405v6M1570 594v3M1514 547v6M1460 597v3M1302 506v3M1426 550v8M1237 321v8M1052 242v5M933 236v5M1653 546v6M1230 336v8M925 220v3M1295 303v8M1282 535v3M1473 602v6M1420 468v3M1497 520v4M1481 535v8M1402 463v5M998 302v3M1020 420v4M976 184v6M1082 196v8M1239 500v8M1605 547v3M1563 581v3M1069 321v5M1335 450v5M1256 265v5M1311 370v5M1367 517v6M989 257v6M1014 252v4M972 328v5M1174 414v5M1529 565v3M1441 381v6M1350 557v5M923 301v8M1018 224v4M1109 199v4M1146 263v8M1494 392v4M1576 569v8M1063 251v5M997 293v6M1565 542v4M1141 361v4" stroke="#30c86e" stroke-width="2.5" stroke-opacity="0.75"/>
<path d="M1044 261l5 6M1205 366l7 8M1298 373l7 3M974 178l5 6M1430 410l7 8M1166 286l-3 3M1309 364l-3 5M1190 321l3 4M895 182l-3 8M1365 418l5 8M948 238l-5 4M1607 499l-3 4M1223 450l3 4M1493 457l-3 4M1182 351l-3 3M1170 306l-5 5M1066 212l-3 6M917 216l-3 5M1448 415l-5 5M915 237l3 8M1647 551l5 8M1456 426l-5 3M1477 507l7 6M1070 354l-5 3M1300 347l-5 4M1659 586l7 6M1299 467l5 6M1162 310l5 3M1206 335l3 4M1054 202l-3 5M1067 219l-5 6M1389 494l5 5M853 223l5 8M847 204l-3 6M1571 494l5 8M1021 261l7 3" stroke="#e0c220" stroke-width="2.4" stroke-opacity="0.85"/>
<path d="M1312 473v6M937 305v8M1016 231v8M811 216v6M997 251v3M1281 478v3M1160 266v3M1592 575v5M1391 513v5M1292 473v3M1409 453v8M1352 393v8M1323 508v3M1095 243v3M1160 365v8M1340 430v8M1206 440v5M1569 437v3M967 228v6M1434 412v6M1289 353v5M1462 450v3M942 293v8M1636 505v6M1019 315v4M873 221v6M1096 226v5M1268 385v4M1178 358v8M1345 505v6M973 222v4M1298 412v6M874 248v6M1237 281v3M1344 345v8M1444 474v8M1264 442v5M1299 548v4M1489 540v6M1155 342v8M776 247v4M869 252v5M1001 243v4M1426 468v6M1240 278v5M1492 471v3M1267 432v6M1266 412v8M1193 280v5M1396 429v8M1434 606v3M1515 565v4M1609 557v5M923 255v3M1471 429v8M1150 311v4M1042 266v8M1476 542v5M900 193v6M1085 376v5M1009 300v3M1281 467v8M1029 314v8M907 372v4M1194 330v8M1141 247v8M1514 510v5M1279 516v5M1076 252v3M1447 467v4M1237 488v3M988 265v6M1325 405v4M1592 565v4M962 309v5M1253 487v4M906 329v6M1087 244v4M1442 519v3M1381 510v5M1140 220v8M1310 391v5M1482 467v4M1434 497v4M1386 404v8M1331 563v5M1257 287v3M834 210v8M1243 305v6M1329 427v8M1202 415v8M1218 449v6M1688 576v8M1218 411v8M1212 338v5M837 244v3M1359 410v6M1364 385v8M1225 460v4M1265 542v8M1114 373v8M1028 307v8M1023 343v3M1112 379v3M1465 568v8M1565 589v6M1571 457v6M1449 506v5M958 180v3M1441 575v4M1385 451v5M1439 446v4M1188 355v5M1288 356v6M1196 413v5M1514 448v4M1062 278v4M1543 529v8M1489 479v3M1401 552v4M1436 449v6M952 250v3M1220 419v4M1517 552v3" stroke="#10c4d8" stroke-width="2.5" stroke-opacity="0.7"/>
<path d="M1100 272v4M1169 378v3M1053 300v8M1077 266v5M1451 459v4M1573 513v5M1229 346v8M1556 494v8M1416 495v8M961 175v4M1551 583v8M950 278v6M1576 513v3M1089 214v4M860 237v6M923 261v3M1150 358v5M953 202v6M1177 310v3M1495 520v3M1192 406v4M1082 336v8M1206 386v8M1345 454v4M1392 543v4M963 190v6M1037 252v4M1207 316v5M1437 472v3" stroke="#e0c220" stroke-width="2.5" stroke-opacity="0.85"/>
<path d="M1011 232v4M1474 537v8M1699 595v3M1491 449v3M1310 489v4M1624 507v4M776 235v6M1455 415v3M1390 354v8M1205 319v4M873 266v4M1575 478v4M854 239v4M1321 416v4M1314 393v8M1582 472v6M1177 415v5M1501 587v6M1365 436v5M1261 417v4M1462 385v6M1617 543v3M1544 465v6M1543 448v3M1009 243v3M956 327v8M993 300v8M1494 438v4M1438 471v4M1029 372v4M881 308v5M1332 442v8M1521 483v5M1169 350v3M853 257v8M1531 476v4M1028 274v4M1483 516v3M1145 347v6M876 240v5M1719 548v5M1384 565v5M850 315v8M916 304v5M1570 561v3M1091 279v6M1428 443v6M1303 435v5M1395 498v3M1059 371v6M1439 475v3M1167 389v5M1322 437v4M1271 472v4M1132 266v8M1250 402v5M1326 331v4M1055 215v8M929 335v3M1292 417v4M1363 326v6M1530 599v8M1030 288v3M1302 485v6M880 201v5M1048 194v5M1591 603v5M1343 358v8M1369 517v6M1477 647v3M1109 385v4M1013 299v3M1023 190v3M1565 574v3M1468 584v3M1178 351v3M1593 550v8M1300 365v4M937 185v8M1717 613v8M1186 333v6M1563 575v8M1508 557v3M1075 278v5M1287 310v4M1003 340v4M1053 303v8M869 248v5M1025 318v5M1032 246v5M1423 504v6M1288 406v3M993 283v5M1504 490v8M783 236v4M938 179v8M1471 514v5M1383 532v4M804 232v4M1407 390v8M1282 489v5M1207 413v3M818 244v3M1646 581v8M1015 379v3M1544 469v8M1500 566v8M1394 411v5M1190 382v5M1220 392v5M1031 263v4M1277 318v6M811 249v6M1159 414v6M1036 391v4M1545 507v6M1677 585v3M977 223v8M1308 583v6M1343 446v5M1159 343v4M1217 385v6M1492 516v6" stroke="#18d0d0" stroke-width="3" stroke-opacity="0.7"/>
<path d="M1332 377v3M1090 394v3M1323 407v4M1545 463v8M1147 347v8M1647 586v5M1062 261v6M995 239v3M1758 577v6M1028 205v4M846 217v8M1714 587v5M1610 595v6M1002 304v4M975 294v8M1070 377v6M921 253v3M1275 393v4M915 278v6M1437 576v8M1148 306v6M1147 258v6M1128 291v4M989 255v3M993 304v6M1399 394v6M954 307v4M1311 437v4M1050 252v6M762 295v6M1295 395v8M1187 290v5M1257 319v5M1391 354v6M1242 307v5M866 303v4M1072 367v4M1274 555v4M1218 380v3M1554 574v4M1042 356v4M1236 316v3M1273 368v6M1325 434v4M1007 252v8M962 342v4M1042 212v5M1246 316v5M1335 319v6M1646 480v3M1188 454v6M1459 400v4M905 237v4M1150 493v8M900 367v5M1216 363v4M1325 444v4M1596 553v4M1493 612v6M1193 417v4M1189 349v5M1094 196v6M1133 395v6M1222 366v3M1543 438v6M1392 409v8M1228 331v3M940 278v6M1587 434v5M1225 291v3M1084 261v8M853 220v8M1167 392v6M1632 543v6M1073 212v5M1107 319v4M1142 325v4M1051 386v4M1006 246v4M1138 448v4M1409 422v8M1411 405v8M1080 345v3M1196 394v4M1272 502v4M1144 408v8M1580 435v3M1505 482v5M910 269v3M1609 487v3M1525 497v3M1448 568v3M1495 595v6M843 323v5M891 193v4M1424 413v6M1454 542v5M1476 441v6M1366 471v4M1124 343v6M1003 243v3M1255 312v8M1404 462v3M1488 434v8M1317 486v3M1031 334v5M1356 603v3M1133 407v8M1038 304v8M1770 585v8M1372 377v4M1511 518v3M1414 453v5M884 286v3M927 330v6M1039 367v6M992 221v4M1215 393v8M1442 464v5M1669 497v6M1420 443v6M1420 487v5M1265 481v4M1322 343v8M922 313v3M995 235v8M1102 332v3M1637 565v4M1190 295v5" stroke="#18d0d0" stroke-width="2.5" stroke-opacity="0.7"/>
<path d="M1273 493v5M1534 449v8M1691 536v6M1352 571v8M1584 596v6M1718 580v8M1203 359v6M1120 344v3M1142 348v5M1537 590v8M1495 593v5M1482 451v6M1529 549v8M1286 468v4M1479 447v3M1125 332v4M1188 331v8M1121 370v5M913 220v6M1654 484v4M1526 553v4M1240 406v3M1362 491v4M1245 440v3M1385 390v6M1016 238v4M926 323v5M839 220v4M1335 475v3M1366 393v6M980 221v8M1361 352v5M1301 448v4M949 264v3M1459 434v3M1265 443v6M1544 451v5M1568 542v4M1399 468v4M1443 369v4M1570 571v8M1447 563v4M1075 272v8M947 284v8M1187 413v6M991 199v5M956 220v8M1242 383v8M1282 360v8M1479 479v5M1106 309v8M1276 387v8M1579 515v5M1374 473v6M1487 404v5M1109 292v5M1507 561v4M1456 643v6M1103 258v5M1694 622v6M1004 228v8M1342 461v3M1255 355v8M1088 420v6M1174 357v5M1423 426v4M1059 222v3M1064 191v3M1124 313v6M881 213v4M1205 346v3M1117 433v3M1494 557v8M792 227v4M1396 473v4M1271 416v6M1461 587v3M1543 564v3M1396 464v4M1373 456v3M1143 475v3M1051 288v6M1553 579v6M1053 255v5M1445 547v4M1196 278v6M1567 451v5M1214 367v8M1435 465v6M928 235v6M1059 387v4M1147 284v4M1053 339v6M1235 294v4M1102 210v3M1091 341v4M1204 282v6M1369 528v4M1244 445v3M1023 178v3M935 187v8M1099 314v6M1002 294v6M1333 354v4M1427 400v6M1400 432v8M1241 400v6M1312 366v3M1239 388v3M1236 355v8M1594 555v5M1478 552v3M1044 232v6M1211 290v3M1468 546v3M1379 503v8M1703 625v5M1375 520v3M1163 268v5M1030 249v3M1248 334v8M840 255v8M1260 330v6M797 234v3M1211 252v4M1248 355v4M1358 532v3M1210 326v6M989 303v3M1314 455v4M1459 500v6M1269 440v8M1054 297v8M1498 589v4M1556 524v8M1292 341v4M1630 512v5M1087 303v3M1264 298v3M1281 356v4M1357 544v3M1498 437v4M1495 594v5M1509 528v4M1175 291v6M1259 445v4M980 295v8M1418 614v5M1546 561v5M1551 533v6M1376 537v3M1172 364v5M809 229v5M1306 517v8M1380 586v4M1274 317v3M1660 494v5M978 292v8M959 287v4M1641 563v4M1483 587v6M1255 423v8M1271 443v8M1214 355v6M979 269v3M1508 623v5M1540 467v3M1463 555v4M1411 609v3" stroke="#0a86ff" stroke-width="4" stroke-opacity="0.75"/>
<path d="M1236 309v8M1572 499v5M1134 273v4M1311 350v5M1233 267v3M1042 244v4M1092 256v3M1522 607v5M1270 358v8M1316 435v4M1352 437v6M818 242v6M1340 316v6M1042 265v8M1016 238v5M1439 533v3M1162 271v5M971 301v8M1608 595v4M1497 391v6M983 311v6M919 187v3M1338 445v6M1462 500v8M1283 543v6M1172 365v4M1087 340v5M1439 442v4M1125 314v3M1187 395v3M788 238v5M1383 409v3M1632 597v8M1557 543v6M903 302v8M1138 293v6M1157 356v8M1154 293v3M1165 391v3M1404 429v4M1308 318v8M1453 643v8M1165 332v6M1324 489v5M1493 580v3M1135 352v5M1518 496v3M978 172v5M1598 534v6M1076 370v3M1215 324v3M1417 372v8M953 279v3M1373 450v8M1282 513v3M1057 256v4M1111 297v4M1448 369v3M1030 361v5M1434 635v4M868 217v8M1676 493v4M1353 527v8M1444 570v8M1601 506v3M1558 436v4M1327 367v4M1010 256v5M1398 396v5M916 306v4M1063 238v8M998 239v5M1131 329v3M1251 309v4M1334 512v6M946 190v8M952 247v6M1032 258v8M920 249v4M1084 299v5M857 212v6M1051 189v3M867 199v8M1021 250v4M1067 186v3M919 209v4M1050 251v8M1028 288v8M925 220v5M1483 477v4M1317 406v8M1231 337v4M1212 305v8M1116 384v3M934 361v3M986 293v4M1290 433v3M1150 276v6M1232 334v8M1115 268v8M1393 493v5M1102 365v4M1116 287v4M1350 344v3M1097 323v6M1632 543v6M1390 460v8M1312 342v5M962 281v5M994 331v5M1355 424v6M1150 369v3M1144 270v3M1200 298v3M1081 374v4M1116 315v3M1142 449v5M1557 574v6M1205 370v3M985 342v4" stroke="#10c4d8" stroke-width="4" stroke-opacity="0.7"/>
<path d="M1355 524v3M907 192v6M1102 333v5M1204 313v5M1153 484v8M1313 341v4M1088 378v8M1222 264v5M1281 419v3M986 234v5M1394 387v5M1158 369v5M1480 478v8M1301 464v3M1423 496v8M1559 492v4M1434 480v6M1429 449v8M1382 442v4M823 245v5M1227 329v4M1107 356v8M1026 283v6M1542 560v8M1046 248v4M978 194v3M992 222v3M1253 370v5M1599 524v4M1525 493v6M1146 411v4M991 240v4M1193 464v3M1238 434v6M1430 513v3M1286 347v6M1628 597v3M965 342v3M1523 538v4M1385 402v4M1428 573v8M1736 563v4M1236 421v3M1205 264v5M1669 510v8M1483 493v4M1285 352v6M1109 310v5M1431 488v8M1036 376v5M1618 565v4M1586 556v5M1087 314v8M1140 370v6M1626 578v5M1397 377v5M1134 406v4M1144 346v3M1500 596v6M1499 540v8M1352 351v3M1681 495v4M1162 424v3M1525 528v3M1015 190v8M1024 314v4M1668 602v4M1085 422v6M1017 366v6M972 204v8M1227 420v8M1113 396v8M1068 238v8M1278 460v4M990 253v5M1331 474v6M1370 405v5M1487 571v8M1407 508v8M1430 562v5M1563 501v3M1458 470v4M1454 534v8M1124 302v6M1347 373v3M1137 253v5M1374 533v5M1295 366v4M852 212v3M1070 346v3M1072 217v6M1038 432v6M1602 516v5M1334 403v4M1238 357v3M979 329v8M1464 498v6M1308 445v4M1639 569v4M1247 292v5M1379 517v3M1035 195v8M1214 446v3M1469 523v8M933 185v5M1537 619v8M1126 244v3M1482 420v8M1310 448v8M1601 556v6M1058 215v6M1126 239v6M1285 295v6M1572 498v4M1549 570v6M908 228v6M1437 380v6M1493 572v8M1356 440v5M1279 435v4M1370 464v4M1482 454v8M1095 344v6M1572 556v6M1318 464v8M1205 441v3M925 325v4M1088 344v5M1514 535v8M1020 250v3M1474 440v6M1382 420v6M1487 522v5M1062 310v3M1418 438v5M1378 443v3M1266 344v6M1540 588v4M970 187v4M1270 367v6M1315 505v5M1150 310v8M1561 440v8M1417 483v5M940 286v5M1177 256v8M1603 553v5M1522 467v3M982 194v5M1357 497v5M1461 414v8M1082 333v6M1091 351v3M1092 270v6M1516 532v3M1301 443v3M1572 459v4M1269 502v5M1309 527v4M1146 380v8M1292 338v6M1250 292v6M940 230v8M1163 432v4M793 234v3M1051 218v8M1093 356v5M1346 448v4M1480 438v4M1249 424v3M1040 226v4M1273 401v3M1551 564v3M1033 183v8M1029 211v8M1600 480v5M1506 596v3M1020 226v4M1494 423v6M879 193v5M1321 402v6M1473 610v8M1363 429v8M1346 388v4M1129 394v4M1223 292v6M919 194v4M1376 398v4M1631 594v5M1178 280v3M851 246v4M1150 304v4M1533 493v8M1516 500v4M1364 572v6M1033 239v8M1171 389v4M1126 344v5M1441 545v6M1139 209v4M980 242v4M1467 528v3M1287 323v6M1562 488v6M992 382v5" stroke="#0a86ff" stroke-width="3" stroke-opacity="0.75"/>
<path d="M1281 332v5M908 305v8M1728 594v4M775 236v3M918 220v6M1003 247v5M1618 563v6M1512 578v8M833 225v4M1255 439v5M791 301v3M1045 402v8M1320 431v6M1718 495v3M1552 586v5M1276 402v8M1550 487v5M1081 285v4M1301 310v8M1552 613v3M1428 535v3M1270 334v4M1466 623v4M1095 334v3M1360 556v6M920 312v8M856 225v3M1231 345v4M1374 542v3M1045 319v3M1634 575v6M864 304v6M1272 342v3M1534 586v6M1177 322v3M899 256v4M1404 418v4M1176 383v3M1183 272v3M1558 578v5M1477 502v6M1180 390v3M1064 365v8M1258 406v4M1654 500v6M791 257v5M945 267v5M1239 352v6M1122 311v5M1093 286v5M1269 406v3M1219 397v5M1624 519v6M1495 465v4M1666 478v8M1446 467v4M1056 407v3M1379 394v3M1022 297v3M1171 441v8M1221 333v5M766 246v6M1064 290v8M957 317v8M1363 508v5M1066 371v5M1163 292v5M1239 339v6M1515 442v5M1017 198v6M1496 538v5M1538 536v4M1454 477v6M1256 453v5M883 294v5M1615 577v4M1152 346v8M1265 566v6M1641 517v3M1207 319v3M1184 373v4M1065 353v4M833 264v8M1352 323v6M1344 526v5M1247 437v3M1445 433v6M1421 546v6M958 341v3M1562 604v4M1152 335v6M1347 373v4M1423 468v4M1483 542v3M1131 313v4M1401 494v3M1155 283v4M1181 431v5M1734 596v5M1320 471v4M1118 283v4M1099 221v6M1107 368v8M1001 190v8M1268 413v5M892 318v5M1707 535v4M1173 481v3M810 230v6M1311 503v6M1050 202v5M1064 209v3M1133 320v4M1043 247v8M1170 388v4M868 308v6M1555 500v3M1431 495v5M1251 351v4M1340 520v8M1418 480v5M1020 257v8M1276 412v5M1438 527v6M1159 337v6M1439 435v5M1078 231v8M1320 441v4M1235 303v3" stroke="#30c86e" stroke-width="4" stroke-opacity="0.75"/>
<path d="M1117 294l5 6M922 258l-5 5M983 284l5 8M990 195l7 6M1157 351l7 3M1630 562l-5 8M931 237l5 5M1062 264l3 3M1199 287l-5 4M1525 483l5 8M947 234l-5 6M1141 242l7 6M1616 496l5 4M1399 380l-3 5M1434 435l-5 8M1360 420l5 3M1327 447l-5 3M1337 394l7 6M1430 563l-5 8M1232 358l5 5M948 294l7 6M972 229l-5 5M1598 566l5 6M1067 278l7 8M1372 461l3 8M1344 459l5 8M1481 421l7 8M1606 594l-3 3M1377 503l7 3M1198 377l7 3M1060 277l7 8M1167 303l-5 6M1543 480l-5 4M1366 399l-5 3M1080 254l3 4M1566 479l-3 4M1195 433l5 4M1168 401l7 6" stroke="#d8c828" stroke-width="2.4" stroke-opacity="0.85"/>
<path d="M996 242l-5 8M1294 367l3 6M1451 486l-5 5M1156 381l7 4M1567 528l-3 5M1460 491l7 4M997 234l7 4M1398 451l5 4M1469 544l-5 3M1477 457l5 3M1018 266l7 5M1146 290l7 3M1527 478l7 4M1031 299l5 6M1281 485l5 4M1072 352l-5 3M1183 303l7 3M1365 438l-5 4M1537 607l-3 5M1437 401l-5 5M1327 386l7 8M1067 286l7 8M1627 558l-3 3M958 215l7 8M1219 436l7 6M1191 341l7 5M1126 265l-3 3M886 278l3 5M1492 536l5 3M1348 455l3 4M1544 497l-5 4M911 191l-3 5M1076 322l-5 4M935 226l-3 4M1595 502l3 4M1592 572l-3 5M994 239l5 6M1181 375l-3 8M1566 510l7 5M1103 266l3 3" stroke="#ecb618" stroke-width="2.4" stroke-opacity="0.85"/>
<path d="M935 216v4M1587 521v3M812 229v5M1593 535v5M1296 420v8M1534 472v8M955 262v4M1343 392v5M1413 390v8M1264 324v8M1187 325v4M1347 458v5M1515 488v6M1423 434v3M1410 431v6M1295 379v6M1166 366v4M952 197v6M1332 411v6M832 213v8M1173 340v4M1516 599v4M1132 231v3" stroke="#d8c828" stroke-width="4" stroke-opacity="0.85"/>
<path d="M1267 324v4M1187 408v6M1011 199v6M1050 238v5M1280 474v4M1395 409v4M1245 340v8M1505 502v6M973 278v4M1181 390v6M1268 330v3M1062 325v4" stroke="#ecb618" stroke-width="2.5" stroke-opacity="0.85"/>
<path d="M1664 567v6M1552 535v6M1299 336v8M1073 283v4M1311 345v8M1098 288v6M1090 263v5M1624 497v4M1575 541v3M1522 476v4" stroke="#d8c828" stroke-width="3" stroke-opacity="0.85"/>
<path d="M1120 259l7 3M1268 377l-3 4M985 252l-5 5M1224 359l-3 5M1573 488l-3 6M1066 255l-3 8M1222 321l5 6M1379 438l-3 5M1547 586l7 4M906 219l7 6M1113 342l-3 5M1296 364l7 8M998 212l5 4M890 261l-3 4M1036 239l-3 6M1011 194l5 8M1076 217l5 5M1510 488l7 6M1078 282l5 6M1583 499l7 5M1022 314l5 4M1487 478l-5 4M1651 537l3 3M1049 321l5 6M968 200l3 3M1150 347l5 4M1135 324l-3 4M1552 528l-5 8M1184 338l-5 6M1601 478l7 6M1449 566l7 8M1347 428l7 5M1576 484l5 5M1047 262l-5 4M1520 586l3 3M1190 416l7 4M1486 499l3 6" stroke="#c8cc30" stroke-width="2.4" stroke-opacity="0.85"/>
<path d="M976 244v4M1143 272v8M1182 351v8M1302 381v4M1100 328v4M1433 431v4M1430 450v8M945 189v3M1330 437v8M1561 541v3M1329 466v8M1438 514v3M1366 494v5M977 208v4M1317 443v5M1366 361v6M1514 531v4M890 244v8M1448 487v6M1167 290v5M1532 526v5M1237 317v5M1330 386v3M844 239v5M1514 493v4M1494 458v6M1413 454v3M883 208v5M1562 555v6M1349 398v3M1159 348v5" stroke="#d8c828" stroke-width="2.5" stroke-opacity="0.85"/>
<path d="M1372 392v3M1278 360v6M1573 540v4M1030 288v5M1271 353v6M1549 507v5M1216 411v4M1208 303v4M1590 507v6M1089 311v5M1003 203v3M1253 339v6M914 194v3M1416 401v8M1537 559v3M1192 316v5M1204 327v4M1148 343v6M1444 456v6M1139 335v8M1288 381v5" stroke="#ecb618" stroke-width="3" stroke-opacity="0.85"/>
<path d="M1552 503v6M1449 424v4M1447 525v5M1509 486v5M984 229v4M1400 514v6M1187 358v4M1367 390v5M1507 597v8M1059 285v5M1110 287v3M1187 354v4M1200 398v8M864 200v8" stroke="#c8cc30" stroke-width="3" stroke-opacity="0.85"/>
<path d="M1373 460v4M1524 514v6M1472 494v6M1261 383v3M1205 379v3M891 194v3M1473 542v8M1344 381v5M934 195v6M1228 281v8M1545 484v4M1323 401v8M1463 452v5M1021 286v5" stroke="#ecb618" stroke-width="4" stroke-opacity="0.85"/>
<path d="M1089 248v8M1149 266v8M1137 311v4M1367 450v6M1643 567v3M1481 522v5M1491 561v5M1000 244v8M1251 386v4M1048 281v6M1090 339v8M1021 238v4M816 211v3M1326 398v4M1306 375v6M1279 376v8" stroke="#e0c220" stroke-width="4" stroke-opacity="0.85"/>
<path d="M1409 394v4M862 200v6M939 220v6M1266 365v3M1016 225v6M1391 385v3M1035 333v6M902 192v8M1211 367v8M1016 229v6M1368 431v8M1302 471v3M1174 429v5M1256 425v6M965 248v5" stroke="#c8cc30" stroke-width="4" stroke-opacity="0.85"/>
<path d="M896 218v6M1634 510v4M1087 354v3M1237 300v8M939 211v4M1168 414v3M969 181v3M1147 270v8M1661 539v5M1353 524v6M1098 233v4M1009 205v5M1143 386v6M925 218v4M1108 337v8M1219 424v3M1328 404v6" stroke="#e0c220" stroke-width="3" stroke-opacity="0.85"/>
<path d="M1046 211v6M1171 373v5M1115 298v3M1521 515v4M1561 525v8M909 197v5M1590 524v4M1435 439v5M1144 289v5M1458 455v4M1519 604v3M1550 561v6M943 196v3M1048 229v6M1577 575v8M1454 442v8M886 202v5M1183 341v4M1170 278v3M1497 474v8M1212 396v3M1651 601v4M977 248v6" stroke="#c8cc30" stroke-width="2.5" stroke-opacity="0.85"/>
</g>
<path d="M406.2 307.5L406.2 1094.8L1128.4 1455.8L2066.9 1178.8" fill="none" stroke="#242424" stroke-width="4.8" stroke-linecap="round" stroke-linejoin="round"/>
<path d="M406.2 1094.8L379.9 1103.1M1128.4 1455.8L1149.4 1468.4M586.8 1185.0L561.8 1192.8M767.3 1275.3L742.3 1283.0M947.8 1365.5L922.8 1373.2M1316.1 1400.4L1338.1 1413.6M1503.8 1345.0L1525.8 1358.2M1691.5 1289.6L1713.5 1302.8M1879.2 1234.2L1901.2 1247.4M406.2 1067.6L392.2 1061.8M406.2 994.9L392.2 989.1M406.2 922.2L382.0 910.6M406.2 849.5L392.2 843.7M406.2 776.8L392.2 771.0M406.2 704.1L392.2 698.3M406.2 631.4L392.2 625.6M406.2 558.7L382.0 547.1M406.2 486.0L392.2 480.2M406.2 413.3L392.2 407.5M406.2 340.6L392.2 334.8" fill="none" stroke="#242424" stroke-width="4.2" stroke-linecap="round"/>
<g font-family="'Liberation Serif', serif" fill="#222">
<text x="36" y="1542.4" font-size="82.5" text-anchor="start">Plasma Thickness/cm</text>
<text x="1493" y="1565" font-size="82.5" text-anchor="start">Time/us</text>
<text x="1181.5" y="1537.3" font-size="61" text-anchor="middle">0</text>
<text x="1370.3" y="1481.6" font-size="61" text-anchor="middle">2</text>
<text x="1558.7" y="1424.7" font-size="61" text-anchor="middle">4</text>
<text x="1748.5" y="1370.6" font-size="61" text-anchor="middle">6</text>
<text x="1937.5" y="1316" font-size="61" text-anchor="middle">8</text>
<text x="315" y="1170" font-size="61" text-anchor="middle">200</text>
<text x="498" y="1257.5" font-size="61" text-anchor="middle">150</text>
<text x="679" y="1348" font-size="61" text-anchor="middle">100</text>
<text x="875.5" y="1437.5" font-size="61" text-anchor="middle">50</text>
<text x="255.5" y="572.8" font-size="61" letter-spacing="-1.5">10</text><text x="314.5" y="543.6" font-size="50" letter-spacing="-2.5">15</text>
<text x="255.5" y="936.3" font-size="61" letter-spacing="-1.5">10</text><text x="314.5" y="906.7" font-size="50" letter-spacing="-1">10</text>
</g>
</g>
</svg></body></html>
